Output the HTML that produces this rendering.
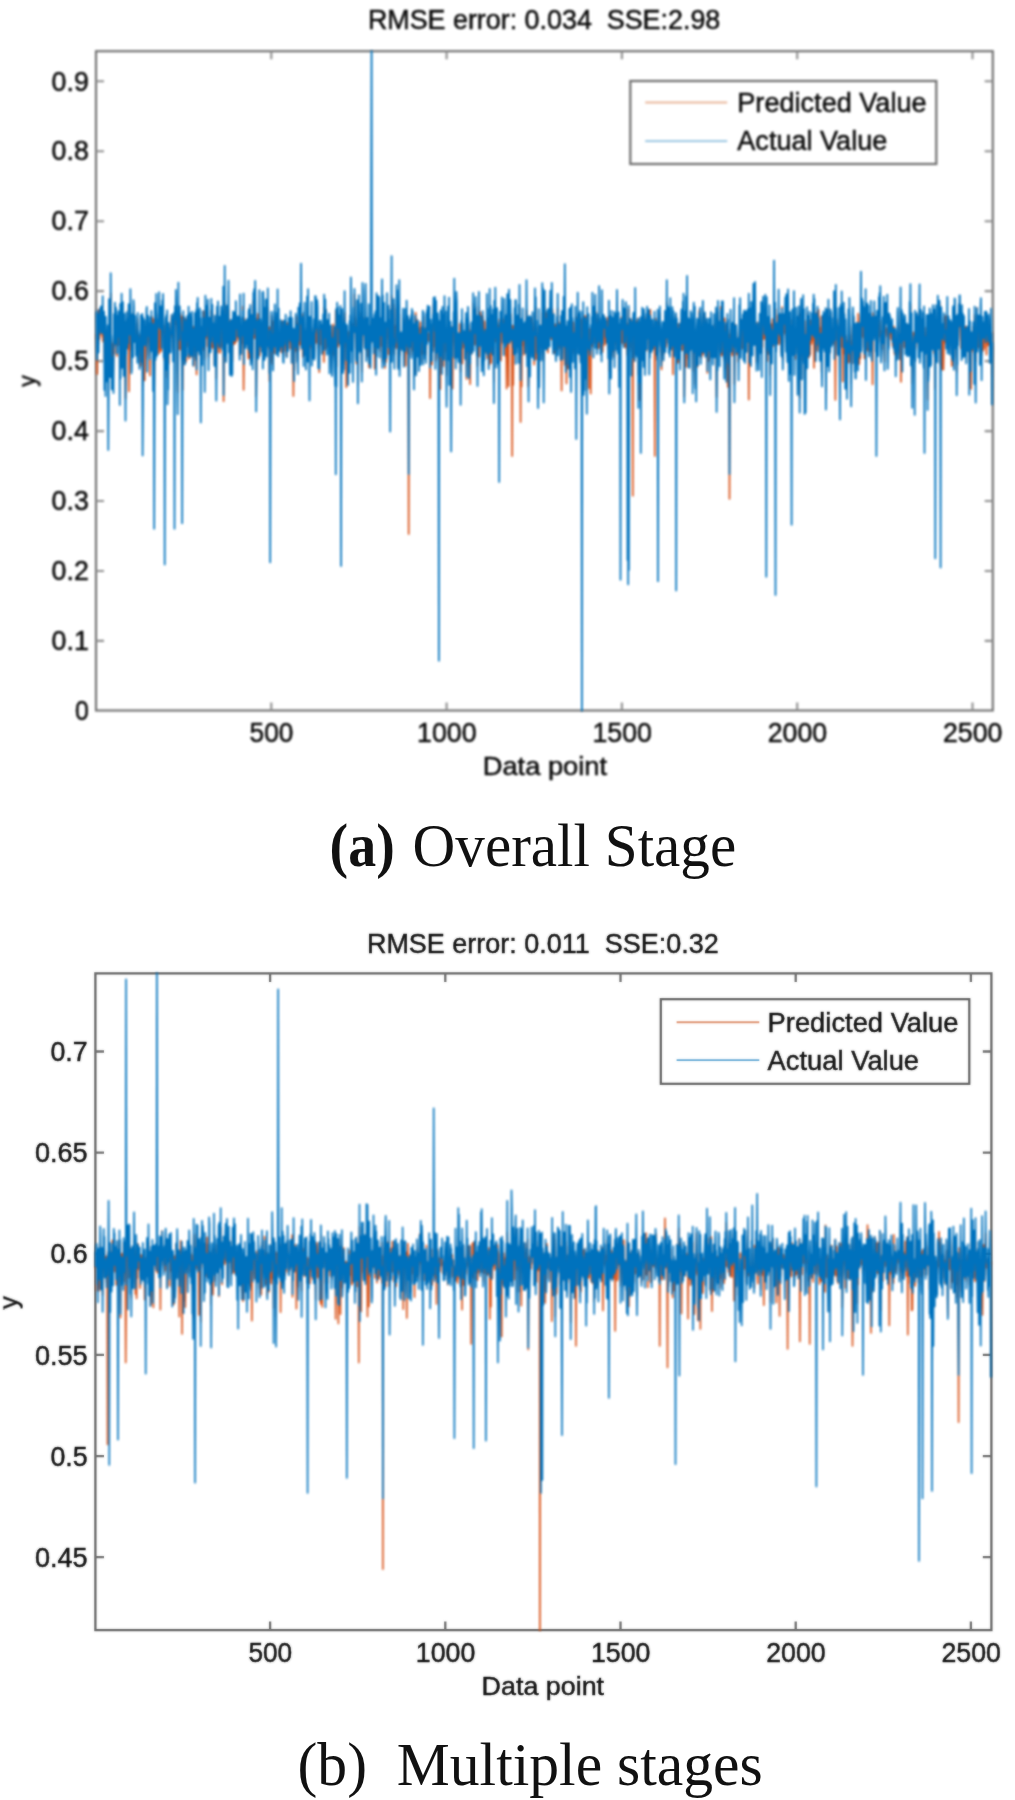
<!DOCTYPE html>
<html lang="en"><head><meta charset="utf-8"><title>Figure</title>
<style>html,body{margin:0;padding:0;background:#fff}svg{display:block}</style>
</head><body>
<svg width="1015" height="1800" viewBox="0 0 1015 1800">
<rect width="1015" height="1800" fill="#fff"/>
<clipPath id="clipA"><rect x="95.2" y="50.4" width="898.4" height="660.9"/></clipPath>
<filter id="bdA" x="-5%" y="-5%" width="110%" height="110%" color-interpolation-filters="sRGB"><feGaussianBlur stdDeviation="1"/></filter>
<filter id="baA" x="-5%" y="-5%" width="110%" height="110%" color-interpolation-filters="sRGB"><feGaussianBlur stdDeviation="1"/></filter>
<g filter="url(#baA)">
<rect x="96.0" y="51.2" width="896.8" height="659.3" fill="none" stroke="#6e6e6e" stroke-width="2.10"/>
<path d="M271.3 710.5v-8.0M271.3 51.2v8.0M446.6 710.5v-8.0M446.6 51.2v8.0M621.9 710.5v-8.0M621.9 51.2v8.0M797.2 710.5v-8.0M797.2 51.2v8.0M972.5 710.5v-8.0M972.5 51.2v8.0M96.0 640.9h8.0M992.7 640.9h-8.0M96.0 571.0h8.0M992.7 571.0h-8.0M96.0 501.0h8.0M992.7 501.0h-8.0M96.0 431.1h8.0M992.7 431.1h-8.0M96.0 361.1h8.0M992.7 361.1h-8.0M96.0 291.1h8.0M992.7 291.1h-8.0M96.0 221.2h8.0M992.7 221.2h-8.0M96.0 151.2h8.0M992.7 151.2h-8.0M96.0 81.3h8.0M992.7 81.3h-8.0" stroke="#909090" stroke-width="2.10" fill="none"/>
</g>
<g filter="url(#bdA)">
<g clip-path="url(#clipA)" fill="none" stroke-linejoin="round" stroke-width="1.70">
<path stroke="#D95319" d="M96.4 333.9L96.7 342.3L97.1 373.9L97.4 331.1L97.8 333.1L98.1 322.4L98.5 343.6L98.8 309.5L99.2 333.7L99.5 339.2L99.9 325.7L100.2 334.5L100.6 327.6L100.9 321.9L101.3 329.6L101.6 326.5L102.0 329.9L102.3 336.6L102.7 327.7L103.0 341.5L103.4 332.7L103.7 336.2L104.1 327.3L104.4 359.5L104.8 356.7L105.1 343.9L105.5 381.0L105.8 329.9L106.2 349.1L106.5 368.4L106.9 357.0L107.2 336.1L107.6 363.7L107.9 349.9L108.3 331.0L108.6 372.3L109.0 332.9L109.3 350.4L109.7 341.4L110.0 336.9L110.4 348.9L110.7 293.4L111.1 337.5L111.4 340.1L111.8 372.6L112.1 357.1L112.5 348.0L112.8 343.5L113.2 378.2L113.5 358.6L113.9 329.3L114.2 347.8L114.6 353.7L114.9 335.4L115.3 345.3L115.6 330.6L116.0 318.7L116.3 327.3L116.7 330.4L117.0 355.9L117.4 339.6L117.7 329.3L118.1 345.1L118.4 317.9L118.8 315.4L119.1 327.3L119.5 315.4L119.8 367.7L120.2 325.7L120.5 359.8L120.9 346.5L121.2 322.6L121.6 312.8L121.9 347.7L122.3 343.4L122.6 339.1L123.0 337.3L123.3 339.3L123.7 365.7L124.0 315.7L124.4 327.2L124.7 329.8L125.1 321.7L125.5 398.6L125.8 382.8L126.2 351.4L126.5 325.4L126.9 325.6L127.2 338.7L127.6 342.3L127.9 331.4L128.3 349.3L128.6 308.9L129.0 391.3L129.3 344.7L129.7 344.0L130.0 323.4L130.4 328.7L130.7 322.6L131.1 344.9L131.4 350.2L131.8 338.7L132.1 322.3L132.5 327.9L132.8 342.3L133.2 339.0L133.5 312.8L133.9 329.9L134.2 317.2L134.6 342.1L134.9 330.9L135.3 322.7L135.6 330.8L136.0 337.0L136.3 348.4L136.7 340.2L137.0 350.1L137.4 347.9L137.7 318.4L138.1 335.0L138.4 341.4L138.8 340.8L139.1 334.8L139.5 360.4L139.8 351.7L140.2 344.3L140.5 365.9L140.9 339.3L141.2 327.1L141.6 343.7L141.9 344.9L142.3 333.2L142.6 361.2L143.0 385.3L143.3 336.1L143.7 362.5L144.0 349.6L144.4 344.6L144.7 380.3L145.1 334.1L145.4 328.1L145.8 326.1L146.1 341.9L146.5 341.0L146.8 332.8L147.2 358.5L147.5 352.6L147.9 327.7L148.2 333.6L148.6 336.4L148.9 331.8L149.3 337.5L149.6 346.8L150.0 375.5L150.3 330.1L150.7 322.6L151.0 336.4L151.4 322.8L151.7 348.5L152.1 316.9L152.4 342.2L152.8 322.0L153.1 363.8L153.5 329.9L153.8 319.1L154.2 386.5L154.6 360.2L154.9 340.7L155.3 337.0L155.6 347.6L156.0 330.6L156.3 313.5L156.7 324.2L157.0 345.8L157.4 348.6L157.7 327.1L158.1 321.2L158.4 338.8L158.8 328.0L159.1 353.7L159.5 347.3L159.8 344.3L160.2 334.1L160.5 331.9L160.9 322.5L161.2 351.4L161.6 346.6L161.9 324.5L162.3 314.3L162.6 332.9L163.0 310.9L163.3 320.5L163.7 335.2L164.0 336.0L164.4 360.0L164.7 331.0L165.1 347.9L165.4 325.3L165.8 332.8L166.1 357.1L166.5 320.1L166.8 328.0L167.2 340.2L167.5 377.3L167.9 359.5L168.2 364.9L168.6 363.2L168.9 340.2L169.3 348.5L169.6 344.5L170.0 335.6L170.3 337.9L170.7 336.6L171.0 335.0L171.4 319.4L171.7 315.1L172.1 318.9L172.4 319.8L172.8 347.3L173.1 349.5L173.5 350.0L173.8 327.2L174.2 343.4L174.5 334.0L174.9 316.0L175.2 324.4L175.6 320.2L175.9 319.4L176.3 310.9L176.6 319.1L177.0 327.4L177.3 342.9L177.7 392.1L178.0 346.8L178.4 305.7L178.7 322.3L179.1 349.5L179.4 325.1L179.8 330.5L180.1 316.1L180.5 313.6L180.8 349.6L181.2 335.1L181.5 353.7L181.9 363.4L182.2 316.5L182.6 389.7L182.9 349.1L183.3 333.9L183.6 347.2L184.0 344.5L184.4 333.4L184.7 347.9L185.1 340.5L185.4 324.6L185.8 318.9L186.1 361.5L186.5 329.3L186.8 345.1L187.2 331.9L187.5 346.2L187.9 344.0L188.2 334.9L188.6 324.2L188.9 358.7L189.3 341.4L189.6 335.6L190.0 317.1L190.3 319.5L190.7 330.2L191.0 334.7L191.4 356.9L191.7 338.7L192.1 322.9L192.4 331.5L192.8 337.3L193.1 354.1L193.5 326.8L193.8 365.8L194.2 336.7L194.5 348.5L194.9 327.1L195.2 337.3L195.6 351.8L195.9 343.9L196.3 319.0L196.6 374.4L197.0 333.9L197.3 330.2L197.7 325.0L198.0 341.3L198.4 338.6L198.7 317.4L199.1 326.4L199.4 350.8L199.8 331.4L200.1 337.9L200.5 343.8L200.8 345.4L201.2 334.5L201.5 334.3L201.9 350.5L202.2 346.1L202.6 339.6L202.9 349.9L203.3 345.2L203.6 337.1L204.0 311.2L204.3 330.3L204.7 359.4L205.0 350.3L205.4 317.9L205.7 338.2L206.1 311.9L206.4 325.0L206.8 336.6L207.1 313.0L207.5 346.3L207.8 325.7L208.2 331.5L208.5 356.7L208.9 336.2L209.2 343.9L209.6 333.3L209.9 351.7L210.3 347.3L210.6 341.4L211.0 310.7L211.3 326.1L211.7 347.7L212.0 330.1L212.4 313.3L212.7 344.5L213.1 347.9L213.5 325.8L213.8 348.3L214.2 330.8L214.5 364.4L214.9 343.7L215.2 326.1L215.6 349.2L215.9 333.6L216.3 378.4L216.6 335.1L217.0 311.8L217.3 332.4L217.7 352.5L218.0 335.7L218.4 326.2L218.7 343.9L219.1 347.3L219.4 335.8L219.8 331.8L220.1 352.8L220.5 345.6L220.8 336.1L221.2 320.4L221.5 347.0L221.9 327.3L222.2 323.4L222.6 328.5L222.9 344.3L223.3 318.3L223.6 401.2L224.0 366.8L224.3 345.8L224.7 302.3L225.0 332.7L225.4 324.3L225.7 315.3L226.1 344.1L226.4 339.7L226.8 319.8L227.1 332.2L227.5 317.1L227.8 332.6L228.2 336.6L228.5 309.8L228.9 339.3L229.2 336.8L229.6 344.5L229.9 358.5L230.3 340.9L230.6 320.3L231.0 337.5L231.3 325.4L231.7 340.8L232.0 346.0L232.4 361.2L232.7 326.0L233.1 319.9L233.4 330.1L233.8 344.3L234.1 336.6L234.5 321.8L234.8 322.8L235.2 343.4L235.5 338.6L235.9 325.9L236.2 327.1L236.6 341.1L236.9 324.8L237.3 328.8L237.6 330.9L238.0 337.5L238.3 331.5L238.7 335.6L239.0 340.0L239.4 318.6L239.7 355.5L240.1 313.4L240.4 350.2L240.8 329.4L241.1 353.8L241.5 341.7L241.8 339.6L242.2 343.1L242.6 337.4L242.9 306.5L243.3 328.5L243.6 389.8L244.0 351.2L244.3 318.1L244.7 324.3L245.0 330.6L245.4 331.8L245.7 341.3L246.1 322.9L246.4 338.3L246.8 340.7L247.1 324.9L247.5 324.4L247.8 323.5L248.2 349.9L248.5 358.7L248.9 336.8L249.2 323.4L249.6 338.0L249.9 357.8L250.3 335.9L250.6 340.5L251.0 320.9L251.3 325.2L251.7 322.0L252.0 361.6L252.4 331.7L252.7 358.3L253.1 324.7L253.4 300.8L253.8 326.9L254.1 311.4L254.5 338.2L254.8 329.0L255.2 317.0L255.5 325.5L255.9 328.9L256.2 396.2L256.6 356.2L256.9 318.8L257.3 349.4L257.6 338.3L258.0 313.9L258.3 343.5L258.7 356.6L259.0 331.9L259.4 328.6L259.7 355.2L260.1 321.2L260.4 329.5L260.8 337.8L261.1 343.2L261.5 341.3L261.8 347.8L262.2 342.2L262.5 326.7L262.9 347.4L263.2 319.1L263.6 326.8L263.9 341.1L264.3 328.2L264.6 353.8L265.0 337.3L265.3 350.1L265.7 329.0L266.0 324.8L266.4 342.0L266.7 344.9L267.1 337.0L267.4 344.9L267.8 308.2L268.1 331.2L268.5 348.3L268.8 344.8L269.2 327.2L269.5 380.9L269.9 328.0L270.2 328.4L270.6 328.3L270.9 342.0L271.3 315.0L271.7 320.3L272.0 360.2L272.4 363.8L272.7 348.8L273.1 364.9L273.4 321.5L273.8 339.6L274.1 330.9L274.5 353.1L274.8 317.3L275.2 347.0L275.5 325.0L275.9 330.3L276.2 332.8L276.6 341.8L276.9 326.6L277.3 331.1L277.6 336.1L278.0 336.2L278.3 337.2L278.7 333.0L279.0 343.4L279.4 336.2L279.7 334.3L280.1 340.8L280.4 345.6L280.8 348.7L281.1 327.4L281.5 352.4L281.8 323.4L282.2 321.0L282.5 338.0L282.9 352.2L283.2 346.9L283.6 342.5L283.9 341.6L284.3 351.1L284.6 344.2L285.0 336.2L285.3 341.2L285.7 335.6L286.0 332.6L286.4 355.1L286.7 356.6L287.1 322.9L287.4 342.3L287.8 346.7L288.1 344.1L288.5 341.4L288.8 326.4L289.2 325.8L289.5 330.5L289.9 337.6L290.2 348.6L290.6 343.2L290.9 339.6L291.3 340.8L291.6 348.9L292.0 341.3L292.3 346.0L292.7 340.5L293.0 338.6L293.4 395.9L293.7 350.7L294.1 349.1L294.4 370.5L294.8 334.9L295.1 341.0L295.5 334.2L295.8 327.0L296.2 350.9L296.5 316.7L296.9 344.2L297.2 343.9L297.6 339.2L297.9 359.9L298.3 323.1L298.6 350.7L299.0 325.9L299.3 344.1L299.7 312.0L300.0 330.7L300.4 344.7L300.8 325.9L301.1 311.7L301.5 346.1L301.8 343.8L302.2 343.4L302.5 337.6L302.9 357.0L303.2 314.0L303.6 355.3L303.9 336.7L304.3 329.6L304.6 332.0L305.0 345.0L305.3 352.1L305.7 338.9L306.0 355.3L306.4 343.7L306.7 336.0L307.1 316.5L307.4 345.3L307.8 348.0L308.1 328.0L308.5 343.6L308.8 335.1L309.2 354.7L309.5 358.2L309.9 317.3L310.2 347.6L310.6 335.7L310.9 347.2L311.3 337.5L311.6 327.9L312.0 347.3L312.3 334.9L312.7 335.2L313.0 337.8L313.4 342.4L313.7 339.6L314.1 332.0L314.4 352.4L314.8 339.4L315.1 336.5L315.5 333.0L315.8 314.7L316.2 342.9L316.5 340.1L316.9 336.9L317.2 332.8L317.6 328.1L317.9 344.7L318.3 348.1L318.6 345.7L319.0 349.5L319.3 372.2L319.7 325.0L320.0 338.7L320.4 331.0L320.7 344.4L321.1 332.5L321.4 326.4L321.8 340.0L322.1 345.5L322.5 349.0L322.8 333.4L323.2 347.1L323.5 327.9L323.9 361.9L324.2 307.5L324.6 317.6L324.9 335.6L325.3 315.3L325.6 349.0L326.0 309.8L326.3 346.1L326.7 346.8L327.0 323.3L327.4 346.7L327.7 324.9L328.1 335.7L328.4 326.2L328.8 350.5L329.1 330.5L329.5 353.1L329.9 334.7L330.2 340.7L330.6 338.4L330.9 340.7L331.3 337.5L331.6 362.4L332.0 373.7L332.3 356.1L332.7 355.0L333.0 324.4L333.4 354.7L333.7 335.7L334.1 339.3L334.4 343.5L334.8 360.7L335.1 358.9L335.5 342.7L335.8 310.8L336.2 321.4L336.5 366.4L336.9 326.9L337.2 328.1L337.6 329.5L337.9 340.8L338.3 346.7L338.6 317.6L339.0 319.6L339.3 343.5L339.7 335.5L340.0 334.7L340.4 321.0L340.7 335.9L341.1 341.4L341.4 344.2L341.8 329.0L342.1 318.6L342.5 330.2L342.8 324.3L343.2 357.8L343.5 325.7L343.9 363.8L344.2 349.3L344.6 312.3L344.9 314.4L345.3 332.7L345.6 346.8L346.0 333.9L346.3 387.3L346.7 327.3L347.0 330.3L347.4 337.6L347.7 332.6L348.1 368.3L348.4 342.6L348.8 342.4L349.1 331.6L349.5 344.5L349.8 349.0L350.2 334.0L350.5 345.6L350.9 322.6L351.2 334.1L351.6 336.5L351.9 343.9L352.3 335.5L352.6 323.9L353.0 360.0L353.3 328.2L353.7 326.4L354.0 323.7L354.4 294.2L354.7 318.9L355.1 317.0L355.4 328.4L355.8 348.7L356.1 340.9L356.5 363.5L356.8 342.7L357.2 325.0L357.5 319.5L357.9 384.6L358.2 324.7L358.6 344.4L358.9 324.0L359.3 331.0L359.7 350.6L360.0 320.6L360.4 351.5L360.7 340.9L361.1 312.9L361.4 338.6L361.8 371.8L362.1 338.3L362.5 321.8L362.8 316.8L363.2 331.8L363.5 328.4L363.9 335.0L364.2 333.5L364.6 347.1L364.9 345.6L365.3 317.7L365.6 321.5L366.0 328.5L366.3 349.9L366.7 345.2L367.0 333.2L367.4 346.6L367.7 339.3L368.1 356.6L368.4 332.4L368.8 329.8L369.1 367.5L369.5 327.6L369.8 341.8L370.2 328.8L370.5 344.6L370.9 321.7L371.2 330.0L371.6 335.3L371.9 338.0L372.3 341.6L372.6 321.8L373.0 332.7L373.3 318.7L373.7 339.7L374.0 326.4L374.4 333.4L374.7 368.6L375.1 321.1L375.4 327.5L375.8 324.0L376.1 357.9L376.5 311.7L376.8 327.0L377.2 336.1L377.5 329.0L377.9 328.0L378.2 336.2L378.6 342.4L378.9 302.3L379.3 318.4L379.6 351.5L380.0 326.1L380.3 332.3L380.7 338.8L381.0 345.8L381.4 344.9L381.7 335.3L382.1 313.8L382.4 361.6L382.8 332.9L383.1 343.9L383.5 350.2L383.8 344.7L384.2 329.1L384.5 343.5L384.9 367.9L385.2 353.2L385.6 335.9L385.9 362.2L386.3 359.1L386.6 357.6L387.0 319.1L387.3 338.1L387.7 317.8L388.0 324.8L388.4 308.7L388.8 354.2L389.1 330.1L389.5 341.5L389.8 336.1L390.2 361.9L390.5 323.2L390.9 322.6L391.2 340.5L391.6 295.8L391.9 343.8L392.3 338.5L392.6 337.4L393.0 345.6L393.3 335.0L393.7 304.5L394.0 347.2L394.4 354.7L394.7 327.5L395.1 340.7L395.4 326.0L395.8 336.6L396.1 345.2L396.5 308.7L396.8 348.1L397.2 324.2L397.5 337.4L397.9 325.2L398.2 367.1L398.6 337.9L398.9 338.7L399.3 314.1L399.6 354.9L400.0 354.8L400.3 340.1L400.7 333.8L401.0 339.0L401.4 335.9L401.7 348.6L402.1 340.9L402.4 340.7L402.8 330.7L403.1 318.5L403.5 328.6L403.8 352.3L404.2 326.3L404.5 330.2L404.9 334.7L405.2 320.2L405.6 365.8L405.9 341.9L406.3 343.2L406.6 318.8L407.0 318.2L407.3 332.9L407.7 353.7L408.0 339.3L408.4 319.1L408.7 533.9L409.1 331.5L409.4 345.7L409.8 339.2L410.1 343.8L410.5 347.3L410.8 330.9L411.2 326.0L411.5 355.1L411.9 324.8L412.2 347.5L412.6 325.0L412.9 350.3L413.3 344.2L413.6 327.5L414.0 376.6L414.3 332.5L414.7 353.8L415.0 339.2L415.4 316.7L415.7 312.9L416.1 372.7L416.4 318.9L416.8 350.3L417.1 343.5L417.5 339.8L417.9 342.0L418.2 327.1L418.6 330.1L418.9 351.1L419.3 355.9L419.6 349.7L420.0 332.4L420.3 322.0L420.7 361.8L421.0 340.4L421.4 328.1L421.7 334.0L422.1 353.9L422.4 339.5L422.8 337.4L423.1 351.5L423.5 316.4L423.8 354.2L424.2 341.9L424.5 353.4L424.9 349.1L425.2 328.0L425.6 350.2L425.9 354.6L426.3 347.5L426.6 336.5L427.0 328.8L427.3 341.0L427.7 332.1L428.0 341.1L428.4 336.1L428.7 337.7L429.1 333.7L429.4 340.8L429.8 336.7L430.1 398.1L430.5 334.0L430.8 333.8L431.2 342.0L431.5 327.4L431.9 364.6L432.2 324.3L432.6 336.9L432.9 350.9L433.3 326.5L433.6 304.6L434.0 323.4L434.3 337.9L434.7 346.6L435.0 318.8L435.4 360.3L435.7 361.0L436.1 305.2L436.4 333.4L436.8 334.9L437.1 330.8L437.5 319.1L437.8 331.8L438.2 356.7L438.5 358.8L438.9 326.1L439.2 322.3L439.6 332.4L439.9 335.7L440.3 389.0L440.6 336.1L441.0 339.9L441.3 345.1L441.7 340.6L442.0 351.9L442.4 318.8L442.7 335.7L443.1 348.9L443.4 366.2L443.8 327.1L444.1 357.5L444.5 337.0L444.8 321.1L445.2 332.3L445.5 351.2L445.9 335.0L446.2 341.4L446.6 375.4L447.0 348.2L447.3 329.0L447.7 327.6L448.0 325.9L448.4 351.0L448.7 356.8L449.1 316.5L449.4 354.9L449.8 332.6L450.1 349.8L450.5 341.0L450.8 364.8L451.2 331.7L451.5 327.3L451.9 327.0L452.2 365.8L452.6 388.5L452.9 347.2L453.3 336.4L453.6 332.2L454.0 340.1L454.3 317.6L454.7 324.1L455.0 316.5L455.4 344.9L455.7 354.0L456.1 320.3L456.4 311.0L456.8 322.2L457.1 356.4L457.5 334.3L457.8 342.4L458.2 340.7L458.5 339.1L458.9 353.3L459.2 352.1L459.6 357.4L459.9 323.8L460.3 341.3L460.6 371.6L461.0 338.4L461.3 348.4L461.7 350.7L462.0 330.5L462.4 363.5L462.7 335.4L463.1 336.0L463.4 342.6L463.8 342.1L464.1 347.6L464.5 345.1L464.8 338.4L465.2 359.0L465.5 333.7L465.9 331.8L466.2 330.5L466.6 379.0L466.9 341.4L467.3 341.6L467.6 352.9L468.0 338.2L468.3 334.8L468.7 324.7L469.0 366.8L469.4 352.4L469.7 330.5L470.1 384.1L470.4 349.0L470.8 344.0L471.1 353.9L471.5 329.9L471.8 336.4L472.2 329.9L472.5 342.9L472.9 322.7L473.2 303.5L473.6 343.9L473.9 327.8L474.3 329.0L474.6 333.3L475.0 344.8L475.3 333.4L475.7 307.2L476.1 341.5L476.4 323.5L476.8 349.1L477.1 323.3L477.5 366.0L477.8 344.0L478.2 333.7L478.5 320.4L478.9 307.2L479.2 356.6L479.6 326.4L479.9 330.6L480.3 312.1L480.6 333.8L481.0 331.4L481.3 315.5L481.7 348.2L482.0 337.2L482.4 337.8L482.7 326.5L483.1 317.3L483.4 353.8L483.8 360.0L484.1 333.0L484.5 321.4L484.8 327.4L485.2 332.5L485.5 333.5L485.9 352.7L486.2 342.8L486.6 343.6L486.9 324.6L487.3 358.2L487.6 326.6L488.0 332.1L488.3 342.3L488.7 360.1L489.0 332.8L489.4 364.9L489.7 314.9L490.1 351.1L490.4 348.0L490.8 325.1L491.1 362.9L491.5 328.6L491.8 321.8L492.2 344.4L492.5 335.5L492.9 324.1L493.2 330.3L493.6 334.9L493.9 381.3L494.3 317.6L494.6 337.2L495.0 341.4L495.3 308.4L495.7 340.3L496.0 326.0L496.4 342.2L496.7 317.8L497.1 312.1L497.4 336.4L497.8 336.5L498.1 339.0L498.5 325.0L498.8 351.4L499.2 346.9L499.5 319.6L499.9 340.6L500.2 332.5L500.6 334.9L500.9 360.4L501.3 319.3L501.6 328.0L502.0 327.0L502.3 320.0L502.7 318.1L503.0 332.6L503.4 344.3L503.7 339.5L504.1 332.0L504.4 320.9L504.8 319.2L505.2 331.3L505.5 327.1L505.9 356.5L506.2 330.0L506.6 388.6L506.9 347.6L507.3 314.0L507.6 322.3L508.0 336.5L508.3 337.3L508.7 386.1L509.0 300.0L509.4 340.4L509.7 341.3L510.1 328.4L510.4 314.2L510.8 314.3L511.1 323.7L511.5 340.5L511.8 341.6L512.2 456.0L512.5 325.7L512.9 350.7L513.2 385.0L513.6 326.1L513.9 346.6L514.3 330.5L514.6 327.3L515.0 348.7L515.3 337.0L515.7 345.2L516.0 335.4L516.4 339.3L516.7 330.0L517.1 326.2L517.4 334.5L517.8 346.0L518.1 325.6L518.5 340.0L518.8 317.0L519.2 344.1L519.5 307.9L519.9 349.0L520.2 341.5L520.6 422.0L520.9 323.9L521.3 355.1L521.6 386.5L522.0 336.5L522.3 332.3L522.7 325.0L523.0 345.2L523.4 332.4L523.7 336.0L524.1 354.7L524.4 332.1L524.8 329.1L525.1 346.3L525.5 331.9L525.8 343.9L526.2 334.1L526.5 310.0L526.9 333.0L527.2 356.9L527.6 347.9L527.9 328.5L528.3 386.4L528.6 380.5L529.0 321.9L529.3 348.7L529.7 346.8L530.0 353.9L530.4 322.1L530.7 336.8L531.1 318.4L531.4 328.6L531.8 327.1L532.1 347.3L532.5 322.6L532.8 341.1L533.2 327.7L533.5 337.2L533.9 344.3L534.2 364.6L534.6 315.2L535.0 310.9L535.3 335.3L535.7 307.6L536.0 359.6L536.4 335.0L536.7 326.9L537.1 339.0L537.4 334.1L537.8 346.0L538.1 378.9L538.5 357.3L538.8 332.9L539.2 384.0L539.5 327.2L539.9 344.9L540.2 346.9L540.6 344.5L540.9 325.6L541.3 343.3L541.6 348.3L542.0 335.4L542.3 312.8L542.7 346.2L543.0 307.6L543.4 348.0L543.7 360.7L544.1 350.2L544.4 334.2L544.8 306.9L545.1 346.6L545.5 342.0L545.8 340.6L546.2 313.2L546.5 345.9L546.9 340.8L547.2 328.1L547.6 330.9L547.9 352.4L548.3 311.2L548.6 338.0L549.0 334.2L549.3 339.0L549.7 337.8L550.0 333.4L550.4 319.4L550.7 308.2L551.1 331.1L551.4 339.3L551.8 307.8L552.1 337.6L552.5 310.1L552.8 332.9L553.2 343.6L553.5 324.6L553.9 327.0L554.2 343.4L554.6 353.1L554.9 343.0L555.3 324.4L555.6 342.0L556.0 351.9L556.3 349.5L556.7 324.2L557.0 329.2L557.4 331.0L557.7 308.3L558.1 349.9L558.4 346.2L558.8 322.4L559.1 347.3L559.5 323.9L559.8 342.2L560.2 348.1L560.5 333.5L560.9 327.7L561.2 334.4L561.6 390.5L561.9 321.5L562.3 327.0L562.6 344.9L563.0 340.6L563.3 340.1L563.7 320.5L564.1 331.2L564.4 349.2L564.8 365.1L565.1 333.3L565.5 347.8L565.8 350.7L566.2 351.4L566.5 383.4L566.9 328.6L567.2 337.6L567.6 325.3L567.9 332.8L568.3 368.4L568.6 328.2L569.0 346.9L569.3 330.5L569.7 342.3L570.0 356.0L570.4 347.8L570.7 328.9L571.1 360.7L571.4 357.0L571.8 333.9L572.1 358.2L572.5 329.4L572.8 350.6L573.2 322.1L573.5 323.6L573.9 331.0L574.2 353.3L574.6 337.6L574.9 367.6L575.3 333.0L575.6 343.1L576.0 340.6L576.3 317.5L576.7 328.5L577.0 345.7L577.4 339.4L577.7 312.9L578.1 327.7L578.4 344.0L578.8 342.9L579.1 321.8L579.5 315.4L579.8 354.7L580.2 332.5L580.5 359.8L580.9 327.1L581.2 340.2L581.6 350.9L581.9 319.9L582.3 318.1L582.6 321.0L583.0 348.0L583.3 374.4L583.7 350.5L584.0 341.0L584.4 362.8L584.7 336.7L585.1 315.9L585.4 325.0L585.8 367.4L586.1 336.5L586.5 350.4L586.8 390.4L587.2 316.2L587.5 352.2L587.9 330.8L588.2 333.0L588.6 345.2L588.9 346.5L589.3 388.2L589.6 335.9L590.0 328.5L590.3 345.7L590.7 393.5L591.0 341.4L591.4 345.9L591.7 329.6L592.1 346.5L592.4 329.6L592.8 316.6L593.2 334.8L593.5 338.8L593.9 330.1L594.2 333.8L594.6 342.9L594.9 329.5L595.3 310.4L595.6 338.4L596.0 312.2L596.3 333.5L596.7 327.7L597.0 336.7L597.4 329.2L597.7 326.6L598.1 318.9L598.4 328.6L598.8 348.5L599.1 316.5L599.5 335.1L599.8 339.0L600.2 338.9L600.5 346.6L600.9 325.2L601.2 327.3L601.6 335.3L601.9 323.5L602.3 339.7L602.6 351.9L603.0 343.0L603.3 337.5L603.7 315.7L604.0 322.8L604.4 336.1L604.7 325.0L605.1 345.1L605.4 332.6L605.8 339.6L606.1 341.6L606.5 335.9L606.8 334.0L607.2 335.3L607.5 317.6L607.9 335.3L608.2 349.1L608.6 333.1L608.9 322.5L609.3 370.9L609.6 329.3L610.0 322.6L610.3 351.1L610.7 338.3L611.0 363.0L611.4 331.6L611.7 343.6L612.1 356.1L612.4 324.3L612.8 351.5L613.1 348.1L613.5 329.4L613.8 327.4L614.2 338.6L614.5 357.3L614.9 332.8L615.2 330.3L615.6 341.4L615.9 337.6L616.3 333.0L616.6 344.8L617.0 303.4L617.3 335.8L617.7 342.0L618.0 335.9L618.4 330.4L618.7 331.9L619.1 370.3L619.4 332.1L619.8 336.8L620.1 324.1L620.5 346.2L620.8 336.5L621.2 331.7L621.5 317.3L621.9 331.5L622.3 343.0L622.6 320.4L623.0 323.9L623.3 335.7L623.7 345.1L624.0 319.3L624.4 335.8L624.7 340.5L625.1 346.4L625.4 347.4L625.8 309.1L626.1 332.2L626.5 335.7L626.8 346.7L627.2 355.2L627.5 324.2L627.9 334.9L628.2 338.8L628.6 308.9L628.9 363.8L629.3 320.7L629.6 347.4L630.0 331.4L630.3 327.1L630.7 340.3L631.0 319.4L631.4 351.1L631.7 343.8L632.1 331.9L632.4 324.8L632.8 495.7L633.1 324.7L633.5 324.5L633.8 342.5L634.2 356.8L634.5 340.1L634.9 343.1L635.2 320.4L635.6 332.3L635.9 321.7L636.3 329.7L636.6 336.5L637.0 332.5L637.3 319.9L637.7 323.0L638.0 318.3L638.4 374.8L638.7 334.3L639.1 343.1L639.4 351.1L639.8 399.9L640.1 329.5L640.5 331.9L640.8 327.3L641.2 349.4L641.5 335.4L641.9 339.0L642.2 325.3L642.6 344.0L642.9 352.4L643.3 350.8L643.6 354.9L644.0 328.1L644.3 332.6L644.7 317.0L645.0 340.1L645.4 330.4L645.7 336.9L646.1 325.7L646.4 350.4L646.8 333.5L647.1 323.2L647.5 326.3L647.8 321.8L648.2 328.5L648.5 330.4L648.9 331.6L649.2 352.2L649.6 315.4L649.9 352.8L650.3 309.8L650.6 329.7L651.0 323.6L651.4 329.9L651.7 349.2L652.1 320.3L652.4 343.2L652.8 341.8L653.1 333.8L653.5 344.9L653.8 345.9L654.2 328.5L654.5 323.0L654.9 456.0L655.2 326.6L655.6 318.5L655.9 330.0L656.3 341.5L656.6 332.0L657.0 333.6L657.3 349.6L657.7 321.3L658.0 353.7L658.4 351.9L658.7 322.9L659.1 337.2L659.4 331.1L659.8 312.6L660.1 336.0L660.5 336.1L660.8 341.1L661.2 356.6L661.5 369.5L661.9 340.8L662.2 337.4L662.6 332.0L662.9 344.2L663.3 340.9L663.6 354.8L664.0 340.5L664.3 329.1L664.7 336.3L665.0 315.5L665.4 328.7L665.7 318.6L666.1 339.3L666.4 346.9L666.8 301.8L667.1 322.6L667.5 327.3L667.8 331.5L668.2 338.2L668.5 323.1L668.9 345.8L669.2 342.9L669.6 337.5L669.9 347.8L670.3 325.7L670.6 327.8L671.0 344.0L671.3 323.8L671.7 346.4L672.0 337.2L672.4 319.8L672.7 342.5L673.1 374.3L673.4 324.2L673.8 338.4L674.1 330.0L674.5 352.1L674.8 323.9L675.2 329.1L675.5 322.9L675.9 315.5L676.2 319.3L676.6 342.9L676.9 335.0L677.3 337.9L677.6 362.9L678.0 323.9L678.3 361.9L678.7 335.4L679.0 340.8L679.4 335.1L679.7 328.2L680.1 338.6L680.5 339.0L680.8 340.7L681.2 319.6L681.5 326.0L681.9 331.2L682.2 350.2L682.6 340.5L682.9 314.3L683.3 317.4L683.6 342.3L684.0 337.8L684.3 396.7L684.7 333.8L685.0 317.6L685.4 343.0L685.7 345.7L686.1 315.5L686.4 366.8L686.8 324.5L687.1 307.2L687.5 341.9L687.8 336.8L688.2 343.6L688.5 358.8L688.9 329.4L689.2 352.9L689.6 347.5L689.9 337.1L690.3 335.8L690.6 322.4L691.0 346.9L691.3 325.2L691.7 335.0L692.0 334.5L692.4 338.3L692.7 371.0L693.1 338.2L693.4 321.3L693.8 340.5L694.1 343.6L694.5 345.9L694.8 330.8L695.2 352.2L695.5 384.2L695.9 334.6L696.2 368.0L696.6 336.2L696.9 367.1L697.3 334.3L697.6 366.0L698.0 364.1L698.3 329.8L698.7 351.6L699.0 347.3L699.4 310.4L699.7 347.2L700.1 331.3L700.4 330.2L700.8 358.2L701.1 329.9L701.5 338.3L701.8 356.7L702.2 327.6L702.5 320.8L702.9 309.6L703.2 354.2L703.6 351.4L703.9 346.1L704.3 340.7L704.6 339.0L705.0 315.4L705.3 351.4L705.7 331.5L706.0 337.1L706.4 355.8L706.7 323.8L707.1 337.7L707.4 372.8L707.8 333.9L708.1 330.4L708.5 330.9L708.8 360.8L709.2 341.0L709.6 331.3L709.9 331.7L710.3 347.8L710.6 335.7L711.0 329.0L711.3 335.5L711.7 342.1L712.0 350.9L712.4 342.8L712.7 333.1L713.1 343.5L713.4 333.9L713.8 324.4L714.1 355.7L714.5 329.9L714.8 355.1L715.2 331.5L715.5 350.3L715.9 334.2L716.2 328.1L716.6 397.1L716.9 370.0L717.3 333.4L717.6 349.9L718.0 312.2L718.3 338.4L718.7 329.8L719.0 323.7L719.4 325.9L719.7 351.7L720.1 333.5L720.4 330.3L720.8 306.8L721.1 348.9L721.5 355.7L721.8 316.2L722.2 348.0L722.5 354.8L722.9 319.3L723.2 343.5L723.6 346.4L723.9 337.8L724.3 360.9L724.6 318.4L725.0 339.9L725.3 328.7L725.7 342.1L726.0 325.7L726.4 368.9L726.7 332.8L727.1 365.1L727.4 322.0L727.8 386.8L728.1 333.2L728.5 353.2L728.8 342.5L729.2 360.8L729.5 498.8L729.9 334.2L730.2 337.1L730.6 328.9L730.9 335.4L731.3 328.4L731.6 339.0L732.0 338.5L732.3 355.4L732.7 344.9L733.0 323.2L733.4 332.2L733.7 352.3L734.1 324.2L734.4 384.0L734.8 339.2L735.1 324.6L735.5 337.6L735.8 327.5L736.2 328.8L736.5 338.7L736.9 354.5L737.2 346.9L737.6 350.0L737.9 345.7L738.3 361.8L738.6 353.2L739.0 344.4L739.4 336.8L739.7 337.7L740.1 322.5L740.4 345.1L740.8 345.5L741.1 339.3L741.5 319.6L741.8 348.4L742.2 328.8L742.5 339.9L742.9 324.0L743.2 341.5L743.6 350.1L743.9 327.8L744.3 338.0L744.6 332.3L745.0 348.0L745.3 337.8L745.7 339.9L746.0 340.0L746.4 340.6L746.7 340.8L747.1 315.1L747.4 318.9L747.8 323.0L748.1 336.3L748.5 329.2L748.8 399.6L749.2 323.9L749.5 343.9L749.9 348.6L750.2 330.4L750.6 326.5L750.9 344.4L751.3 325.6L751.6 340.3L752.0 343.7L752.3 317.0L752.7 342.3L753.0 325.7L753.4 307.2L753.7 329.5L754.1 337.4L754.4 341.0L754.8 340.2L755.1 328.0L755.5 322.3L755.8 334.9L756.2 337.3L756.5 362.3L756.9 342.0L757.2 351.2L757.6 322.3L757.9 339.7L758.3 344.7L758.6 346.9L759.0 346.8L759.3 332.9L759.7 323.2L760.0 328.1L760.4 343.8L760.7 332.1L761.1 325.9L761.4 342.5L761.8 352.8L762.1 310.3L762.5 346.9L762.8 305.9L763.2 314.5L763.5 339.1L763.9 333.3L764.2 337.5L764.6 338.6L764.9 337.6L765.3 315.3L765.6 319.3L766.0 338.7L766.3 351.8L766.7 327.6L767.0 327.3L767.4 360.9L767.7 333.3L768.1 354.1L768.5 331.8L768.8 335.6L769.2 351.9L769.5 320.2L769.9 333.5L770.2 374.8L770.6 327.3L770.9 354.6L771.3 331.6L771.6 324.0L772.0 346.3L772.3 332.6L772.7 319.0L773.0 334.4L773.4 346.0L773.7 324.9L774.1 332.7L774.4 330.5L774.8 314.0L775.1 318.6L775.5 309.1L775.8 335.7L776.2 349.1L776.5 328.9L776.9 338.1L777.2 333.9L777.6 329.5L777.9 315.4L778.3 332.1L778.6 313.8L779.0 344.2L779.3 322.9L779.7 330.6L780.0 331.3L780.4 340.8L780.7 331.3L781.1 339.4L781.4 353.0L781.8 351.2L782.1 307.0L782.5 354.1L782.8 359.9L783.2 350.2L783.5 330.2L783.9 333.7L784.2 330.5L784.6 322.8L784.9 320.4L785.3 315.2L785.6 332.9L786.0 340.0L786.3 307.2L786.7 313.9L787.0 344.0L787.4 337.2L787.7 333.2L788.1 318.7L788.4 336.2L788.8 367.2L789.1 340.0L789.5 335.3L789.8 352.9L790.2 327.0L790.5 360.9L790.9 332.1L791.2 338.3L791.6 339.8L791.9 339.6L792.3 319.5L792.6 351.2L793.0 313.3L793.3 348.4L793.7 318.0L794.0 325.9L794.4 353.9L794.7 344.3L795.1 329.5L795.4 358.9L795.8 329.8L796.1 344.0L796.5 346.5L796.8 334.7L797.2 322.9L797.6 349.9L797.9 354.4L798.3 337.3L798.6 340.0L799.0 314.1L799.3 356.8L799.7 397.8L800.0 342.9L800.4 337.9L800.7 305.5L801.1 307.3L801.4 322.7L801.8 361.1L802.1 334.8L802.5 325.6L802.8 349.4L803.2 312.8L803.5 355.6L803.9 356.4L804.2 322.9L804.6 378.6L804.9 354.4L805.3 343.6L805.6 370.7L806.0 341.0L806.3 320.7L806.7 332.7L807.0 313.0L807.4 358.7L807.7 322.6L808.1 353.8L808.4 350.9L808.8 348.7L809.1 357.2L809.5 319.0L809.8 327.5L810.2 354.8L810.5 330.6L810.9 332.4L811.2 320.5L811.6 343.8L811.9 330.7L812.3 333.4L812.6 331.9L813.0 313.2L813.3 340.4L813.7 322.1L814.0 367.8L814.4 308.7L814.7 332.5L815.1 337.8L815.4 322.2L815.8 344.8L816.1 341.1L816.5 312.9L816.8 336.9L817.2 350.9L817.5 333.7L817.9 346.1L818.2 328.2L818.6 309.9L818.9 318.6L819.3 340.1L819.6 341.4L820.0 358.5L820.3 345.9L820.7 327.6L821.0 337.1L821.4 316.7L821.7 371.9L822.1 343.4L822.4 328.1L822.8 336.7L823.1 342.4L823.5 342.2L823.8 345.3L824.2 324.2L824.5 338.5L824.9 346.8L825.2 346.3L825.6 336.2L825.9 392.2L826.3 354.7L826.7 327.8L827.0 335.9L827.4 359.2L827.7 319.6L828.1 341.7L828.4 307.8L828.8 343.4L829.1 359.1L829.5 341.5L829.8 328.7L830.2 352.7L830.5 329.9L830.9 335.6L831.2 332.7L831.6 340.5L831.9 328.7L832.3 332.5L832.6 334.6L833.0 344.4L833.3 330.8L833.7 318.2L834.0 305.3L834.4 335.7L834.7 340.5L835.1 349.3L835.4 399.8L835.8 320.0L836.1 338.6L836.5 324.8L836.8 319.5L837.2 338.7L837.5 339.4L837.9 351.2L838.2 337.1L838.6 327.0L838.9 339.1L839.3 325.9L839.6 346.8L840.0 397.2L840.3 344.8L840.7 339.0L841.0 326.5L841.4 347.0L841.7 307.4L842.1 343.2L842.4 331.4L842.8 381.4L843.1 325.7L843.5 353.6L843.8 312.8L844.2 338.9L844.5 324.3L844.9 337.7L845.2 353.9L845.6 340.0L845.9 335.8L846.3 345.4L846.6 342.4L847.0 375.3L847.3 340.8L847.7 342.4L848.0 341.2L848.4 360.3L848.7 362.6L849.1 361.4L849.4 334.2L849.8 336.1L850.1 339.6L850.5 347.1L850.8 350.6L851.2 383.1L851.5 341.0L851.9 363.7L852.2 335.4L852.6 325.7L852.9 333.2L853.3 342.9L853.6 317.7L854.0 339.0L854.3 326.3L854.7 359.2L855.0 331.9L855.4 365.1L855.8 340.4L856.1 351.0L856.5 347.0L856.8 324.0L857.2 352.3L857.5 349.0L857.9 364.8L858.2 313.7L858.6 332.1L858.9 336.4L859.3 363.8L859.6 330.2L860.0 344.5L860.3 358.5L860.7 318.5L861.0 311.3L861.4 347.4L861.7 325.1L862.1 328.2L862.4 333.5L862.8 327.8L863.1 337.0L863.5 329.4L863.8 320.4L864.2 333.4L864.5 358.3L864.9 332.0L865.2 323.5L865.6 313.0L865.9 348.8L866.3 336.7L866.6 346.0L867.0 316.7L867.3 325.5L867.7 350.6L868.0 322.4L868.4 328.1L868.7 348.7L869.1 355.2L869.4 341.8L869.8 323.0L870.1 319.5L870.5 346.5L870.8 331.3L871.2 351.9L871.5 346.1L871.9 335.9L872.2 334.2L872.6 384.3L872.9 345.1L873.3 313.1L873.6 329.0L874.0 336.9L874.3 316.2L874.7 323.5L875.0 327.9L875.4 318.4L875.7 337.9L876.1 344.7L876.4 336.1L876.8 324.3L877.1 315.7L877.5 344.6L877.8 316.0L878.2 342.5L878.5 333.0L878.9 336.5L879.2 326.2L879.6 328.4L879.9 324.2L880.3 319.8L880.6 341.9L881.0 337.7L881.3 344.0L881.7 349.2L882.0 331.6L882.4 337.9L882.7 320.3L883.1 335.8L883.4 326.0L883.8 327.2L884.1 317.2L884.5 361.4L884.9 314.0L885.2 325.2L885.6 329.5L885.9 332.1L886.3 332.6L886.6 328.6L887.0 336.3L887.3 331.1L887.7 340.1L888.0 353.2L888.4 329.1L888.7 346.2L889.1 318.8L889.4 329.1L889.8 334.7L890.1 334.1L890.5 331.7L890.8 333.5L891.2 338.8L891.5 339.5L891.9 330.4L892.2 331.8L892.6 345.5L892.9 339.8L893.3 347.4L893.6 331.0L894.0 326.6L894.3 348.6L894.7 354.5L895.0 341.2L895.4 345.1L895.7 354.2L896.1 343.5L896.4 343.6L896.8 359.3L897.1 353.2L897.5 334.3L897.8 326.6L898.2 333.7L898.5 335.1L898.9 343.2L899.2 342.9L899.6 335.0L899.9 342.3L900.3 339.3L900.6 311.5L901.0 381.8L901.3 335.8L901.7 326.7L902.0 350.5L902.4 354.4L902.7 332.9L903.1 328.1L903.4 328.8L903.8 340.0L904.1 328.9L904.5 347.4L904.8 319.9L905.2 321.4L905.5 340.3L905.9 331.9L906.2 349.5L906.6 341.1L906.9 330.0L907.3 343.6L907.6 344.0L908.0 324.9L908.3 333.6L908.7 325.9L909.0 350.3L909.4 337.3L909.7 328.2L910.1 332.3L910.4 304.5L910.8 343.4L911.1 336.6L911.5 332.1L911.8 337.0L912.2 383.3L912.5 360.8L912.9 348.1L913.2 346.7L913.6 344.3L913.9 332.3L914.3 336.6L914.7 342.6L915.0 334.9L915.4 349.5L915.7 344.2L916.1 335.4L916.4 333.1L916.8 331.7L917.1 338.2L917.5 327.4L917.8 330.1L918.2 335.3L918.5 343.3L918.9 349.3L919.2 321.2L919.6 310.1L919.9 353.6L920.3 349.8L920.6 351.2L921.0 319.9L921.3 339.3L921.7 337.6L922.0 324.2L922.4 344.2L922.7 337.5L923.1 340.3L923.4 349.6L923.8 348.4L924.1 328.6L924.5 348.4L924.8 327.7L925.2 341.6L925.5 333.5L925.9 341.6L926.2 341.3L926.6 336.4L926.9 333.4L927.3 331.7L927.6 399.7L928.0 339.2L928.3 362.4L928.7 346.7L929.0 316.0L929.4 333.6L929.7 333.1L930.1 327.6L930.4 341.2L930.8 341.0L931.1 346.9L931.5 329.3L931.8 346.5L932.2 335.0L932.5 338.4L932.9 323.8L933.2 340.8L933.6 333.8L933.9 352.9L934.3 336.1L934.6 343.4L935.0 388.7L935.3 318.6L935.7 333.3L936.0 337.9L936.4 353.2L936.7 338.7L937.1 333.1L937.4 349.0L937.8 329.3L938.1 330.0L938.5 348.3L938.8 324.7L939.2 329.0L939.5 303.2L939.9 325.1L940.2 364.8L940.6 355.5L940.9 341.0L941.3 328.0L941.6 369.5L942.0 335.0L942.3 333.7L942.7 362.6L943.0 338.8L943.4 369.8L943.8 349.8L944.1 317.3L944.5 334.0L944.8 342.7L945.2 342.6L945.5 339.8L945.9 315.9L946.2 332.1L946.6 329.0L946.9 330.4L947.3 333.9L947.6 336.3L948.0 346.9L948.3 338.4L948.7 330.4L949.0 335.1L949.4 337.2L949.7 344.1L950.1 336.0L950.4 342.4L950.8 322.9L951.1 341.3L951.5 334.1L951.8 366.0L952.2 342.5L952.5 332.9L952.9 316.4L953.2 324.5L953.6 327.5L953.9 356.9L954.3 357.7L954.6 324.1L955.0 311.3L955.3 336.3L955.7 331.5L956.0 341.8L956.4 321.9L956.7 372.0L957.1 348.8L957.4 340.6L957.8 335.1L958.1 345.1L958.5 336.5L958.8 318.7L959.2 327.0L959.5 303.4L959.9 310.1L960.2 316.5L960.6 314.4L960.9 348.2L961.3 341.8L961.6 339.1L962.0 319.5L962.3 332.9L962.7 348.9L963.0 337.5L963.4 353.2L963.7 347.9L964.1 329.6L964.4 343.3L964.8 334.2L965.1 338.1L965.5 348.5L965.8 326.7L966.2 342.5L966.5 343.2L966.9 348.3L967.2 340.5L967.6 334.6L967.9 351.3L968.3 326.1L968.6 350.7L969.0 327.7L969.3 362.5L969.7 349.7L970.0 329.8L970.4 341.7L970.7 357.9L971.1 388.8L971.4 344.2L971.8 334.1L972.1 351.1L972.5 337.3L972.9 335.4L973.2 326.5L973.6 334.7L973.9 338.5L974.3 354.1L974.6 314.7L975.0 342.8L975.3 351.5L975.7 361.6L976.0 334.7L976.4 350.6L976.7 331.0L977.1 307.9L977.4 342.8L977.8 335.2L978.1 331.7L978.5 347.5L978.8 334.6L979.2 329.9L979.5 327.6L979.9 362.0L980.2 357.2L980.6 325.3L980.9 322.3L981.3 342.5L981.6 354.7L982.0 325.1L982.3 324.7L982.7 345.3L983.0 341.7L983.4 350.6L983.7 333.0L984.1 348.3L984.4 324.2L984.8 334.2L985.1 328.9L985.5 326.3L985.8 329.8L986.2 344.5L986.5 354.7L986.9 330.4L987.2 328.1L987.6 345.7L987.9 342.7L988.3 345.1L988.6 319.6L989.0 326.5L989.3 338.2L989.7 341.8L990.0 330.0L990.4 325.4L990.7 335.5L991.1 336.0L991.4 341.1L991.8 332.5L992.1 374.4L992.5 346.3"/>
<path stroke="#0072BD" d="M96.4 311.9L96.7 349.4L97.1 359.9L97.4 310.3L97.8 324.4L98.1 321.3L98.5 352.5L98.8 314.6L99.2 324.9L99.5 328.1L99.9 312.1L100.2 308.2L100.6 332.9L100.9 306.3L101.3 319.3L101.6 332.8L102.0 317.2L102.3 325.1L102.7 296.1L103.0 325.0L103.4 334.3L103.7 330.5L104.1 311.7L104.4 390.0L104.8 360.9L105.1 336.7L105.5 396.1L105.8 316.5L106.2 338.0L106.5 367.5L106.9 381.5L107.2 336.4L107.6 342.4L107.9 325.3L108.3 450.0L108.6 396.7L109.0 299.1L109.3 341.0L109.7 335.8L110.0 327.5L110.4 377.2L110.7 273.2L111.1 338.5L111.4 335.5L111.8 389.5L112.1 370.2L112.5 357.8L112.8 359.2L113.2 378.1L113.5 393.1L113.9 314.1L114.2 347.8L114.6 328.4L114.9 302.7L115.3 344.0L115.6 331.0L116.0 307.7L116.3 322.7L116.7 326.6L117.0 353.5L117.4 353.0L117.7 315.3L118.1 336.9L118.4 311.2L118.8 315.5L119.1 321.9L119.5 316.0L119.8 404.9L120.2 303.9L120.5 378.4L120.9 347.6L121.2 324.0L121.6 293.7L121.9 367.8L122.3 342.7L122.6 321.5L123.0 302.2L123.3 340.7L123.7 375.9L124.0 323.1L124.4 313.8L124.7 332.0L125.1 321.8L125.5 420.6L125.8 346.7L126.2 354.8L126.5 312.0L126.9 330.2L127.2 348.3L127.6 342.9L127.9 318.9L128.3 343.2L128.6 304.2L129.0 325.6L129.3 334.8L129.7 313.7L130.0 330.7L130.4 289.1L130.7 311.9L131.1 344.2L131.4 373.5L131.8 369.9L132.1 314.4L132.5 321.6L132.8 325.9L133.2 357.1L133.5 300.2L133.9 306.2L134.2 338.3L134.6 341.9L134.9 339.5L135.3 315.7L135.6 324.4L136.0 355.4L136.3 335.3L136.7 356.1L137.0 341.9L137.4 363.0L137.7 312.9L138.1 332.0L138.4 331.1L138.8 338.9L139.1 349.3L139.5 369.1L139.8 347.4L140.2 341.4L140.5 339.8L140.9 315.8L141.2 315.0L141.6 350.6L141.9 362.5L142.3 313.9L142.6 455.4L143.0 402.0L143.3 317.6L143.7 338.4L144.0 339.5L144.4 320.2L144.7 341.8L145.1 345.6L145.4 327.0L145.8 332.6L146.1 332.8L146.5 309.8L146.8 306.9L147.2 371.8L147.5 324.6L147.9 320.5L148.2 315.7L148.6 335.8L148.9 335.7L149.3 323.7L149.6 344.0L150.0 359.2L150.3 317.3L150.7 317.8L151.0 350.3L151.4 310.9L151.7 345.7L152.1 323.2L152.4 352.3L152.8 329.4L153.1 391.0L153.5 339.7L153.8 324.0L154.2 528.7L154.6 370.0L154.9 303.1L155.3 346.3L155.6 359.7L156.0 336.4L156.3 293.8L156.7 339.3L157.0 355.9L157.4 343.1L157.7 323.8L158.1 319.5L158.4 321.5L158.8 309.9L159.1 292.2L159.5 327.4L159.8 321.5L160.2 328.8L160.5 322.2L160.9 306.4L161.2 322.3L161.6 348.2L161.9 311.3L162.3 300.3L162.6 325.1L163.0 293.9L163.3 309.3L163.7 357.2L164.0 338.6L164.4 351.8L164.7 564.5L165.1 347.2L165.4 325.8L165.8 317.1L166.1 369.6L166.5 314.6L166.8 332.5L167.2 310.3L167.5 404.3L167.9 377.3L168.2 389.6L168.6 323.2L168.9 322.9L169.3 332.4L169.6 352.9L170.0 349.8L170.3 348.0L170.7 352.5L171.0 330.4L171.4 323.4L171.7 314.7L172.1 323.4L172.4 333.7L172.8 318.5L173.1 361.5L173.5 350.8L173.8 313.1L174.2 331.8L174.5 528.7L174.9 306.2L175.2 319.4L175.6 316.4L175.9 289.8L176.3 305.8L176.6 312.2L177.0 327.2L177.3 371.6L177.7 414.2L178.0 367.8L178.4 282.6L178.7 334.8L179.1 340.0L179.4 319.2L179.8 306.4L180.1 322.4L180.5 318.4L180.8 323.2L181.2 338.6L181.5 342.3L181.9 377.2L182.2 523.2L182.6 332.0L182.9 356.6L183.3 311.1L183.6 359.8L184.0 355.6L184.4 317.1L184.7 364.6L185.1 363.9L185.4 330.8L185.8 321.3L186.1 349.0L186.5 319.6L186.8 356.3L187.2 315.9L187.5 332.1L187.9 340.8L188.2 341.1L188.6 306.5L188.9 353.5L189.3 335.9L189.6 357.0L190.0 313.2L190.3 318.0L190.7 350.4L191.0 337.6L191.4 355.7L191.7 332.0L192.1 311.7L192.4 343.7L192.8 332.2L193.1 365.4L193.5 329.2L193.8 356.4L194.2 330.9L194.5 340.5L194.9 312.8L195.2 337.9L195.6 341.3L195.9 359.9L196.3 309.8L196.6 369.5L197.0 303.0L197.3 308.2L197.7 297.9L198.0 350.9L198.4 346.6L198.7 329.1L199.1 311.1L199.4 354.5L199.8 308.4L200.1 354.3L200.5 318.2L200.8 422.4L201.2 328.1L201.5 332.9L201.9 326.5L202.2 365.1L202.6 311.0L202.9 342.4L203.3 335.5L203.6 346.6L204.0 318.3L204.3 323.5L204.7 391.9L205.0 348.8L205.4 295.7L205.7 334.9L206.1 320.1L206.4 336.0L206.8 310.6L207.1 305.5L207.5 310.8L207.8 299.5L208.2 315.9L208.5 370.3L208.9 342.3L209.2 352.6L209.6 317.6L209.9 324.2L210.3 352.3L210.6 351.4L211.0 326.8L211.3 298.8L211.7 341.5L212.0 313.2L212.4 304.8L212.7 336.0L213.1 322.8L213.5 329.5L213.8 344.5L214.2 331.3L214.5 366.0L214.9 315.5L215.2 327.1L215.6 359.5L215.9 340.1L216.3 400.6L216.6 350.9L217.0 306.7L217.3 318.5L217.7 342.1L218.0 301.4L218.4 335.6L218.7 337.9L219.1 346.2L219.4 316.7L219.8 319.3L220.1 348.1L220.5 337.9L220.8 317.9L221.2 306.4L221.5 323.8L221.9 310.9L222.2 311.6L222.6 349.7L222.9 333.4L223.3 286.6L223.6 394.9L224.0 313.8L224.3 355.9L224.7 265.8L225.0 345.0L225.4 315.0L225.7 318.5L226.1 361.9L226.4 333.4L226.8 305.7L227.1 343.3L227.5 309.4L227.8 336.4L228.2 302.7L228.5 280.5L228.9 352.3L229.2 322.2L229.6 344.4L229.9 375.0L230.3 329.0L230.6 324.9L231.0 319.9L231.3 320.1L231.7 376.1L232.0 339.9L232.4 374.3L232.7 322.6L233.1 311.4L233.4 323.1L233.8 340.3L234.1 322.8L234.5 312.3L234.8 317.3L235.2 341.0L235.5 336.9L235.9 301.2L236.2 329.2L236.6 325.1L236.9 328.0L237.3 316.2L237.6 316.8L238.0 335.9L238.3 336.7L238.7 335.0L239.0 325.6L239.4 316.1L239.7 359.7L240.1 294.4L240.4 352.7L240.8 327.2L241.1 353.8L241.5 340.5L241.8 331.0L242.2 317.5L242.6 323.6L242.9 310.6L243.3 335.6L243.6 293.6L244.0 364.1L244.3 323.2L244.7 321.9L245.0 338.8L245.4 329.6L245.7 348.1L246.1 320.1L246.4 337.8L246.8 344.3L247.1 320.0L247.5 318.8L247.8 325.6L248.2 348.8L248.5 311.9L248.9 309.2L249.2 336.0L249.6 352.6L249.9 342.8L250.3 304.9L250.6 364.8L251.0 320.5L251.3 336.0L251.7 314.8L252.0 360.3L252.4 318.9L252.7 369.3L253.1 325.7L253.4 292.7L253.8 334.1L254.1 289.3L254.5 328.0L254.8 314.0L255.2 280.8L255.5 308.2L255.9 318.6L256.2 411.4L256.6 345.9L256.9 321.6L257.3 345.3L257.6 349.8L258.0 320.0L258.3 358.8L258.7 353.4L259.0 341.2L259.4 290.0L259.7 345.2L260.1 327.8L260.4 319.2L260.8 343.3L261.1 347.4L261.5 322.0L261.8 351.7L262.2 345.3L262.5 292.4L262.9 368.6L263.2 291.7L263.6 302.1L263.9 343.0L264.3 307.6L264.6 359.9L265.0 349.6L265.3 341.9L265.7 345.1L266.0 299.3L266.4 355.0L266.7 356.7L267.1 338.6L267.4 343.9L267.8 288.4L268.1 340.9L268.5 345.5L268.8 346.8L269.2 347.4L269.5 373.3L269.9 330.6L270.2 562.3L270.6 338.0L270.9 324.9L271.3 311.6L271.7 316.5L272.0 350.6L272.4 334.2L272.7 342.7L273.1 370.5L273.4 335.0L273.8 343.2L274.1 311.5L274.5 346.6L274.8 304.4L275.2 323.2L275.5 334.0L275.9 322.5L276.2 354.6L276.6 338.5L276.9 312.5L277.3 337.4L277.6 289.3L278.0 354.5L278.3 356.3L278.7 308.5L279.0 341.5L279.4 343.7L279.7 351.1L280.1 336.8L280.4 346.9L280.8 320.1L281.1 345.3L281.5 346.1L281.8 321.8L282.2 329.5L282.5 343.4L282.9 353.6L283.2 362.0L283.6 362.8L283.9 320.5L284.3 345.1L284.6 342.3L285.0 331.0L285.3 328.1L285.7 314.6L286.0 325.9L286.4 339.2L286.7 357.3L287.1 325.7L287.4 336.3L287.8 334.9L288.1 351.2L288.5 328.5L288.8 317.7L289.2 337.8L289.5 321.4L289.9 333.9L290.2 340.9L290.6 311.2L290.9 339.9L291.3 339.3L291.6 363.0L292.0 317.9L292.3 341.8L292.7 336.5L293.0 341.6L293.4 328.7L293.7 345.3L294.1 381.0L294.4 338.6L294.8 329.0L295.1 343.1L295.5 321.4L295.8 313.7L296.2 347.3L296.5 325.2L296.9 344.2L297.2 361.9L297.6 356.1L297.9 374.1L298.3 307.5L298.6 341.4L299.0 340.1L299.3 321.3L299.7 303.4L300.0 323.8L300.4 302.7L300.8 308.1L301.1 263.6L301.5 348.6L301.8 339.3L302.2 344.8L302.5 319.6L302.9 347.0L303.2 316.6L303.6 366.1L303.9 312.0L304.3 321.1L304.6 302.5L305.0 345.5L305.3 355.5L305.7 335.2L306.0 369.6L306.4 335.8L306.7 327.9L307.1 296.6L307.4 329.1L307.8 361.7L308.1 289.1L308.5 350.4L308.8 330.8L309.2 351.7L309.5 400.5L309.9 316.8L310.2 341.8L310.6 317.3L310.9 344.3L311.3 320.2L311.6 301.8L312.0 365.6L312.3 334.8L312.7 341.9L313.0 332.0L313.4 358.4L313.7 330.0L314.1 319.2L314.4 360.0L314.8 355.8L315.1 296.1L315.5 332.3L315.8 296.4L316.2 320.7L316.5 318.1L316.9 328.5L317.2 300.2L317.6 306.5L317.9 333.3L318.3 368.2L318.6 356.4L319.0 334.1L319.3 368.7L319.7 320.9L320.0 323.9L320.4 322.6L320.7 320.7L321.1 328.7L321.4 324.5L321.8 328.4L322.1 354.1L322.5 333.2L322.8 332.9L323.2 314.3L323.5 340.4L323.9 350.2L324.2 294.5L324.6 316.8L324.9 310.0L325.3 299.4L325.6 337.8L326.0 310.2L326.3 347.6L326.7 354.8L327.0 326.7L327.4 327.2L327.7 320.1L328.1 337.1L328.4 336.8L328.8 354.6L329.1 313.7L329.5 373.4L329.9 330.8L330.2 341.1L330.6 340.5L330.9 325.4L331.3 338.7L331.6 369.0L332.0 376.2L332.3 371.6L332.7 349.0L333.0 338.2L333.4 338.7L333.7 341.3L334.1 326.4L334.4 339.9L334.8 368.1L335.1 385.7L335.5 344.3L335.8 474.3L336.2 308.9L336.5 386.4L336.9 333.0L337.2 302.7L337.6 328.3L337.9 307.3L338.3 324.1L338.6 323.3L339.0 315.3L339.3 341.9L339.7 344.1L340.0 336.1L340.4 305.8L340.7 321.9L341.1 566.0L341.4 330.1L341.8 318.4L342.1 308.9L342.5 322.8L342.8 328.1L343.2 372.9L343.5 323.6L343.9 369.4L344.2 334.8L344.6 291.0L344.9 325.9L345.3 322.5L345.6 341.8L346.0 324.5L346.3 360.1L346.7 337.0L347.0 325.2L347.4 337.4L347.7 357.1L348.1 385.1L348.4 345.5L348.8 350.8L349.1 345.6L349.5 321.2L349.8 372.8L350.2 315.3L350.5 362.6L350.9 277.4L351.2 304.5L351.6 318.4L351.9 350.6L352.3 328.0L352.6 327.6L353.0 382.0L353.3 343.7L353.7 307.7L354.0 328.4L354.4 288.8L354.7 305.1L355.1 332.3L355.4 331.5L355.8 327.5L356.1 358.1L356.5 361.2L356.8 348.8L357.2 300.2L357.5 309.0L357.9 403.3L358.2 328.0L358.6 352.9L358.9 295.2L359.3 333.1L359.7 340.2L360.0 317.9L360.4 351.3L360.7 340.0L361.1 303.5L361.4 343.5L361.8 381.6L362.1 335.5L362.5 282.9L362.8 289.2L363.2 332.9L363.5 334.4L363.9 319.4L364.2 331.7L364.6 332.2L364.9 348.3L365.3 294.4L365.6 283.9L366.0 318.1L366.3 361.2L366.7 356.8L367.0 317.9L367.4 348.5L367.7 341.0L368.1 326.7L368.4 337.9L368.8 304.2L369.1 363.7L369.5 327.0L369.8 353.7L370.2 325.9L370.5 367.8L370.9 339.5L371.2 180.0L371.6 20.0L371.9 324.5L372.3 341.4L372.6 326.8L373.0 337.9L373.3 318.5L373.7 353.5L374.0 335.1L374.4 314.6L374.7 346.3L375.1 314.1L375.4 311.4L375.8 325.2L376.1 374.7L376.5 293.1L376.8 356.2L377.2 330.2L377.5 321.2L377.9 295.9L378.2 328.7L378.6 348.2L378.9 317.3L379.3 297.2L379.6 357.5L380.0 317.8L380.3 330.4L380.7 326.6L381.0 335.4L381.4 322.5L381.7 317.5L382.1 279.4L382.4 367.7L382.8 295.4L383.1 327.7L383.5 350.5L383.8 358.8L384.2 302.9L384.5 363.0L384.9 365.8L385.2 357.4L385.6 322.5L385.9 348.9L386.3 358.0L386.6 342.7L387.0 293.0L387.3 326.9L387.7 324.9L388.0 311.1L388.4 305.5L388.8 347.6L389.1 319.9L389.5 327.8L389.8 336.9L390.2 431.6L390.5 309.8L390.9 313.2L391.2 338.8L391.6 256.1L391.9 361.8L392.3 333.7L392.6 323.3L393.0 343.9L393.3 329.3L393.7 299.1L394.0 349.5L394.4 368.8L394.7 341.6L395.1 348.0L395.4 338.9L395.8 343.0L396.1 330.5L396.5 285.2L396.8 328.8L397.2 290.2L397.5 332.0L397.9 341.2L398.2 368.8L398.6 326.4L398.9 320.3L399.3 280.1L399.6 376.0L400.0 344.0L400.3 337.5L400.7 335.1L401.0 332.4L401.4 347.5L401.7 332.8L402.1 349.9L402.4 350.4L402.8 326.5L403.1 308.6L403.5 344.6L403.8 366.7L404.2 341.6L404.5 331.5L404.9 332.8L405.2 308.9L405.6 351.1L405.9 336.8L406.3 343.6L406.6 300.6L407.0 326.0L407.3 337.1L407.7 347.0L408.0 316.0L408.4 356.6L408.7 474.0L409.1 324.8L409.4 320.6L409.8 328.8L410.1 346.6L410.5 317.8L410.8 335.9L411.2 314.8L411.5 358.0L411.9 308.9L412.2 334.4L412.6 311.3L412.9 326.2L413.3 341.5L413.6 334.3L414.0 389.4L414.3 324.1L414.7 357.5L415.0 358.5L415.4 315.6L415.7 325.9L416.1 375.3L416.4 322.1L416.8 355.9L417.1 331.3L417.5 356.7L417.9 320.4L418.2 334.0L418.6 328.7L418.9 371.2L419.3 353.9L419.6 361.7L420.0 342.5L420.3 334.4L420.7 365.1L421.0 343.7L421.4 337.2L421.7 327.1L422.1 338.3L422.4 330.4L422.8 310.6L423.1 364.4L423.5 312.4L423.8 359.0L424.2 334.6L424.5 348.3L424.9 329.0L425.2 337.9L425.6 348.6L425.9 363.1L426.3 313.6L426.6 323.7L427.0 310.2L427.3 343.8L427.7 305.6L428.0 327.6L428.4 319.9L428.7 330.6L429.1 320.4L429.4 306.6L429.8 337.3L430.1 367.4L430.5 330.5L430.8 319.7L431.2 345.1L431.5 340.5L431.9 360.9L432.2 324.0L432.6 351.9L432.9 316.1L433.3 312.9L433.6 297.7L434.0 309.4L434.3 312.1L434.7 331.2L435.0 297.1L435.4 368.9L435.7 354.3L436.1 300.9L436.4 345.8L436.8 352.6L437.1 345.2L437.5 317.8L437.8 313.1L438.2 320.2L438.5 380.1L438.9 660.7L439.2 321.0L439.6 337.3L439.9 321.5L440.3 356.5L440.6 310.4L441.0 328.9L441.3 345.4L441.7 341.5L442.0 374.0L442.4 306.8L442.7 342.2L443.1 332.0L443.4 332.7L443.8 314.3L444.1 359.8L444.5 296.0L444.8 318.6L445.2 339.6L445.5 342.2L445.9 311.4L446.2 360.7L446.6 406.8L447.0 353.4L447.3 328.4L447.7 333.7L448.0 306.7L448.4 351.7L448.7 360.2L449.1 297.6L449.4 384.9L449.8 332.4L450.1 367.5L450.5 321.5L450.8 362.4L451.2 451.4L451.5 341.3L451.9 327.6L452.2 356.8L452.6 334.5L452.9 328.6L453.3 329.7L453.6 312.1L454.0 314.5L454.3 278.6L454.7 358.0L455.0 324.3L455.4 333.2L455.7 368.4L456.1 305.0L456.4 291.9L456.8 301.4L457.1 357.7L457.5 349.1L457.8 353.8L458.2 333.2L458.5 361.7L458.9 336.9L459.2 362.5L459.6 337.8L459.9 333.4L460.3 336.8L460.6 404.8L461.0 338.5L461.3 320.7L461.7 347.9L462.0 309.1L462.4 340.6L462.7 323.3L463.1 337.9L463.4 332.0L463.8 339.2L464.1 343.8L464.5 331.1L464.8 338.0L465.2 358.9L465.5 331.5L465.9 312.8L466.2 337.3L466.6 376.5L466.9 318.9L467.3 350.6L467.6 350.9L468.0 306.8L468.3 314.5L468.7 323.5L469.0 378.3L469.4 374.3L469.7 332.4L470.1 363.5L470.4 334.7L470.8 332.9L471.1 334.2L471.5 322.3L471.8 329.2L472.2 353.6L472.5 339.3L472.9 314.1L473.2 293.2L473.6 350.9L473.9 322.3L474.3 309.8L474.6 320.9L475.0 333.2L475.3 307.9L475.7 296.9L476.1 326.3L476.4 344.8L476.8 355.7L477.1 315.8L477.5 385.9L477.8 334.2L478.2 329.2L478.5 333.9L478.9 291.9L479.2 345.9L479.6 315.5L479.9 339.5L480.3 316.4L480.6 320.1L481.0 346.0L481.3 332.1L481.7 371.2L482.0 338.4L482.4 347.4L482.7 311.2L483.1 329.3L483.4 359.4L483.8 375.5L484.1 337.2L484.5 360.3L484.8 334.5L485.2 330.0L485.5 340.7L485.9 339.3L486.2 350.7L486.6 351.9L486.9 293.9L487.3 354.5L487.6 318.4L488.0 320.5L488.3 329.7L488.7 369.1L489.0 308.8L489.4 344.0L489.7 288.9L490.1 339.0L490.4 352.6L490.8 306.0L491.1 337.3L491.5 324.5L491.8 314.9L492.2 347.5L492.5 354.7L492.9 329.6L493.2 309.4L493.6 356.9L493.9 403.1L494.3 300.8L494.6 308.3L495.0 329.0L495.3 287.6L495.7 338.1L496.0 323.7L496.4 367.6L496.7 317.9L497.1 308.1L497.4 332.3L497.8 363.4L498.1 335.4L498.5 332.0L498.8 327.8L499.2 482.0L499.5 322.3L499.9 342.9L500.2 311.5L500.6 327.2L500.9 332.3L501.3 325.6L501.6 315.4L502.0 297.3L502.3 331.7L502.7 323.8L503.0 342.2L503.4 327.2L503.7 355.2L504.1 334.1L504.4 298.8L504.8 328.1L505.2 336.2L505.5 337.9L505.9 346.8L506.2 315.3L506.6 337.5L506.9 343.9L507.3 294.0L507.6 307.6L508.0 323.5L508.3 342.5L508.7 302.0L509.0 289.7L509.4 328.8L509.7 343.1L510.1 318.3L510.4 299.9L510.8 316.4L511.1 320.6L511.5 340.3L511.8 339.0L512.2 330.5L512.5 329.6L512.9 335.5L513.2 347.7L513.6 331.0L513.9 354.5L514.3 324.7L514.6 308.0L515.0 353.7L515.3 300.2L515.7 363.8L516.0 300.2L516.4 352.7L516.7 319.4L517.1 329.6L517.4 315.7L517.8 347.0L518.1 315.2L518.5 362.9L518.8 304.6L519.2 348.6L519.5 284.9L519.9 339.2L520.2 331.8L520.6 380.1L520.9 319.0L521.3 355.3L521.6 334.8L522.0 341.3L522.3 331.6L522.7 308.3L523.0 339.9L523.4 327.5L523.7 339.6L524.1 336.2L524.4 323.1L524.8 324.3L525.1 353.2L525.5 321.2L525.8 331.7L526.2 324.9L526.5 280.1L526.9 328.8L527.2 366.2L527.6 317.6L527.9 350.6L528.3 345.0L528.6 401.4L529.0 316.0L529.3 367.2L529.7 343.5L530.0 376.6L530.4 316.3L530.7 325.4L531.1 332.5L531.4 332.2L531.8 352.1L532.1 357.5L532.5 312.0L532.8 352.3L533.2 331.8L533.5 344.9L533.9 359.6L534.2 360.2L534.6 323.0L535.0 288.3L535.3 333.3L535.7 297.2L536.0 335.3L536.4 333.1L536.7 320.7L537.1 352.9L537.4 335.1L537.8 340.5L538.1 408.1L538.5 375.0L538.8 309.2L539.2 387.2L539.5 325.3L539.9 325.8L540.2 335.6L540.6 337.1L540.9 325.6L541.3 360.5L541.6 350.1L542.0 342.6L542.3 283.1L542.7 339.6L543.0 288.0L543.4 345.7L543.7 402.5L544.1 334.3L544.4 328.9L544.8 290.5L545.1 349.0L545.5 345.9L545.8 349.2L546.2 322.8L546.5 318.8L546.9 349.8L547.2 310.7L547.6 320.0L547.9 347.7L548.3 308.8L548.6 344.9L549.0 317.7L549.3 340.0L549.7 346.7L550.0 303.5L550.4 290.5L550.7 311.5L551.1 315.3L551.4 336.9L551.8 282.8L552.1 325.9L552.5 318.4L552.8 342.9L553.2 353.8L553.5 319.3L553.9 314.1L554.2 349.4L554.6 339.3L554.9 330.4L555.3 327.4L555.6 353.9L556.0 361.2L556.3 341.7L556.7 323.9L557.0 316.3L557.4 338.5L557.7 293.9L558.1 355.6L558.4 339.8L558.8 329.6L559.1 327.1L559.5 324.5L559.8 345.3L560.2 345.9L560.5 360.1L560.9 315.9L561.2 345.0L561.6 329.8L561.9 310.9L562.3 329.4L562.6 359.4L563.0 335.1L563.3 333.3L563.7 296.8L564.1 323.1L564.4 346.1L564.8 264.2L565.1 309.9L565.5 347.7L565.8 371.9L566.2 357.2L566.5 332.2L566.9 326.2L567.2 342.0L567.6 321.1L567.9 334.0L568.3 364.3L568.6 349.1L569.0 368.4L569.3 308.9L569.7 342.0L570.0 377.0L570.4 350.7L570.7 307.1L571.1 391.9L571.4 343.5L571.8 304.1L572.1 353.6L572.5 318.2L572.8 361.9L573.2 333.6L573.5 338.0L573.9 333.5L574.2 348.5L574.6 332.5L574.9 368.3L575.3 306.6L575.6 334.6L576.0 350.7L576.3 439.0L576.7 319.1L577.0 332.8L577.4 341.1L577.7 292.7L578.1 328.5L578.4 353.7L578.8 326.0L579.1 314.2L579.5 330.9L579.8 354.8L580.2 311.0L580.5 362.5L580.9 339.0L581.2 340.9L581.6 395.5L581.9 740.0L582.3 323.8L582.6 311.8L583.0 344.9L583.3 302.2L583.7 394.9L584.0 343.3L584.4 390.2L584.7 326.3L585.1 317.9L585.4 321.8L585.8 378.6L586.1 333.0L586.5 367.3L586.8 413.7L587.2 307.2L587.5 346.4L587.9 314.9L588.2 317.1L588.6 314.1L588.9 349.3L589.3 347.4L589.6 341.2L590.0 355.1L590.3 348.2L590.7 350.1L591.0 325.0L591.4 344.2L591.7 316.8L592.1 341.5L592.4 292.7L592.8 330.4L593.2 332.1L593.5 357.4L593.9 312.5L594.2 306.5L594.6 336.4L594.9 315.1L595.3 294.7L595.6 348.0L596.0 313.5L596.3 335.0L596.7 332.7L597.0 354.0L597.4 338.4L597.7 331.3L598.1 314.2L598.4 341.9L598.8 337.9L599.1 286.0L599.5 326.8L599.8 317.7L600.2 322.9L600.5 354.1L600.9 328.9L601.2 327.1L601.6 361.5L601.9 290.1L602.3 341.5L602.6 343.8L603.0 325.9L603.3 317.1L603.7 314.8L604.0 328.1L604.4 320.1L604.7 318.0L605.1 327.9L605.4 317.8L605.8 337.1L606.1 334.2L606.5 320.9L606.8 342.3L607.2 343.2L607.5 327.6L607.9 332.5L608.2 358.4L608.6 343.8L608.9 300.7L609.3 393.6L609.6 315.6L610.0 319.4L610.3 348.6L610.7 327.8L611.0 378.4L611.4 310.9L611.7 359.5L612.1 353.4L612.4 317.6L612.8 348.8L613.1 349.9L613.5 319.9L613.8 334.7L614.2 311.7L614.5 367.3L614.9 314.4L615.2 315.1L615.6 338.6L615.9 341.5L616.3 312.7L616.6 349.9L617.0 289.9L617.3 315.6L617.7 353.4L618.0 330.5L618.4 325.0L618.7 312.4L619.1 386.9L619.4 323.9L619.8 333.9L620.1 335.8L620.5 579.7L620.8 319.2L621.2 330.1L621.5 321.7L621.9 322.6L622.3 329.0L622.6 299.9L623.0 311.6L623.3 318.7L623.7 347.3L624.0 308.3L624.4 325.4L624.7 326.3L625.1 342.4L625.4 335.0L625.8 302.0L626.1 317.5L626.5 328.7L626.8 324.9L627.2 336.9L627.5 560.0L627.9 337.3L628.2 584.3L628.6 305.8L628.9 570.0L629.3 318.5L629.6 341.8L630.0 334.9L630.3 318.8L630.7 326.6L631.0 326.4L631.4 375.7L631.7 362.2L632.1 321.7L632.4 328.2L632.8 357.7L633.1 317.0L633.5 312.5L633.8 318.0L634.2 329.8L634.5 316.3L634.9 361.1L635.2 287.9L635.6 354.4L635.9 323.8L636.3 332.3L636.6 346.1L637.0 357.0L637.3 322.2L637.7 354.5L638.0 318.9L638.4 408.0L638.7 322.1L639.1 332.5L639.4 382.3L639.8 341.2L640.1 320.0L640.5 317.0L640.8 453.0L641.2 353.6L641.5 336.5L641.9 331.4L642.2 307.7L642.6 332.5L642.9 360.4L643.3 337.2L643.6 366.9L644.0 309.2L644.3 330.3L644.7 319.6L645.0 374.9L645.4 335.4L645.7 349.0L646.1 332.2L646.4 313.5L646.8 349.3L647.1 306.6L647.5 333.4L647.8 317.3L648.2 338.6L648.5 329.8L648.9 309.7L649.2 374.4L649.6 317.7L649.9 357.4L650.3 315.6L650.6 319.9L651.0 340.7L651.4 334.5L651.7 352.0L652.1 324.1L652.4 319.7L652.8 347.4L653.1 349.1L653.5 338.6L653.8 334.7L654.2 329.7L654.5 311.6L654.9 345.8L655.2 338.3L655.6 331.3L655.9 321.1L656.3 354.8L656.6 321.9L657.0 336.7L657.3 359.7L657.7 309.7L658.0 581.2L658.4 345.7L658.7 339.9L659.1 326.1L659.4 332.2L659.8 306.4L660.1 319.7L660.5 346.3L660.8 332.7L661.2 366.1L661.5 355.8L661.9 330.8L662.2 324.5L662.6 321.7L662.9 348.0L663.3 334.9L663.6 360.3L664.0 324.1L664.3 322.2L664.7 336.3L665.0 310.8L665.4 352.1L665.7 328.8L666.1 338.2L666.4 337.9L666.8 280.2L667.1 335.9L667.5 305.2L667.8 332.3L668.2 343.2L668.5 307.5L668.9 353.3L669.2 339.1L669.6 332.5L669.9 356.7L670.3 298.0L670.6 338.2L671.0 349.7L671.3 349.3L671.7 330.5L672.0 331.4L672.4 307.2L672.7 338.7L673.1 346.1L673.4 311.0L673.8 334.2L674.1 356.6L674.5 330.5L674.8 327.5L675.2 320.8L675.5 317.5L675.9 313.0L676.2 590.4L676.6 349.8L676.9 318.4L677.3 334.8L677.6 346.7L678.0 328.6L678.3 358.9L678.7 336.8L679.0 358.8L679.4 324.6L679.7 323.6L680.1 369.6L680.5 324.6L680.8 350.6L681.2 313.1L681.5 309.4L681.9 344.4L682.2 333.9L682.6 342.9L682.9 301.6L683.3 308.9L683.6 293.5L684.0 334.1L684.3 402.4L684.7 324.9L685.0 311.5L685.4 337.0L685.7 342.8L686.1 296.5L686.4 353.1L686.8 315.3L687.1 275.9L687.5 352.9L687.8 333.1L688.2 318.2L688.5 367.5L688.9 318.9L689.2 356.3L689.6 367.9L689.9 328.5L690.3 350.6L690.6 311.2L691.0 313.8L691.3 313.0L691.7 349.2L692.0 347.2L692.4 325.7L692.7 393.3L693.1 320.1L693.4 315.6L693.8 302.5L694.1 332.6L694.5 352.2L694.8 306.6L695.2 367.5L695.5 388.4L695.9 333.3L696.2 401.4L696.6 332.3L696.9 325.2L697.3 318.5L697.6 319.8L698.0 365.1L698.3 322.0L698.7 343.2L699.0 340.8L699.4 312.8L699.7 355.8L700.1 307.5L700.4 322.4L700.8 363.9L701.1 344.0L701.5 347.5L701.8 352.4L702.2 323.6L702.5 311.4L702.9 300.9L703.2 335.0L703.6 352.3L703.9 341.3L704.3 333.0L704.6 334.8L705.0 312.4L705.3 356.8L705.7 339.9L706.0 354.1L706.4 323.4L706.7 325.4L707.1 318.6L707.4 370.8L707.8 343.7L708.1 339.7L708.5 324.0L708.8 350.4L709.2 318.5L709.6 318.9L709.9 329.1L710.3 379.4L710.6 355.4L711.0 312.1L711.3 333.5L711.7 353.1L712.0 357.2L712.4 343.1L712.7 326.2L713.1 364.7L713.4 335.1L713.8 313.9L714.1 355.1L714.5 339.1L714.8 357.4L715.2 329.1L715.5 355.8L715.9 307.4L716.2 320.8L716.6 412.0L716.9 375.0L717.3 340.5L717.6 370.0L718.0 300.8L718.3 333.5L718.7 336.8L719.0 322.0L719.4 335.4L719.7 366.2L720.1 321.1L720.4 342.7L720.8 310.0L721.1 352.7L721.5 346.4L721.8 301.4L722.2 331.4L722.5 340.9L722.9 301.3L723.2 332.7L723.6 358.1L723.9 343.1L724.3 378.7L724.6 322.4L725.0 355.2L725.3 331.8L725.7 345.5L726.0 333.1L726.4 381.8L726.7 323.3L727.1 338.9L727.4 313.8L727.8 348.0L728.1 319.7L728.5 362.7L728.8 360.4L729.2 369.5L729.5 474.0L729.9 338.9L730.2 347.9L730.6 309.6L730.9 328.2L731.3 323.4L731.6 351.9L732.0 337.0L732.3 343.8L732.7 334.5L733.0 322.5L733.4 334.5L733.7 347.5L734.1 298.0L734.4 402.3L734.8 348.5L735.1 346.8L735.5 325.5L735.8 334.0L736.2 325.0L736.5 335.4L736.9 352.2L737.2 340.8L737.6 339.9L737.9 342.7L738.3 338.2L738.6 380.3L739.0 343.9L739.4 305.2L739.7 341.9L740.1 298.1L740.4 336.7L740.8 358.1L741.1 342.3L741.5 320.1L741.8 329.0L742.2 319.9L742.5 327.7L742.9 314.3L743.2 337.7L743.6 360.6L743.9 311.5L744.3 310.4L744.6 329.4L745.0 362.9L745.3 333.0L745.7 311.7L746.0 338.2L746.4 339.7L746.7 352.1L747.1 313.3L747.4 309.6L747.8 342.0L748.1 310.7L748.5 328.0L748.8 293.7L749.2 329.6L749.5 362.7L749.9 347.8L750.2 308.6L750.6 343.4L750.9 366.1L751.3 301.8L751.6 340.4L752.0 352.0L752.3 313.9L752.7 355.6L753.0 310.0L753.4 283.7L753.7 326.0L754.1 337.9L754.4 345.2L754.8 344.5L755.1 281.9L755.5 326.4L755.8 324.6L756.2 337.3L756.5 370.7L756.9 362.2L757.2 338.7L757.6 322.8L757.9 346.1L758.3 339.4L758.6 340.5L759.0 370.2L759.3 335.0L759.7 313.5L760.0 353.2L760.4 337.6L760.7 347.7L761.1 301.9L761.4 328.7L761.8 377.1L762.1 320.1L762.5 317.3L762.8 306.6L763.2 296.5L763.5 314.9L763.9 326.0L764.2 331.4L764.6 334.4L764.9 321.6L765.3 294.7L765.6 301.9L766.0 332.1L766.3 576.7L766.7 297.0L767.0 319.3L767.4 346.1L767.7 316.7L768.1 325.8L768.5 350.4L768.8 344.5L769.2 354.3L769.5 305.0L769.9 325.8L770.2 395.0L770.6 324.6L770.9 330.0L771.3 328.2L771.6 333.8L772.0 363.4L772.3 333.2L772.7 331.1L773.0 342.6L773.4 344.3L773.7 335.1L774.1 260.5L774.4 331.8L774.8 309.7L775.1 302.7L775.5 595.0L775.8 331.5L776.2 351.8L776.5 323.3L776.9 339.1L777.2 344.3L777.6 323.9L777.9 322.2L778.3 330.9L778.6 289.6L779.0 325.9L779.3 334.2L779.7 316.3L780.0 314.2L780.4 336.6L780.7 314.0L781.1 343.6L781.4 356.3L781.8 340.1L782.1 308.5L782.5 345.5L782.8 369.6L783.2 347.8L783.5 316.0L783.9 313.9L784.2 324.0L784.6 323.4L784.9 313.7L785.3 297.3L785.6 313.4L786.0 351.7L786.3 294.1L786.7 306.3L787.0 353.3L787.4 362.2L787.7 343.0L788.1 289.4L788.4 310.5L788.8 381.0L789.1 329.4L789.5 317.7L789.8 339.0L790.2 311.9L790.5 374.0L790.9 325.6L791.2 326.4L791.6 524.7L791.9 341.9L792.3 309.4L792.6 355.2L793.0 318.8L793.3 339.7L793.7 319.4L794.0 291.1L794.4 375.0L794.7 345.5L795.1 328.8L795.4 354.2L795.8 339.7L796.1 307.5L796.5 343.1L796.8 316.4L797.2 317.4L797.6 394.8L797.9 369.9L798.3 326.6L798.6 306.3L799.0 329.2L799.3 335.2L799.7 412.6L800.0 327.0L800.4 334.5L800.7 306.5L801.1 298.5L801.4 322.3L801.8 379.4L802.1 328.4L802.5 310.3L802.8 333.6L803.2 295.0L803.5 346.4L803.9 363.4L804.2 309.2L804.6 414.0L804.9 350.9L805.3 334.8L805.6 412.5L806.0 335.8L806.3 344.9L806.7 337.9L807.0 307.0L807.4 368.1L807.7 320.8L808.1 315.9L808.4 337.2L808.8 355.9L809.1 353.8L809.5 311.5L809.8 339.8L810.2 340.1L810.5 336.4L810.9 326.2L811.2 326.0L811.6 334.3L811.9 313.2L812.3 318.5L812.6 334.7L813.0 303.5L813.3 312.5L813.7 294.6L814.0 337.1L814.4 298.9L814.7 331.8L815.1 335.7L815.4 329.4L815.8 361.1L816.1 314.2L816.5 316.8L816.8 344.8L817.2 335.0L817.5 306.6L817.9 332.2L818.2 334.8L818.6 318.2L818.9 332.8L819.3 352.1L819.6 340.1L820.0 360.9L820.3 342.6L820.7 333.7L821.0 337.4L821.4 337.0L821.7 368.3L822.1 386.4L822.4 315.6L822.8 337.3L823.1 347.0L823.5 311.5L823.8 348.3L824.2 313.6L824.5 351.5L824.9 350.3L825.2 346.7L825.6 308.1L825.9 409.6L826.3 359.5L826.7 316.2L827.0 309.9L827.4 366.1L827.7 339.5L828.1 347.4L828.4 299.5L828.8 347.4L829.1 371.6L829.5 353.4L829.8 316.9L830.2 351.9L830.5 309.3L830.9 322.5L831.2 311.9L831.6 346.4L831.9 335.7L832.3 343.9L832.6 336.4L833.0 340.0L833.3 318.1L833.7 338.7L834.0 291.0L834.4 359.1L834.7 330.9L835.1 320.8L835.4 340.1L835.8 284.8L836.1 328.4L836.5 307.9L836.8 321.1L837.2 326.2L837.5 354.1L837.9 355.0L838.2 353.2L838.6 333.5L838.9 332.6L839.3 307.5L839.6 363.3L840.0 419.5L840.3 314.1L840.7 304.5L841.0 327.8L841.4 332.7L841.7 291.4L842.1 336.3L842.4 336.6L842.8 311.4L843.1 306.6L843.5 347.4L843.8 302.6L844.2 343.0L844.5 314.2L844.9 322.4L845.2 388.8L845.6 319.6L845.9 341.8L846.3 343.2L846.6 344.9L847.0 398.7L847.3 351.2L847.7 347.8L848.0 346.6L848.4 309.4L848.7 335.3L849.1 353.3L849.4 297.8L849.8 327.4L850.1 343.6L850.5 359.7L850.8 370.2L851.2 406.3L851.5 346.1L851.9 350.7L852.2 349.7L852.6 315.0L852.9 307.3L853.3 323.7L853.6 315.9L854.0 363.2L854.3 330.9L854.7 371.6L855.0 323.6L855.4 378.5L855.8 378.5L856.1 350.0L856.5 338.8L856.8 322.9L857.2 355.4L857.5 352.4L857.9 370.6L858.2 323.2L858.6 325.9L858.9 341.5L859.3 357.0L859.6 323.3L860.0 329.3L860.3 352.2L860.7 310.9L861.0 271.5L861.4 350.9L861.7 299.9L862.1 298.6L862.4 326.3L862.8 301.2L863.1 306.3L863.5 324.1L863.8 307.2L864.2 345.6L864.5 353.7L864.9 344.8L865.2 337.3L865.6 289.1L865.9 380.0L866.3 313.3L866.6 348.6L867.0 315.8L867.3 303.4L867.7 340.8L868.0 322.1L868.4 305.6L868.7 335.1L869.1 356.4L869.4 333.3L869.8 313.9L870.1 333.8L870.5 350.3L870.8 300.8L871.2 338.1L871.5 356.9L871.9 361.0L872.2 344.8L872.6 316.8L872.9 330.0L873.3 323.5L873.6 339.8L874.0 332.9L874.3 301.3L874.7 326.2L875.0 329.7L875.4 316.5L875.7 351.8L876.1 343.2L876.4 456.0L876.8 322.0L877.1 310.7L877.5 316.6L877.8 315.3L878.2 356.1L878.5 334.3L878.9 297.1L879.2 316.5L879.6 293.1L879.9 314.6L880.3 286.2L880.6 341.7L881.0 362.7L881.3 357.1L881.7 350.2L882.0 335.0L882.4 339.6L882.7 317.1L883.1 343.2L883.4 317.6L883.8 296.6L884.1 326.2L884.5 370.5L884.9 330.9L885.2 312.3L885.6 302.8L885.9 320.0L886.3 319.5L886.6 323.7L887.0 307.3L887.3 294.6L887.7 368.9L888.0 360.0L888.4 318.5L888.7 348.8L889.1 313.3L889.4 314.3L889.8 316.2L890.1 316.6L890.5 328.8L890.8 332.6L891.2 328.0L891.5 328.8L891.9 323.8L892.2 319.1L892.6 342.1L892.9 331.9L893.3 329.7L893.6 348.2L894.0 328.7L894.3 332.2L894.7 352.1L895.0 328.5L895.4 331.3L895.7 376.3L896.1 339.3L896.4 344.1L896.8 359.8L897.1 348.1L897.5 311.5L897.8 307.8L898.2 335.0L898.5 334.1L898.9 352.6L899.2 359.4L899.6 342.2L899.9 342.4L900.3 318.8L900.6 287.3L901.0 342.5L901.3 342.7L901.7 310.1L902.0 359.4L902.4 371.7L902.7 313.2L903.1 324.0L903.4 320.7L903.8 319.9L904.1 340.5L904.5 328.3L904.8 315.1L905.2 318.7L905.5 354.5L905.9 343.0L906.2 332.3L906.6 350.0L906.9 323.6L907.3 356.2L907.6 336.1L908.0 326.1L908.3 340.5L908.7 324.7L909.0 355.9L909.4 327.2L909.7 301.8L910.1 313.4L910.4 284.0L910.8 365.5L911.1 328.4L911.5 339.8L911.8 313.0L912.2 407.8L912.5 350.1L912.9 358.6L913.2 349.6L913.6 343.4L913.9 340.1L914.3 335.8L914.7 414.8L915.0 310.5L915.4 361.1L915.7 329.3L916.1 323.1L916.4 329.0L916.8 313.1L917.1 342.2L917.5 330.4L917.8 337.8L918.2 316.4L918.5 357.4L918.9 332.8L919.2 313.8L919.6 284.3L919.9 362.9L920.3 356.5L920.6 344.7L921.0 309.8L921.3 344.6L921.7 351.1L922.0 319.7L922.4 328.2L922.7 335.8L923.1 312.3L923.4 363.4L923.8 368.3L924.1 306.3L924.5 453.0L924.8 342.9L925.2 352.5L925.5 336.9L925.9 353.6L926.2 334.7L926.6 314.8L926.9 324.9L927.3 337.6L927.6 410.0L928.0 314.9L928.3 381.1L928.7 373.7L929.0 336.7L929.4 341.8L929.7 308.3L930.1 312.7L930.4 366.4L930.8 345.0L931.1 364.7L931.5 314.1L931.8 350.0L932.2 336.9L932.5 334.1L932.9 305.0L933.2 318.3L933.6 349.8L933.9 327.1L934.3 309.7L934.6 356.4L935.0 342.5L935.3 558.3L935.7 305.2L936.0 322.6L936.4 353.2L936.7 325.7L937.1 339.3L937.4 362.3L937.8 295.7L938.1 327.9L938.5 348.6L938.8 312.4L939.2 348.3L939.5 300.5L939.9 324.2L940.2 325.8L940.6 567.5L940.9 326.6L941.3 307.0L941.6 319.0L942.0 338.8L942.3 327.9L942.7 333.6L943.0 324.3L943.4 323.7L943.8 340.4L944.1 313.2L944.5 317.2L944.8 329.2L945.2 330.3L945.5 332.4L945.9 335.4L946.2 348.8L946.6 344.2L946.9 337.7L947.3 296.9L947.6 353.5L948.0 343.0L948.3 326.8L948.7 316.3L949.0 332.9L949.4 343.9L949.7 354.6L950.1 337.2L950.4 320.0L950.8 326.2L951.1 322.1L951.5 330.5L951.8 357.6L952.2 331.5L952.5 360.5L952.9 308.3L953.2 306.1L953.6 323.5L953.9 369.8L954.3 350.9L954.6 298.3L955.0 299.4L955.3 347.4L955.7 325.9L956.0 348.4L956.4 315.8L956.7 395.2L957.1 346.6L957.4 364.3L957.8 314.3L958.1 345.6L958.5 327.2L958.8 304.4L959.2 326.5L959.5 295.3L959.9 295.4L960.2 315.7L960.6 312.3L960.9 323.8L961.3 331.0L961.6 360.2L962.0 305.0L962.3 335.4L962.7 335.8L963.0 313.9L963.4 357.3L963.7 332.0L964.1 316.1L964.4 356.2L964.8 328.6L965.1 342.2L965.5 341.1L965.8 341.8L966.2 363.4L966.5 330.0L966.9 326.6L967.2 346.7L967.6 345.0L967.9 351.1L968.3 334.4L968.6 332.4L969.0 308.9L969.3 394.7L969.7 330.6L970.0 321.4L970.4 354.7L970.7 371.1L971.1 332.0L971.4 332.4L971.8 335.0L972.1 349.1L972.5 346.6L972.9 346.9L973.2 322.0L973.6 339.0L973.9 325.0L974.3 383.9L974.6 306.5L975.0 340.8L975.3 357.0L975.7 402.6L976.0 336.4L976.4 338.2L976.7 317.7L977.1 308.0L977.4 351.7L977.8 337.7L978.1 315.0L978.5 327.1L978.8 320.0L979.2 332.0L979.5 315.7L979.9 365.0L980.2 350.0L980.6 306.5L980.9 298.0L981.3 326.5L981.6 380.2L982.0 324.5L982.3 316.5L982.7 325.7L983.0 333.5L983.4 333.5L983.7 338.4L984.1 322.3L984.4 336.4L984.8 311.7L985.1 320.7L985.5 342.5L985.8 340.0L986.2 328.3L986.5 311.6L986.9 334.5L987.2 315.8L987.6 322.6L987.9 337.5L988.3 341.7L988.6 314.3L989.0 318.7L989.3 332.2L989.7 328.3L990.0 363.1L990.4 346.8L990.7 342.2L991.1 308.5L991.4 337.4L991.8 333.7L992.1 404.4L992.5 342.4"/>
</g>
</g>
<g filter="url(#baA)">
<rect x="630.3" y="81.0" width="306.0" height="83.0" fill="#fff" stroke="#6e6e6e" stroke-width="2.20"/>
<path d="M645.2 102.5H727.2" stroke="#eab79c" stroke-width="1.9"/>
<path d="M645.2 141.1H727.2" stroke="#8fc0df" stroke-width="1.9"/>
<g font-family='"Liberation Sans", Arial, Helvetica, sans-serif' font-size="28.2" fill="#0a0a0a" stroke="#0a0a0a" stroke-width="0.50">
<text x="737.3" y="111.9" text-anchor="start" textLength="189.3" lengthAdjust="spacingAndGlyphs">Predicted Value</text>
<text x="737.3" y="150.2" text-anchor="start" textLength="150.0" lengthAdjust="spacingAndGlyphs">Actual Value</text>
<text x="367.9" y="28.8" text-anchor="start" textLength="352.4" lengthAdjust="spacingAndGlyphs" xml:space="preserve">RMSE error: 0.034  SSE:2.98</text>
<text x="482.7" y="775.0" text-anchor="start" textLength="124.4" lengthAdjust="spacingAndGlyphs" font-size="25.7">Data point</text>
<text x="249.6" y="741.5" text-anchor="start" textLength="43.8" lengthAdjust="spacingAndGlyphs" font-size="27.5">500</text>
<text x="417.1" y="741.5" text-anchor="start" textLength="59.5" lengthAdjust="spacingAndGlyphs" font-size="27.5">1000</text>
<text x="592.4" y="741.5" text-anchor="start" textLength="59.5" lengthAdjust="spacingAndGlyphs" font-size="27.5">1500</text>
<text x="767.7" y="741.5" text-anchor="start" textLength="59.5" lengthAdjust="spacingAndGlyphs" font-size="27.5">2000</text>
<text x="943.0" y="741.5" text-anchor="start" textLength="59.5" lengthAdjust="spacingAndGlyphs" font-size="27.5">2500</text>
<text x="75.0" y="720.1" text-anchor="start" textLength="13.8" lengthAdjust="spacingAndGlyphs" font-size="27.5">0</text>
<text x="51.6" y="650.1" text-anchor="start" textLength="37.2" lengthAdjust="spacingAndGlyphs" font-size="27.5">0.1</text>
<text x="51.6" y="580.2" text-anchor="start" textLength="37.2" lengthAdjust="spacingAndGlyphs" font-size="27.5">0.2</text>
<text x="51.6" y="510.2" text-anchor="start" textLength="37.2" lengthAdjust="spacingAndGlyphs" font-size="27.5">0.3</text>
<text x="51.6" y="440.3" text-anchor="start" textLength="37.2" lengthAdjust="spacingAndGlyphs" font-size="27.5">0.4</text>
<text x="51.6" y="370.3" text-anchor="start" textLength="37.2" lengthAdjust="spacingAndGlyphs" font-size="27.5">0.5</text>
<text x="51.6" y="300.3" text-anchor="start" textLength="37.2" lengthAdjust="spacingAndGlyphs" font-size="27.5">0.6</text>
<text x="51.6" y="230.4" text-anchor="start" textLength="37.2" lengthAdjust="spacingAndGlyphs" font-size="27.5">0.7</text>
<text x="51.6" y="160.4" text-anchor="start" textLength="37.2" lengthAdjust="spacingAndGlyphs" font-size="27.5">0.8</text>
<text x="51.6" y="90.5" text-anchor="start" textLength="37.2" lengthAdjust="spacingAndGlyphs" font-size="27.5">0.9</text>
<text transform="translate(35.3 381.0) rotate(-90)" text-anchor="middle" font-size="23.0">y</text>
</g>
</g>
<clipPath id="clipB"><rect x="94.6" y="972.6" width="897.6" height="658.3"/></clipPath>
<filter id="bdB" x="-5%" y="-5%" width="110%" height="110%" color-interpolation-filters="sRGB"><feGaussianBlur stdDeviation="1"/></filter>
<filter id="baB" x="-5%" y="-5%" width="110%" height="110%" color-interpolation-filters="sRGB"><feGaussianBlur stdDeviation="1" result="b"/><feComposite in="SourceGraphic" in2="b" operator="arithmetic" k1="0" k2="0.50" k3="0.50" k4="0"/></filter>
<g filter="url(#baB)">
<rect x="95.4" y="973.4" width="896.0" height="656.7" fill="none" stroke="#666666" stroke-width="2.30"/>
<path d="M270.1 1630.1v-8.6M270.1 973.4v8.6M445.3 1630.1v-8.6M445.3 973.4v8.6M620.5 1630.1v-8.6M620.5 973.4v8.6M795.7 1630.1v-8.6M795.7 973.4v8.6M970.9 1630.1v-8.6M970.9 973.4v8.6M95.4 1557.2h8.6M991.4 1557.2h-8.6M95.4 1456.1h8.6M991.4 1456.1h-8.6M95.4 1354.9h8.6M991.4 1354.9h-8.6M95.4 1253.8h8.6M991.4 1253.8h-8.6M95.4 1152.6h8.6M991.4 1152.6h-8.6M95.4 1051.5h8.6M991.4 1051.5h-8.6" stroke="#6e6e6e" stroke-width="2.30" fill="none"/>
</g>
<g filter="url(#bdB)">
<g clip-path="url(#clipB)" fill="none" stroke-linejoin="round" stroke-width="1.60">
<path stroke="#D95319" d="M95.3 1268.2L95.6 1252.1L96.0 1264.4L96.3 1259.1L96.7 1290.7L97.0 1266.1L97.4 1266.4L97.7 1286.4L98.1 1256.4L98.4 1269.8L98.8 1270.5L99.1 1290.7L99.5 1254.3L99.8 1253.9L100.2 1244.0L100.5 1288.1L100.9 1278.0L101.2 1271.3L101.6 1270.7L101.9 1259.1L102.3 1273.7L102.6 1294.9L103.0 1254.7L103.3 1265.7L103.7 1247.9L104.0 1271.6L104.4 1249.2L104.7 1275.8L105.1 1273.4L105.4 1268.6L105.8 1260.5L106.1 1256.1L106.5 1282.5L106.8 1266.5L107.2 1273.7L107.5 1444.5L107.9 1252.3L108.2 1264.6L108.6 1275.5L108.9 1248.8L109.3 1261.5L109.6 1263.7L110.0 1266.6L110.3 1292.0L110.7 1256.2L111.0 1252.1L111.4 1264.4L111.7 1271.8L112.1 1271.6L112.4 1240.2L112.8 1259.4L113.1 1264.3L113.5 1261.0L113.8 1249.9L114.2 1251.1L114.5 1256.0L114.9 1271.7L115.2 1260.2L115.6 1267.6L115.9 1262.6L116.3 1285.0L116.6 1268.0L117.0 1269.4L117.3 1269.6L117.7 1277.0L118.0 1266.2L118.4 1282.3L118.7 1261.3L119.1 1270.9L119.4 1240.1L119.8 1252.0L120.1 1277.8L120.5 1317.6L120.8 1271.4L121.2 1272.0L121.5 1263.5L121.9 1253.5L122.2 1272.3L122.6 1266.9L122.9 1266.2L123.3 1265.8L123.6 1242.1L124.0 1262.7L124.3 1273.6L124.7 1263.1L125.0 1281.6L125.4 1276.3L125.7 1362.6L126.1 1307.4L126.4 1254.6L126.8 1248.1L127.1 1256.6L127.5 1253.4L127.8 1248.0L128.2 1278.3L128.5 1246.6L128.9 1256.5L129.2 1277.8L129.6 1245.9L129.9 1264.7L130.3 1269.3L130.6 1267.5L131.0 1248.5L131.3 1298.0L131.7 1266.3L132.0 1275.1L132.4 1252.4L132.7 1259.3L133.1 1282.5L133.4 1257.8L133.8 1251.2L134.1 1240.1L134.5 1258.2L134.8 1249.4L135.2 1282.8L135.5 1294.1L135.9 1277.8L136.2 1252.4L136.6 1298.4L136.9 1265.9L137.3 1278.5L137.6 1264.8L138.0 1243.9L138.3 1253.5L138.7 1246.6L139.1 1269.6L139.4 1261.2L139.8 1253.9L140.1 1288.2L140.5 1274.9L140.8 1255.3L141.2 1274.4L141.5 1266.3L141.9 1271.6L142.2 1254.9L142.6 1271.3L142.9 1260.1L143.3 1267.2L143.6 1254.7L144.0 1276.9L144.3 1265.3L144.7 1299.7L145.0 1270.5L145.4 1258.1L145.7 1277.2L146.1 1259.0L146.4 1273.6L146.8 1257.4L147.1 1245.1L147.5 1260.2L147.8 1268.6L148.2 1258.6L148.5 1241.9L148.9 1276.6L149.2 1256.1L149.6 1268.5L149.9 1266.3L150.3 1290.8L150.6 1266.7L151.0 1305.2L151.3 1290.4L151.7 1266.9L152.0 1282.8L152.4 1249.7L152.7 1264.9L153.1 1277.1L153.4 1307.4L153.8 1258.5L154.1 1264.2L154.5 1249.8L154.8 1258.3L155.2 1264.5L155.5 1257.6L155.9 1267.3L156.2 1268.6L156.6 1271.3L156.9 1254.4L157.3 1268.2L157.6 1273.0L158.0 1246.5L158.3 1265.5L158.7 1255.3L159.0 1269.9L159.4 1270.9L159.7 1262.5L160.1 1260.4L160.4 1309.8L160.8 1251.6L161.1 1271.1L161.5 1264.5L161.8 1244.8L162.2 1231.1L162.5 1258.6L162.9 1256.2L163.2 1251.3L163.6 1265.5L163.9 1262.5L164.3 1271.8L164.6 1271.4L165.0 1269.2L165.3 1249.2L165.7 1246.1L166.0 1260.7L166.4 1257.7L166.7 1240.5L167.1 1287.3L167.4 1247.0L167.8 1244.1L168.1 1257.0L168.5 1252.8L168.8 1257.1L169.2 1250.2L169.5 1285.9L169.9 1263.6L170.2 1248.1L170.6 1255.6L170.9 1250.1L171.3 1271.2L171.6 1265.4L172.0 1268.8L172.3 1288.4L172.7 1263.4L173.0 1260.3L173.4 1263.7L173.7 1304.5L174.1 1270.1L174.4 1280.8L174.8 1256.1L175.1 1284.9L175.5 1269.6L175.8 1277.2L176.2 1244.0L176.5 1259.9L176.9 1257.9L177.2 1248.9L177.6 1270.2L177.9 1260.6L178.3 1276.6L178.6 1278.6L179.0 1283.0L179.3 1316.7L179.7 1262.9L180.0 1266.3L180.4 1270.5L180.7 1240.9L181.1 1277.8L181.4 1286.9L181.8 1269.3L182.1 1334.0L182.5 1261.0L182.9 1257.3L183.2 1262.6L183.6 1301.1L183.9 1257.5L184.3 1262.1L184.6 1255.8L185.0 1269.8L185.3 1307.2L185.7 1276.9L186.0 1250.7L186.4 1269.5L186.7 1268.0L187.1 1264.6L187.4 1254.7L187.8 1273.7L188.1 1268.4L188.5 1264.1L188.8 1263.3L189.2 1259.2L189.5 1251.7L189.9 1250.9L190.2 1272.4L190.6 1253.7L190.9 1253.7L191.3 1279.0L191.6 1255.0L192.0 1263.8L192.3 1286.6L192.7 1291.7L193.0 1317.8L193.4 1255.8L193.7 1234.5L194.1 1260.6L194.4 1262.7L194.8 1253.8L195.1 1256.2L195.5 1258.4L195.8 1269.5L196.2 1248.1L196.5 1234.0L196.9 1267.6L197.2 1250.1L197.6 1247.4L197.9 1269.4L198.3 1268.5L198.6 1263.3L199.0 1315.1L199.3 1243.6L199.7 1254.0L200.0 1261.7L200.4 1269.6L200.7 1322.1L201.1 1252.2L201.4 1267.4L201.8 1228.4L202.1 1249.8L202.5 1261.7L202.8 1249.3L203.2 1243.9L203.5 1259.9L203.9 1272.5L204.2 1271.8L204.6 1243.6L204.9 1270.3L205.3 1244.6L205.6 1267.9L206.0 1262.1L206.3 1276.6L206.7 1262.4L207.0 1237.3L207.4 1267.5L207.7 1263.6L208.1 1272.6L208.4 1256.5L208.8 1271.5L209.1 1251.4L209.5 1251.5L209.8 1276.0L210.2 1282.6L210.5 1258.3L210.9 1259.8L211.2 1304.5L211.6 1256.7L211.9 1249.0L212.3 1268.4L212.6 1270.3L213.0 1294.7L213.3 1275.0L213.7 1267.8L214.0 1247.9L214.4 1255.5L214.7 1253.0L215.1 1248.9L215.4 1281.5L215.8 1268.8L216.1 1261.1L216.5 1269.9L216.8 1268.3L217.2 1244.6L217.5 1270.8L217.9 1267.2L218.2 1265.5L218.6 1258.6L218.9 1296.3L219.3 1249.7L219.6 1266.6L220.0 1254.8L220.3 1262.6L220.7 1227.6L221.0 1260.1L221.4 1261.6L221.7 1263.4L222.1 1284.4L222.4 1253.7L222.8 1256.9L223.1 1274.1L223.5 1254.9L223.8 1264.6L224.2 1261.0L224.5 1253.3L224.9 1263.7L225.2 1243.1L225.6 1248.6L225.9 1260.1L226.3 1251.9L226.7 1258.2L227.0 1238.3L227.4 1280.0L227.7 1285.9L228.1 1266.9L228.4 1283.3L228.8 1240.0L229.1 1250.9L229.5 1249.9L229.8 1244.8L230.2 1261.9L230.5 1262.8L230.9 1249.4L231.2 1267.9L231.6 1248.1L231.9 1274.2L232.3 1266.9L232.6 1237.1L233.0 1272.5L233.3 1255.5L233.7 1237.0L234.0 1234.8L234.4 1259.9L234.7 1272.9L235.1 1242.2L235.4 1271.4L235.8 1274.9L236.1 1265.7L236.5 1265.2L236.8 1267.6L237.2 1270.5L237.5 1274.0L237.9 1258.7L238.2 1286.3L238.6 1248.8L238.9 1259.0L239.3 1260.1L239.6 1282.5L240.0 1282.3L240.3 1262.8L240.7 1275.2L241.0 1247.6L241.4 1268.4L241.7 1292.5L242.1 1286.0L242.4 1279.6L242.8 1259.1L243.1 1301.2L243.5 1283.1L243.8 1256.3L244.2 1281.8L244.5 1278.1L244.9 1269.2L245.2 1274.0L245.6 1262.5L245.9 1276.5L246.3 1269.5L246.6 1277.6L247.0 1278.5L247.3 1268.3L247.7 1269.8L248.0 1251.0L248.4 1280.0L248.7 1250.8L249.1 1278.2L249.4 1259.6L249.8 1283.5L250.1 1286.5L250.5 1254.6L250.8 1257.4L251.2 1279.5L251.5 1247.7L251.9 1320.8L252.2 1251.4L252.6 1274.9L252.9 1261.9L253.3 1260.4L253.6 1254.6L254.0 1258.2L254.3 1254.9L254.7 1278.7L255.0 1256.7L255.4 1263.8L255.7 1268.0L256.1 1267.7L256.4 1282.4L256.8 1272.0L257.1 1251.1L257.5 1269.4L257.8 1273.0L258.2 1259.0L258.5 1251.3L258.9 1274.9L259.2 1277.7L259.6 1288.8L259.9 1284.4L260.3 1270.1L260.6 1256.7L261.0 1263.7L261.3 1294.7L261.7 1242.3L262.0 1247.6L262.4 1264.9L262.7 1270.6L263.1 1268.5L263.4 1263.5L263.8 1273.0L264.1 1272.1L264.5 1236.6L264.8 1268.2L265.2 1253.5L265.5 1284.3L265.9 1267.9L266.2 1274.9L266.6 1251.8L266.9 1251.7L267.3 1296.1L267.6 1253.0L268.0 1265.9L268.3 1266.0L268.7 1270.1L269.0 1291.7L269.4 1262.2L269.7 1274.0L270.1 1248.6L270.5 1270.4L270.8 1277.1L271.2 1283.6L271.5 1266.5L271.9 1278.8L272.2 1237.9L272.6 1265.1L272.9 1253.4L273.3 1261.1L273.6 1308.6L274.0 1250.1L274.3 1276.5L274.7 1280.2L275.0 1249.7L275.4 1272.7L275.7 1258.8L276.1 1316.8L276.4 1280.5L276.8 1252.5L277.1 1262.3L277.5 1270.8L277.8 1250.6L278.2 1242.5L278.5 1256.2L278.9 1275.1L279.2 1266.5L279.6 1251.6L279.9 1244.4L280.3 1249.4L280.6 1312.3L281.0 1251.8L281.3 1262.0L281.7 1271.4L282.0 1280.0L282.4 1274.5L282.7 1257.0L283.1 1276.0L283.4 1282.6L283.8 1268.1L284.1 1270.5L284.5 1254.7L284.8 1263.8L285.2 1275.3L285.5 1254.8L285.9 1271.4L286.2 1248.7L286.6 1255.6L286.9 1253.4L287.3 1256.0L287.6 1240.7L288.0 1256.3L288.3 1272.7L288.7 1268.2L289.0 1266.2L289.4 1270.3L289.7 1264.9L290.1 1262.9L290.4 1268.8L290.8 1252.2L291.1 1248.5L291.5 1248.7L291.8 1266.3L292.2 1235.1L292.5 1297.0L292.9 1260.3L293.2 1274.3L293.6 1251.7L293.9 1272.2L294.3 1266.1L294.6 1266.0L295.0 1271.4L295.3 1244.7L295.7 1256.8L296.0 1251.7L296.4 1308.8L296.7 1270.7L297.1 1275.2L297.4 1247.9L297.8 1261.5L298.1 1277.3L298.5 1287.1L298.8 1262.3L299.2 1263.1L299.5 1265.4L299.9 1272.6L300.2 1274.7L300.6 1273.9L300.9 1274.2L301.3 1251.1L301.6 1290.9L302.0 1258.2L302.3 1241.9L302.7 1268.6L303.0 1269.4L303.4 1262.9L303.7 1261.3L304.1 1248.5L304.4 1276.3L304.8 1262.2L305.1 1275.8L305.5 1256.9L305.8 1267.3L306.2 1254.1L306.5 1260.5L306.9 1282.2L307.2 1270.5L307.6 1261.4L307.9 1257.9L308.3 1268.0L308.6 1275.6L309.0 1267.2L309.3 1274.0L309.7 1265.6L310.0 1283.4L310.4 1250.7L310.7 1271.2L311.1 1247.5L311.4 1268.0L311.8 1260.7L312.1 1264.4L312.5 1262.0L312.8 1279.2L313.2 1244.6L313.5 1268.9L313.9 1262.7L314.3 1244.2L314.6 1259.1L315.0 1268.9L315.3 1260.1L315.7 1299.9L316.0 1246.9L316.4 1273.8L316.7 1268.2L317.1 1242.9L317.4 1262.6L317.8 1277.6L318.1 1266.5L318.5 1265.2L318.8 1265.5L319.2 1250.7L319.5 1280.9L319.9 1260.9L320.2 1258.8L320.6 1304.0L320.9 1235.6L321.3 1263.1L321.6 1265.5L322.0 1273.0L322.3 1307.0L322.7 1263.3L323.0 1256.6L323.4 1262.2L323.7 1249.3L324.1 1243.1L324.4 1261.9L324.8 1262.7L325.1 1264.2L325.5 1283.3L325.8 1277.8L326.2 1269.5L326.5 1266.3L326.9 1270.0L327.2 1275.1L327.6 1283.3L327.9 1251.8L328.3 1261.2L328.6 1249.9L329.0 1251.8L329.3 1270.0L329.7 1260.2L330.0 1268.1L330.4 1275.9L330.7 1253.2L331.1 1255.2L331.4 1276.1L331.8 1278.6L332.1 1248.0L332.5 1250.0L332.8 1266.8L333.2 1265.7L333.5 1254.2L333.9 1240.9L334.2 1253.1L334.6 1258.2L334.9 1241.9L335.3 1271.9L335.6 1318.9L336.0 1281.3L336.3 1252.1L336.7 1264.7L337.0 1259.4L337.4 1265.0L337.7 1243.5L338.1 1290.4L338.4 1323.6L338.8 1280.2L339.1 1282.5L339.5 1238.9L339.8 1277.2L340.2 1256.3L340.5 1314.3L340.9 1248.0L341.2 1274.0L341.6 1262.6L341.9 1245.0L342.3 1288.1L342.6 1285.9L343.0 1270.9L343.3 1259.4L343.7 1257.2L344.0 1248.0L344.4 1266.6L344.7 1261.5L345.1 1263.9L345.4 1262.0L345.8 1274.0L346.1 1261.6L346.5 1271.9L346.8 1263.2L347.2 1262.7L347.5 1283.2L347.9 1263.6L348.2 1271.0L348.6 1282.9L348.9 1277.6L349.3 1279.9L349.6 1270.8L350.0 1250.5L350.3 1271.4L350.7 1275.1L351.0 1255.5L351.4 1247.7L351.7 1284.3L352.1 1284.6L352.4 1264.8L352.8 1273.0L353.1 1262.0L353.5 1281.0L353.8 1281.6L354.2 1268.9L354.5 1259.0L354.9 1285.3L355.2 1254.9L355.6 1277.4L355.9 1238.6L356.3 1239.4L356.6 1266.4L357.0 1268.8L357.3 1286.4L357.7 1250.0L358.1 1273.2L358.4 1258.3L358.8 1362.6L359.1 1272.4L359.5 1226.8L359.8 1308.7L360.2 1261.4L360.5 1261.2L360.9 1251.4L361.2 1311.5L361.6 1258.1L361.9 1236.1L362.3 1250.1L362.6 1253.6L363.0 1248.0L363.3 1272.8L363.7 1272.1L364.0 1253.7L364.4 1271.8L364.7 1253.4L365.1 1264.8L365.4 1280.9L365.8 1243.8L366.1 1269.6L366.5 1233.3L366.8 1254.3L367.2 1277.2L367.5 1316.6L367.9 1250.1L368.2 1255.5L368.6 1256.9L368.9 1306.5L369.3 1255.3L369.6 1276.8L370.0 1261.1L370.3 1266.3L370.7 1269.0L371.0 1268.3L371.4 1262.3L371.7 1277.3L372.1 1283.9L372.4 1267.8L372.8 1251.2L373.1 1267.8L373.5 1251.7L373.8 1244.7L374.2 1259.2L374.5 1250.3L374.9 1278.1L375.2 1253.4L375.6 1247.5L375.9 1249.2L376.3 1250.5L376.6 1270.0L377.0 1282.8L377.3 1268.2L377.7 1256.0L378.0 1248.2L378.4 1252.1L378.7 1278.9L379.1 1278.9L379.4 1255.0L379.8 1264.5L380.1 1268.1L380.5 1264.7L380.8 1265.8L381.2 1259.7L381.5 1242.4L381.9 1283.0L382.2 1261.0L382.6 1275.7L382.9 1569.2L383.3 1256.1L383.6 1273.8L384.0 1263.0L384.3 1247.8L384.7 1280.0L385.0 1256.5L385.4 1241.4L385.7 1286.5L386.1 1258.4L386.4 1251.4L386.8 1275.8L387.1 1250.6L387.5 1266.6L387.8 1271.8L388.2 1241.8L388.5 1264.2L388.9 1286.2L389.2 1259.3L389.6 1257.7L389.9 1268.4L390.3 1268.4L390.6 1270.7L391.0 1248.3L391.3 1269.2L391.7 1270.5L392.0 1271.7L392.4 1241.5L392.7 1268.2L393.1 1246.7L393.4 1265.5L393.8 1281.5L394.1 1255.0L394.5 1260.6L394.8 1288.7L395.2 1274.7L395.5 1243.6L395.9 1249.2L396.2 1286.2L396.6 1249.7L396.9 1259.4L397.3 1278.0L397.6 1268.7L398.0 1257.6L398.3 1264.0L398.7 1261.7L399.0 1268.5L399.4 1274.7L399.7 1256.0L400.1 1279.4L400.4 1270.4L400.8 1278.8L401.1 1256.1L401.5 1277.3L401.9 1254.1L402.2 1286.4L402.6 1241.5L402.9 1262.3L403.3 1309.3L403.6 1271.8L404.0 1255.4L404.3 1286.0L404.7 1252.5L405.0 1258.0L405.4 1254.3L405.7 1263.1L406.1 1252.4L406.4 1275.0L406.8 1318.1L407.1 1272.3L407.5 1272.1L407.8 1243.5L408.2 1262.3L408.5 1258.7L408.9 1264.8L409.2 1278.9L409.6 1279.9L409.9 1261.9L410.3 1255.8L410.6 1258.1L411.0 1291.6L411.3 1253.3L411.7 1256.0L412.0 1255.3L412.4 1273.4L412.7 1272.6L413.1 1252.2L413.4 1282.1L413.8 1266.4L414.1 1261.0L414.5 1297.2L414.8 1271.1L415.2 1273.0L415.5 1274.0L415.9 1264.7L416.2 1276.7L416.6 1256.6L416.9 1248.8L417.3 1264.2L417.6 1276.8L418.0 1265.1L418.3 1275.8L418.7 1272.2L419.0 1255.7L419.4 1261.9L419.7 1234.2L420.1 1260.8L420.4 1263.4L420.8 1238.4L421.1 1260.2L421.5 1280.7L421.8 1249.9L422.2 1244.5L422.5 1252.1L422.9 1244.6L423.2 1252.6L423.6 1261.8L423.9 1265.6L424.3 1264.2L424.6 1250.7L425.0 1280.4L425.3 1253.9L425.7 1279.9L426.0 1271.3L426.4 1245.4L426.7 1272.5L427.1 1280.6L427.4 1284.0L427.8 1273.7L428.1 1271.0L428.5 1270.8L428.8 1280.0L429.2 1265.0L429.5 1270.9L429.9 1269.0L430.2 1279.0L430.6 1276.1L430.9 1252.6L431.3 1280.9L431.6 1249.2L432.0 1272.0L432.3 1285.0L432.7 1268.7L433.0 1266.8L433.4 1275.6L433.7 1260.7L434.1 1233.6L434.4 1258.0L434.8 1257.8L435.1 1247.9L435.5 1278.2L435.8 1258.9L436.2 1257.1L436.5 1304.1L436.9 1253.7L437.2 1262.7L437.6 1249.4L437.9 1264.8L438.3 1259.2L438.6 1261.9L439.0 1307.0L439.3 1258.0L439.7 1264.5L440.0 1271.6L440.4 1260.9L440.7 1258.6L441.1 1248.4L441.4 1261.5L441.8 1265.8L442.1 1254.3L442.5 1267.6L442.8 1273.7L443.2 1261.7L443.5 1264.3L443.9 1274.0L444.2 1268.5L444.6 1268.0L444.9 1259.7L445.3 1265.4L445.7 1271.5L446.0 1263.7L446.4 1269.0L446.7 1252.3L447.1 1251.0L447.4 1272.9L447.8 1284.7L448.1 1279.0L448.5 1247.8L448.8 1278.4L449.2 1259.4L449.5 1275.9L449.9 1270.1L450.2 1264.5L450.6 1258.0L450.9 1264.9L451.3 1256.2L451.6 1255.6L452.0 1262.9L452.3 1254.9L452.7 1274.2L453.0 1277.1L453.4 1260.3L453.7 1284.1L454.1 1281.3L454.4 1275.0L454.8 1269.8L455.1 1267.9L455.5 1264.8L455.8 1280.7L456.2 1253.6L456.5 1269.2L456.9 1277.2L457.2 1258.7L457.6 1283.1L457.9 1268.4L458.3 1270.3L458.6 1238.9L459.0 1240.3L459.3 1257.7L459.7 1278.8L460.0 1261.6L460.4 1277.6L460.7 1270.8L461.1 1282.5L461.4 1259.7L461.8 1259.6L462.1 1309.7L462.5 1251.2L462.8 1271.4L463.2 1285.3L463.5 1246.1L463.9 1272.1L464.2 1272.5L464.6 1270.4L464.9 1286.8L465.3 1273.8L465.6 1274.3L466.0 1273.0L466.3 1262.9L466.7 1254.0L467.0 1248.2L467.4 1265.9L467.7 1255.5L468.1 1246.1L468.4 1268.8L468.8 1283.3L469.1 1262.6L469.5 1268.1L469.8 1245.6L470.2 1265.9L470.5 1264.3L470.9 1269.5L471.2 1344.0L471.6 1269.7L471.9 1270.6L472.3 1243.4L472.6 1277.1L473.0 1269.2L473.3 1265.9L473.7 1242.3L474.0 1258.2L474.4 1279.3L474.7 1246.2L475.1 1257.3L475.4 1272.9L475.8 1254.4L476.1 1264.0L476.5 1264.0L476.8 1267.8L477.2 1265.4L477.5 1280.3L477.9 1266.3L478.2 1272.7L478.6 1259.0L478.9 1272.5L479.3 1267.0L479.6 1267.4L480.0 1258.0L480.3 1265.7L480.7 1266.2L481.0 1272.5L481.4 1262.0L481.7 1255.0L482.1 1259.7L482.4 1263.0L482.8 1245.2L483.1 1280.6L483.5 1251.9L483.8 1265.9L484.2 1253.1L484.5 1272.9L484.9 1266.7L485.2 1254.9L485.6 1283.8L485.9 1267.3L486.3 1268.7L486.6 1265.3L487.0 1254.3L487.3 1274.9L487.7 1254.3L488.0 1274.3L488.4 1270.2L488.7 1270.1L489.1 1247.9L489.5 1262.4L489.8 1318.9L490.2 1263.2L490.5 1252.2L490.9 1306.7L491.2 1254.5L491.6 1274.4L491.9 1236.9L492.3 1278.4L492.6 1263.5L493.0 1266.4L493.3 1252.0L493.7 1261.0L494.0 1245.6L494.4 1262.1L494.7 1269.8L495.1 1259.4L495.4 1260.2L495.8 1262.3L496.1 1263.2L496.5 1243.8L496.8 1288.9L497.2 1256.2L497.5 1245.0L497.9 1253.7L498.2 1251.5L498.6 1273.5L498.9 1267.6L499.3 1275.4L499.6 1276.0L500.0 1309.8L500.3 1253.7L500.7 1282.7L501.0 1264.9L501.4 1253.8L501.7 1336.6L502.1 1249.2L502.4 1283.4L502.8 1255.4L503.1 1253.0L503.5 1275.0L503.8 1253.4L504.2 1268.3L504.5 1277.7L504.9 1260.8L505.2 1272.6L505.6 1257.2L505.9 1295.6L506.3 1253.4L506.6 1247.7L507.0 1264.1L507.3 1232.2L507.7 1278.7L508.0 1262.8L508.4 1246.6L508.7 1276.8L509.1 1267.4L509.4 1265.3L509.8 1274.0L510.1 1270.7L510.5 1262.8L510.8 1269.1L511.2 1268.2L511.5 1261.9L511.9 1234.2L512.2 1264.2L512.6 1267.9L512.9 1284.5L513.3 1237.9L513.6 1257.2L514.0 1279.7L514.3 1251.2L514.7 1254.5L515.0 1260.2L515.4 1246.0L515.7 1229.2L516.1 1269.6L516.4 1255.5L516.8 1262.3L517.1 1266.5L517.5 1255.6L517.8 1269.9L518.2 1266.9L518.5 1292.1L518.9 1257.4L519.2 1282.6L519.6 1259.5L519.9 1255.2L520.3 1241.0L520.6 1253.9L521.0 1263.7L521.3 1305.8L521.7 1245.5L522.0 1257.7L522.4 1258.6L522.7 1242.3L523.1 1270.5L523.4 1254.9L523.8 1285.4L524.1 1268.3L524.5 1253.0L524.8 1243.7L525.2 1271.5L525.5 1252.0L525.9 1271.5L526.2 1262.6L526.6 1277.7L526.9 1257.9L527.3 1244.9L527.6 1239.6L528.0 1282.4L528.3 1349.6L528.7 1263.8L529.0 1257.3L529.4 1270.0L529.7 1266.3L530.1 1267.5L530.4 1254.9L530.8 1267.9L531.1 1268.7L531.5 1252.4L531.8 1256.3L532.2 1244.8L532.5 1248.3L532.9 1248.5L533.3 1264.0L533.6 1251.8L534.0 1268.5L534.3 1262.2L534.7 1261.3L535.0 1259.7L535.4 1266.3L535.7 1270.4L536.1 1264.1L536.4 1241.3L536.8 1282.0L537.1 1264.4L537.5 1254.0L537.8 1261.5L538.2 1270.4L538.5 1264.5L538.9 1255.3L539.2 1247.7L539.6 1253.3L539.9 1700.0L540.3 1266.3L540.6 1248.3L541.0 1252.2L541.3 1267.6L541.7 1251.9L542.0 1258.0L542.4 1250.5L542.7 1253.0L543.1 1269.6L543.4 1290.5L543.8 1266.7L544.1 1270.3L544.5 1259.2L544.8 1268.9L545.2 1303.0L545.5 1267.5L545.9 1269.8L546.2 1268.2L546.6 1278.8L546.9 1243.8L547.3 1257.0L547.6 1262.1L548.0 1268.3L548.3 1258.3L548.7 1253.8L549.0 1259.0L549.4 1279.3L549.7 1260.8L550.1 1270.1L550.4 1264.9L550.8 1259.4L551.1 1266.6L551.5 1271.6L551.8 1321.2L552.2 1249.6L552.5 1285.1L552.9 1264.7L553.2 1271.0L553.6 1268.5L553.9 1263.6L554.3 1235.3L554.6 1255.3L555.0 1239.2L555.3 1316.8L555.7 1261.9L556.0 1275.9L556.4 1294.2L556.7 1291.0L557.1 1257.4L557.4 1275.1L557.8 1239.7L558.1 1261.5L558.5 1255.9L558.8 1259.6L559.2 1268.4L559.5 1244.4L559.9 1261.6L560.2 1284.6L560.6 1256.7L560.9 1256.9L561.3 1266.3L561.6 1286.5L562.0 1265.3L562.3 1269.2L562.7 1235.9L563.0 1258.3L563.4 1277.1L563.7 1249.2L564.1 1243.8L564.4 1245.0L564.8 1266.5L565.1 1281.5L565.5 1281.6L565.8 1242.0L566.2 1263.2L566.5 1255.5L566.9 1290.7L567.2 1274.6L567.6 1281.9L567.9 1255.9L568.3 1264.9L568.6 1246.3L569.0 1268.9L569.3 1247.7L569.7 1264.9L570.0 1251.3L570.4 1262.6L570.7 1322.4L571.1 1274.6L571.4 1279.3L571.8 1272.8L572.1 1262.3L572.5 1287.7L572.8 1270.7L573.2 1260.7L573.5 1266.3L573.9 1259.1L574.2 1291.1L574.6 1265.5L574.9 1262.1L575.3 1257.8L575.6 1261.4L576.0 1345.9L576.3 1263.6L576.7 1264.4L577.1 1257.8L577.4 1253.6L577.8 1259.6L578.1 1258.6L578.5 1284.8L578.8 1254.8L579.2 1244.0L579.5 1271.5L579.9 1267.7L580.2 1297.3L580.6 1267.8L580.9 1291.6L581.3 1271.9L581.6 1252.5L582.0 1266.1L582.3 1244.4L582.7 1259.3L583.0 1262.6L583.4 1269.0L583.7 1268.9L584.1 1249.7L584.4 1280.4L584.8 1273.9L585.1 1263.6L585.5 1259.6L585.8 1260.9L586.2 1284.0L586.5 1260.4L586.9 1286.6L587.2 1269.7L587.6 1248.4L587.9 1244.0L588.3 1243.9L588.6 1277.9L589.0 1277.7L589.3 1265.6L589.7 1267.1L590.0 1267.0L590.4 1257.0L590.7 1258.0L591.1 1281.4L591.4 1256.6L591.8 1251.4L592.1 1278.5L592.5 1283.1L592.8 1256.5L593.2 1251.6L593.5 1253.0L593.9 1254.2L594.2 1301.6L594.6 1246.6L594.9 1283.5L595.3 1244.7L595.6 1240.9L596.0 1269.7L596.3 1265.7L596.7 1255.7L597.0 1285.2L597.4 1261.2L597.7 1250.2L598.1 1273.9L598.4 1277.2L598.8 1265.5L599.1 1262.6L599.5 1256.4L599.8 1275.6L600.2 1274.4L600.5 1272.7L600.9 1266.2L601.2 1262.6L601.6 1262.9L601.9 1261.1L602.3 1247.8L602.6 1256.8L603.0 1310.6L603.3 1270.9L603.7 1251.8L604.0 1263.9L604.4 1249.7L604.7 1258.1L605.1 1257.6L605.4 1265.9L605.8 1255.8L606.1 1261.4L606.5 1276.1L606.8 1294.9L607.2 1240.2L607.5 1285.1L607.9 1261.3L608.2 1294.6L608.6 1280.0L608.9 1277.0L609.3 1255.3L609.6 1280.8L610.0 1243.9L610.3 1236.2L610.7 1261.1L611.0 1272.4L611.4 1263.2L611.7 1250.7L612.1 1255.5L612.4 1279.2L612.8 1259.2L613.1 1261.7L613.5 1254.6L613.8 1278.2L614.2 1264.1L614.5 1262.5L614.9 1262.6L615.2 1331.0L615.6 1248.3L615.9 1258.9L616.3 1248.3L616.6 1255.3L617.0 1244.1L617.3 1280.6L617.7 1279.1L618.0 1258.4L618.4 1264.7L618.7 1264.2L619.1 1265.0L619.4 1250.7L619.8 1248.7L620.1 1250.7L620.5 1286.3L620.9 1269.1L621.2 1272.6L621.6 1250.1L621.9 1259.0L622.3 1263.0L622.6 1281.6L623.0 1287.6L623.3 1253.7L623.7 1240.1L624.0 1265.0L624.4 1271.6L624.7 1272.1L625.1 1282.6L625.4 1268.9L625.8 1265.6L626.1 1260.9L626.5 1289.0L626.8 1305.5L627.2 1240.9L627.5 1253.9L627.9 1285.8L628.2 1244.9L628.6 1277.2L628.9 1306.5L629.3 1260.8L629.6 1278.8L630.0 1252.9L630.3 1275.5L630.7 1274.1L631.0 1287.0L631.4 1270.9L631.7 1250.4L632.1 1262.8L632.4 1277.9L632.8 1284.5L633.1 1262.1L633.5 1262.7L633.8 1282.7L634.2 1275.2L634.5 1255.6L634.9 1258.2L635.2 1273.4L635.6 1258.9L635.9 1239.9L636.3 1239.1L636.6 1275.7L637.0 1294.5L637.3 1269.0L637.7 1268.1L638.0 1268.2L638.4 1256.2L638.7 1255.4L639.1 1252.7L639.4 1274.4L639.8 1276.0L640.1 1275.9L640.5 1271.3L640.8 1268.8L641.2 1260.8L641.5 1283.0L641.9 1251.2L642.2 1266.6L642.6 1264.0L642.9 1246.4L643.3 1253.1L643.6 1246.8L644.0 1252.6L644.3 1279.5L644.7 1242.6L645.0 1275.3L645.4 1262.7L645.7 1250.8L646.1 1233.0L646.4 1274.7L646.8 1260.3L647.1 1260.1L647.5 1263.9L647.8 1287.4L648.2 1253.1L648.5 1246.0L648.9 1262.0L649.2 1270.6L649.6 1263.8L649.9 1254.3L650.3 1265.6L650.6 1282.5L651.0 1250.4L651.3 1265.1L651.7 1281.1L652.0 1263.0L652.4 1254.0L652.7 1266.1L653.1 1262.1L653.4 1266.3L653.8 1243.4L654.1 1251.8L654.5 1264.4L654.8 1268.5L655.2 1265.6L655.5 1261.7L655.9 1234.0L656.2 1249.0L656.6 1258.4L656.9 1261.2L657.3 1273.2L657.6 1267.8L658.0 1260.2L658.3 1264.9L658.7 1256.4L659.0 1279.5L659.4 1253.6L659.7 1345.9L660.1 1256.9L660.4 1271.8L660.8 1250.2L661.1 1266.4L661.5 1257.3L661.8 1279.6L662.2 1271.9L662.5 1254.8L662.9 1265.6L663.2 1264.0L663.6 1269.0L663.9 1255.8L664.3 1279.1L664.7 1255.3L665.0 1218.3L665.4 1258.3L665.7 1255.7L666.1 1267.7L666.4 1249.6L666.8 1246.2L667.1 1269.0L667.5 1367.5L667.8 1263.2L668.2 1273.9L668.5 1286.1L668.9 1247.5L669.2 1261.6L669.6 1265.3L669.9 1255.6L670.3 1267.1L670.6 1248.9L671.0 1280.8L671.3 1258.9L671.7 1271.9L672.0 1274.5L672.4 1265.1L672.7 1297.6L673.1 1274.4L673.4 1266.7L673.8 1283.6L674.1 1290.7L674.5 1263.3L674.8 1261.4L675.2 1268.6L675.5 1272.0L675.9 1270.1L676.2 1266.0L676.6 1268.7L676.9 1245.1L677.3 1265.4L677.6 1261.3L678.0 1263.3L678.3 1255.2L678.7 1228.0L679.0 1261.7L679.4 1275.2L679.7 1242.5L680.1 1259.0L680.4 1271.2L680.8 1245.1L681.1 1256.0L681.5 1313.6L681.8 1265.1L682.2 1272.7L682.5 1270.3L682.9 1272.5L683.2 1265.7L683.6 1258.6L683.9 1251.6L684.3 1266.3L684.6 1269.8L685.0 1267.6L685.3 1275.9L685.7 1253.0L686.0 1264.3L686.4 1267.1L686.7 1257.5L687.1 1259.8L687.4 1254.0L687.8 1269.8L688.1 1318.7L688.5 1240.9L688.8 1259.0L689.2 1267.8L689.5 1244.1L689.9 1278.7L690.2 1258.4L690.6 1285.3L690.9 1251.2L691.3 1257.3L691.6 1260.5L692.0 1261.9L692.3 1281.6L692.7 1242.2L693.0 1261.2L693.4 1254.4L693.7 1262.1L694.1 1267.1L694.4 1314.3L694.8 1301.3L695.1 1279.4L695.5 1270.6L695.8 1274.9L696.2 1247.9L696.5 1232.7L696.9 1260.2L697.2 1263.5L697.6 1275.1L697.9 1320.5L698.3 1283.9L698.6 1282.0L699.0 1302.1L699.3 1253.6L699.7 1290.0L700.0 1272.6L700.4 1329.0L700.7 1272.0L701.1 1279.9L701.4 1268.7L701.8 1265.9L702.1 1274.3L702.5 1266.6L702.8 1293.2L703.2 1281.8L703.5 1258.4L703.9 1272.7L704.2 1271.8L704.6 1274.2L704.9 1254.9L705.3 1251.3L705.6 1284.6L706.0 1259.2L706.3 1269.8L706.7 1257.0L707.0 1244.8L707.4 1248.3L707.7 1238.0L708.1 1261.4L708.5 1266.7L708.8 1255.9L709.2 1258.6L709.5 1261.8L709.9 1254.7L710.2 1290.3L710.6 1262.8L710.9 1273.9L711.3 1237.0L711.6 1253.8L712.0 1311.2L712.3 1266.7L712.7 1263.7L713.0 1273.3L713.4 1290.9L713.7 1261.7L714.1 1258.3L714.4 1285.4L714.8 1272.3L715.1 1266.4L715.5 1250.9L715.8 1252.9L716.2 1264.0L716.5 1281.0L716.9 1266.1L717.2 1277.2L717.6 1256.6L717.9 1282.9L718.3 1277.3L718.6 1268.7L719.0 1250.2L719.3 1276.1L719.7 1288.2L720.0 1270.1L720.4 1247.5L720.7 1278.7L721.1 1260.8L721.4 1267.6L721.8 1269.4L722.1 1272.2L722.5 1262.5L722.8 1256.2L723.2 1270.9L723.5 1266.9L723.9 1270.9L724.2 1283.3L724.6 1269.7L724.9 1279.5L725.3 1257.8L725.6 1261.5L726.0 1266.3L726.3 1222.6L726.7 1258.5L727.0 1251.3L727.4 1267.1L727.7 1255.6L728.1 1257.9L728.4 1272.0L728.8 1255.2L729.1 1246.4L729.5 1256.5L729.8 1269.1L730.2 1267.5L730.5 1268.4L730.9 1276.6L731.2 1252.7L731.6 1258.7L731.9 1277.1L732.3 1254.5L732.6 1250.8L733.0 1262.2L733.3 1267.7L733.7 1232.7L734.0 1300.8L734.4 1262.9L734.7 1255.4L735.1 1238.1L735.4 1274.9L735.8 1286.9L736.1 1257.6L736.5 1268.5L736.8 1269.7L737.2 1248.8L737.5 1267.0L737.9 1249.6L738.2 1255.7L738.6 1295.7L738.9 1271.6L739.3 1274.8L739.6 1296.6L740.0 1275.7L740.3 1253.2L740.7 1279.0L741.0 1274.5L741.4 1280.3L741.7 1280.5L742.1 1271.3L742.4 1252.1L742.8 1269.3L743.1 1281.7L743.5 1271.6L743.8 1253.9L744.2 1241.6L744.5 1259.8L744.9 1268.7L745.2 1233.0L745.6 1248.9L745.9 1265.5L746.3 1283.1L746.6 1260.6L747.0 1272.0L747.3 1272.1L747.7 1254.3L748.0 1230.4L748.4 1258.0L748.7 1275.6L749.1 1272.8L749.4 1260.1L749.8 1277.6L750.1 1267.0L750.5 1278.9L750.8 1271.0L751.2 1276.8L751.5 1258.1L751.9 1240.4L752.3 1244.0L752.6 1261.9L753.0 1266.9L753.3 1270.4L753.7 1272.6L754.0 1280.7L754.4 1288.0L754.7 1245.5L755.1 1273.0L755.4 1273.4L755.8 1268.1L756.1 1239.3L756.5 1263.7L756.8 1265.5L757.2 1233.9L757.5 1277.9L757.9 1283.6L758.2 1250.7L758.6 1275.1L758.9 1255.5L759.3 1258.7L759.6 1268.4L760.0 1256.4L760.3 1259.9L760.7 1289.6L761.0 1246.2L761.4 1249.4L761.7 1268.1L762.1 1264.5L762.4 1264.5L762.8 1275.4L763.1 1258.8L763.5 1262.2L763.8 1305.2L764.2 1264.0L764.5 1261.6L764.9 1254.9L765.2 1275.6L765.6 1259.3L765.9 1266.9L766.3 1263.7L766.6 1272.3L767.0 1269.6L767.3 1263.2L767.7 1265.8L768.0 1269.6L768.4 1261.6L768.7 1264.1L769.1 1261.9L769.4 1264.1L769.8 1257.0L770.1 1258.7L770.5 1302.4L770.8 1246.3L771.2 1245.1L771.5 1264.8L771.9 1262.7L772.2 1240.9L772.6 1261.1L772.9 1239.0L773.3 1267.9L773.6 1264.8L774.0 1263.1L774.3 1273.5L774.7 1267.0L775.0 1256.5L775.4 1267.3L775.7 1267.5L776.1 1260.9L776.4 1302.8L776.8 1254.7L777.1 1248.1L777.5 1252.9L777.8 1283.7L778.2 1247.9L778.5 1272.7L778.9 1260.0L779.2 1262.8L779.6 1315.9L779.9 1257.1L780.3 1259.9L780.6 1276.5L781.0 1260.9L781.3 1255.9L781.7 1268.1L782.0 1267.0L782.4 1261.3L782.7 1259.2L783.1 1262.2L783.4 1254.6L783.8 1267.3L784.1 1265.0L784.5 1262.6L784.8 1278.9L785.2 1255.8L785.5 1273.1L785.9 1268.2L786.2 1249.9L786.6 1255.5L786.9 1257.1L787.3 1283.8L787.6 1348.9L788.0 1260.3L788.3 1264.8L788.7 1245.3L789.0 1279.2L789.4 1260.7L789.7 1277.9L790.1 1252.5L790.4 1271.1L790.8 1257.8L791.1 1255.6L791.5 1276.3L791.8 1258.3L792.2 1243.0L792.5 1259.5L792.9 1249.0L793.2 1258.9L793.6 1264.4L793.9 1269.7L794.3 1283.3L794.6 1268.1L795.0 1258.9L795.3 1275.6L795.7 1266.0L796.1 1256.3L796.4 1274.5L796.8 1263.2L797.1 1274.3L797.5 1269.2L797.8 1252.1L798.2 1272.9L798.5 1260.0L798.9 1272.3L799.2 1238.9L799.6 1260.0L799.9 1341.4L800.3 1270.5L800.6 1246.8L801.0 1275.1L801.3 1256.0L801.7 1256.5L802.0 1274.4L802.4 1257.4L802.7 1257.3L803.1 1240.3L803.4 1244.1L803.8 1263.3L804.1 1261.5L804.5 1248.8L804.8 1291.2L805.2 1251.0L805.5 1254.6L805.9 1263.0L806.2 1254.7L806.6 1261.8L806.9 1248.0L807.3 1272.3L807.6 1251.2L808.0 1270.8L808.3 1272.7L808.7 1280.7L809.0 1269.0L809.4 1264.4L809.7 1344.0L810.1 1253.6L810.4 1257.7L810.8 1262.6L811.1 1272.1L811.5 1269.3L811.8 1269.8L812.2 1261.7L812.5 1255.8L812.9 1261.7L813.2 1282.0L813.6 1262.2L813.9 1252.9L814.3 1263.8L814.6 1265.2L815.0 1248.1L815.3 1274.1L815.7 1242.0L816.0 1264.2L816.4 1265.7L816.7 1274.7L817.1 1249.0L817.4 1244.8L817.8 1259.8L818.1 1245.0L818.5 1269.8L818.8 1273.1L819.2 1270.8L819.5 1284.3L819.9 1258.4L820.2 1267.1L820.6 1274.6L820.9 1264.6L821.3 1281.4L821.6 1267.9L822.0 1261.6L822.3 1262.4L822.7 1254.6L823.0 1263.1L823.4 1266.3L823.7 1256.1L824.1 1269.8L824.4 1261.8L824.8 1263.9L825.1 1292.0L825.5 1225.3L825.8 1259.1L826.2 1252.2L826.5 1277.1L826.9 1260.3L827.2 1255.9L827.6 1272.5L827.9 1286.6L828.3 1279.1L828.6 1258.5L829.0 1277.0L829.3 1258.4L829.7 1245.3L830.0 1311.3L830.4 1264.8L830.7 1268.6L831.1 1254.4L831.4 1268.8L831.8 1245.5L832.1 1271.3L832.5 1273.1L832.8 1280.2L833.2 1259.1L833.5 1261.7L833.9 1259.6L834.2 1259.2L834.6 1273.5L834.9 1265.2L835.3 1239.6L835.6 1275.8L836.0 1273.0L836.3 1267.8L836.7 1246.4L837.0 1268.3L837.4 1281.1L837.7 1259.8L838.1 1283.2L838.4 1255.4L838.8 1255.7L839.1 1263.4L839.5 1261.8L839.9 1257.9L840.2 1276.7L840.6 1276.3L840.9 1243.4L841.3 1259.3L841.6 1271.8L842.0 1243.3L842.3 1307.4L842.7 1277.1L843.0 1270.8L843.4 1256.6L843.7 1264.8L844.1 1248.3L844.4 1258.1L844.8 1257.3L845.1 1259.9L845.5 1288.0L845.8 1262.1L846.2 1267.7L846.5 1260.9L846.9 1258.8L847.2 1254.9L847.6 1242.2L847.9 1278.2L848.3 1263.8L848.6 1255.4L849.0 1267.9L849.3 1278.3L849.7 1263.3L850.0 1253.1L850.4 1266.1L850.7 1268.8L851.1 1264.8L851.4 1243.9L851.8 1265.2L852.1 1291.0L852.5 1345.9L852.8 1315.4L853.2 1259.4L853.5 1309.5L853.9 1268.4L854.2 1236.0L854.6 1269.9L854.9 1269.1L855.3 1287.2L855.6 1244.3L856.0 1263.2L856.3 1277.3L856.7 1258.1L857.0 1256.2L857.4 1303.5L857.7 1256.3L858.1 1284.5L858.4 1249.6L858.8 1269.2L859.1 1259.0L859.5 1253.9L859.8 1264.8L860.2 1248.5L860.5 1250.1L860.9 1260.5L861.2 1244.0L861.6 1264.7L861.9 1264.6L862.3 1248.7L862.6 1273.6L863.0 1255.5L863.3 1264.8L863.7 1254.6L864.0 1258.8L864.4 1265.1L864.7 1252.5L865.1 1270.2L865.4 1255.6L865.8 1252.8L866.1 1259.5L866.5 1285.3L866.8 1251.7L867.2 1263.8L867.5 1225.0L867.9 1258.0L868.2 1284.1L868.6 1268.1L868.9 1256.8L869.3 1263.1L869.6 1278.4L870.0 1260.4L870.3 1263.2L870.7 1279.4L871.0 1332.9L871.4 1264.4L871.7 1293.3L872.1 1248.9L872.4 1260.6L872.8 1258.1L873.1 1290.0L873.5 1265.3L873.8 1281.4L874.2 1267.5L874.5 1236.9L874.9 1244.3L875.2 1274.9L875.6 1243.9L875.9 1265.4L876.3 1242.7L876.6 1255.8L877.0 1254.3L877.3 1273.4L877.7 1266.8L878.0 1242.7L878.4 1242.4L878.7 1272.9L879.1 1248.8L879.4 1283.2L879.8 1231.7L880.1 1283.2L880.5 1271.3L880.8 1310.4L881.2 1273.2L881.5 1257.3L881.9 1257.6L882.2 1281.7L882.6 1242.5L882.9 1281.0L883.3 1256.4L883.7 1272.6L884.0 1264.2L884.4 1263.1L884.7 1259.4L885.1 1260.9L885.4 1241.4L885.8 1266.3L886.1 1261.6L886.5 1264.5L886.8 1265.1L887.2 1246.0L887.5 1250.4L887.9 1274.7L888.2 1265.9L888.6 1285.1L888.9 1257.3L889.3 1325.4L889.6 1268.5L890.0 1274.2L890.3 1258.4L890.7 1265.8L891.0 1261.2L891.4 1254.5L891.7 1272.7L892.1 1275.1L892.4 1279.0L892.8 1269.8L893.1 1268.6L893.5 1282.9L893.8 1234.8L894.2 1274.6L894.5 1245.5L894.9 1273.0L895.2 1261.9L895.6 1270.0L895.9 1253.3L896.3 1259.2L896.6 1271.1L897.0 1263.0L897.3 1255.7L897.7 1259.5L898.0 1261.6L898.4 1260.6L898.7 1250.9L899.1 1259.0L899.4 1263.6L899.8 1257.2L900.1 1247.6L900.5 1264.5L900.8 1270.6L901.2 1272.9L901.5 1278.9L901.9 1278.8L902.2 1235.7L902.6 1270.5L902.9 1252.5L903.3 1271.8L903.6 1270.8L904.0 1267.0L904.3 1271.4L904.7 1252.4L905.0 1266.9L905.4 1241.4L905.7 1262.5L906.1 1255.8L906.4 1276.1L906.8 1252.7L907.1 1237.1L907.5 1258.0L907.8 1334.7L908.2 1265.9L908.5 1283.4L908.9 1258.3L909.2 1272.9L909.6 1260.2L909.9 1252.0L910.3 1273.9L910.6 1252.9L911.0 1289.2L911.3 1265.5L911.7 1310.4L912.0 1245.4L912.4 1310.0L912.7 1280.0L913.1 1279.5L913.4 1279.3L913.8 1279.0L914.1 1270.7L914.5 1266.1L914.8 1259.9L915.2 1286.0L915.5 1263.7L915.9 1259.1L916.2 1240.1L916.6 1273.6L916.9 1266.1L917.3 1253.3L917.6 1261.2L918.0 1253.9L918.3 1282.3L918.7 1242.5L919.0 1280.4L919.4 1277.8L919.7 1265.3L920.1 1276.1L920.4 1257.7L920.8 1263.6L921.1 1252.5L921.5 1284.7L921.8 1279.3L922.2 1254.3L922.5 1250.1L922.9 1277.4L923.2 1268.9L923.6 1275.1L923.9 1255.2L924.3 1269.1L924.6 1258.8L925.0 1231.8L925.3 1254.5L925.7 1265.8L926.0 1242.1L926.4 1274.9L926.7 1260.8L927.1 1266.1L927.5 1260.6L927.8 1260.5L928.2 1260.8L928.5 1247.7L928.9 1244.4L929.2 1249.5L929.6 1289.4L929.9 1250.2L930.3 1293.6L930.6 1250.5L931.0 1268.1L931.3 1247.6L931.7 1248.9L932.0 1245.6L932.4 1255.4L932.7 1283.7L933.1 1261.1L933.4 1308.3L933.8 1251.1L934.1 1259.7L934.5 1266.1L934.8 1276.5L935.2 1263.1L935.5 1266.4L935.9 1260.7L936.2 1271.6L936.6 1273.9L936.9 1268.4L937.3 1274.8L937.6 1264.8L938.0 1257.5L938.3 1266.5L938.7 1251.1L939.0 1231.7L939.4 1255.8L939.7 1270.1L940.1 1273.4L940.4 1281.8L940.8 1275.8L941.1 1242.4L941.5 1284.2L941.8 1261.8L942.2 1279.7L942.5 1279.3L942.9 1276.4L943.2 1254.0L943.6 1256.4L943.9 1266.2L944.3 1270.0L944.6 1260.2L945.0 1283.3L945.3 1272.1L945.7 1271.7L946.0 1264.7L946.4 1251.1L946.7 1250.2L947.1 1282.2L947.4 1264.7L947.8 1316.0L948.1 1277.3L948.5 1241.1L948.8 1266.4L949.2 1256.1L949.5 1244.4L949.9 1269.8L950.2 1236.3L950.6 1247.5L950.9 1280.8L951.3 1288.6L951.6 1260.7L952.0 1265.1L952.3 1263.1L952.7 1270.5L953.0 1282.3L953.4 1261.1L953.7 1274.0L954.1 1254.2L954.4 1277.7L954.8 1244.1L955.1 1265.3L955.5 1267.5L955.8 1297.5L956.2 1260.5L956.5 1250.7L956.9 1257.2L957.2 1269.4L957.6 1285.0L957.9 1258.4L958.3 1298.0L958.6 1422.2L959.0 1272.2L959.3 1247.7L959.7 1257.6L960.0 1267.5L960.4 1248.9L960.7 1253.1L961.1 1279.7L961.4 1291.0L961.8 1262.4L962.1 1260.1L962.5 1288.2L962.8 1258.2L963.2 1287.6L963.5 1259.9L963.9 1250.1L964.2 1267.6L964.6 1252.5L964.9 1274.5L965.3 1278.7L965.6 1261.1L966.0 1258.8L966.3 1281.6L966.7 1266.7L967.0 1267.6L967.4 1263.0L967.7 1255.1L968.1 1255.6L968.4 1267.9L968.8 1268.7L969.1 1276.6L969.5 1285.5L969.8 1271.2L970.2 1270.2L970.5 1262.7L970.9 1258.3L971.3 1242.8L971.6 1247.0L972.0 1265.0L972.3 1280.4L972.7 1270.6L973.0 1270.8L973.4 1270.0L973.7 1260.7L974.1 1270.8L974.4 1242.6L974.8 1281.5L975.1 1264.4L975.5 1241.2L975.8 1273.7L976.2 1275.9L976.5 1259.1L976.9 1279.9L977.2 1275.0L977.6 1283.1L977.9 1253.4L978.3 1267.9L978.6 1265.0L979.0 1288.7L979.3 1280.3L979.7 1261.8L980.0 1266.2L980.4 1274.0L980.7 1309.0L981.1 1278.9L981.4 1275.8L981.8 1266.9L982.1 1251.9L982.5 1315.0L982.8 1272.5L983.2 1270.3L983.5 1265.4L983.9 1244.8L984.2 1260.6L984.6 1280.9L984.9 1262.2L985.3 1249.8L985.6 1232.9L986.0 1255.2L986.3 1267.7L986.7 1260.2L987.0 1266.7L987.4 1264.0L987.7 1276.0L988.1 1272.9L988.4 1279.6L988.8 1261.9L989.1 1268.2L989.5 1265.8L989.8 1255.6L990.2 1267.4L990.5 1263.6L990.9 1261.9"/>
<path stroke="#0072BD" d="M95.3 1251.5L95.6 1266.5L96.0 1264.0L96.3 1246.8L96.7 1243.7L97.0 1284.3L97.4 1273.2L97.7 1302.4L98.1 1259.5L98.4 1248.2L98.8 1273.9L99.1 1279.7L99.5 1259.0L99.8 1267.9L100.2 1226.4L100.5 1235.6L100.9 1289.7L101.2 1248.0L101.6 1248.4L101.9 1247.7L102.3 1265.8L102.6 1312.0L103.0 1259.3L103.3 1268.2L103.7 1228.9L104.0 1249.0L104.4 1236.8L104.7 1277.8L105.1 1259.5L105.4 1268.4L105.8 1275.0L106.1 1267.8L106.5 1287.4L106.8 1257.8L107.2 1275.8L107.5 1258.1L107.9 1253.9L108.2 1265.3L108.6 1200.7L108.9 1246.9L109.3 1465.0L109.6 1270.8L110.0 1242.8L110.3 1312.2L110.7 1261.7L111.0 1252.9L111.4 1262.1L111.7 1291.6L112.1 1261.7L112.4 1244.0L112.8 1256.1L113.1 1285.4L113.5 1260.0L113.8 1228.9L114.2 1237.6L114.5 1233.2L114.9 1265.1L115.2 1246.6L115.6 1263.7L115.9 1261.8L116.3 1279.4L116.6 1259.6L117.0 1240.9L117.3 1257.5L117.7 1293.5L118.0 1439.7L118.4 1280.2L118.7 1249.6L119.1 1275.0L119.4 1230.3L119.8 1263.1L120.1 1240.1L120.5 1313.9L120.8 1262.5L121.2 1256.9L121.5 1285.3L121.9 1270.1L122.2 1269.7L122.6 1258.1L122.9 1258.7L123.3 1290.1L123.6 1238.1L124.0 1248.5L124.3 1271.8L124.7 1242.4L125.0 1272.2L125.4 1271.6L125.7 1284.7L126.1 979.3L126.4 1256.1L126.8 1241.3L127.1 1249.9L127.5 1249.8L127.8 1225.6L128.2 1309.6L128.5 1247.6L128.9 1224.2L129.2 1263.0L129.6 1225.1L129.9 1265.7L130.3 1270.2L130.6 1293.9L131.0 1249.4L131.3 1316.6L131.7 1248.9L132.0 1255.5L132.4 1246.2L132.7 1262.2L133.1 1288.6L133.4 1254.0L133.8 1249.4L134.1 1212.3L134.5 1266.7L134.8 1256.8L135.2 1288.3L135.5 1288.5L135.9 1278.0L136.2 1234.7L136.6 1257.0L136.9 1260.8L137.3 1268.4L137.6 1255.5L138.0 1244.6L138.3 1249.1L138.7 1260.7L139.1 1256.5L139.4 1252.7L139.8 1247.6L140.1 1277.6L140.5 1264.9L140.8 1284.1L141.2 1258.4L141.5 1260.2L141.9 1262.3L142.2 1268.1L142.6 1280.1L142.9 1242.7L143.3 1271.9L143.6 1261.6L144.0 1268.2L144.3 1281.9L144.7 1249.4L145.0 1286.8L145.4 1260.6L145.7 1373.8L146.1 1259.8L146.4 1277.1L146.8 1242.3L147.1 1237.9L147.5 1248.1L147.8 1269.0L148.2 1283.7L148.5 1224.4L148.9 1295.6L149.2 1282.5L149.6 1254.7L149.9 1251.2L150.3 1306.2L150.6 1251.7L151.0 1285.5L151.3 1246.8L151.7 1252.3L152.0 1290.7L152.4 1239.7L152.7 1253.7L153.1 1303.1L153.4 1245.6L153.8 1254.9L154.1 1250.4L154.5 1264.2L154.8 1245.6L155.2 1265.8L155.5 1251.5L155.9 1243.7L156.2 1269.1L156.6 1270.6L156.9 940.0L157.3 1245.4L157.6 1252.9L158.0 1256.3L158.3 1246.5L158.7 1252.0L159.0 1277.5L159.4 1248.7L159.7 1236.1L160.1 1240.2L160.4 1287.7L160.8 1237.4L161.1 1276.5L161.5 1258.2L161.8 1261.0L162.2 1231.4L162.5 1241.8L162.9 1257.9L163.2 1249.9L163.6 1267.7L163.9 1274.9L164.3 1247.3L164.6 1245.7L165.0 1257.4L165.3 1232.9L165.7 1228.5L166.0 1265.0L166.4 1253.2L166.7 1249.3L167.1 1288.5L167.4 1238.8L167.8 1241.2L168.1 1250.4L168.5 1256.9L168.8 1262.2L169.2 1234.2L169.5 1279.2L169.9 1249.6L170.2 1257.5L170.6 1235.1L170.9 1232.9L171.3 1254.5L171.6 1256.5L172.0 1277.0L172.3 1306.8L172.7 1251.6L173.0 1250.6L173.4 1256.9L173.7 1276.6L174.1 1272.6L174.4 1302.8L174.8 1260.3L175.1 1298.0L175.5 1288.6L175.8 1274.3L176.2 1243.2L176.5 1278.5L176.9 1249.7L177.2 1229.0L177.6 1248.4L177.9 1250.6L178.3 1278.3L178.6 1265.1L179.0 1286.0L179.3 1250.4L179.7 1251.6L180.0 1265.2L180.4 1259.5L180.7 1255.2L181.1 1280.1L181.4 1293.3L181.8 1241.6L182.1 1252.4L182.5 1247.3L182.9 1258.4L183.2 1251.9L183.6 1313.2L183.9 1272.8L184.3 1260.2L184.6 1247.6L185.0 1256.3L185.3 1261.0L185.7 1273.2L186.0 1250.9L186.4 1267.4L186.7 1262.7L187.1 1251.3L187.4 1240.9L187.8 1292.3L188.1 1265.7L188.5 1246.4L188.8 1263.8L189.2 1230.3L189.5 1242.5L189.9 1257.3L190.2 1276.8L190.6 1245.5L190.9 1255.5L191.3 1283.5L191.6 1273.6L192.0 1261.6L192.3 1313.7L192.7 1292.7L193.0 1338.9L193.4 1256.3L193.7 1218.7L194.1 1254.0L194.4 1254.9L194.8 1259.4L195.1 1482.8L195.5 1247.9L195.8 1262.9L196.2 1250.2L196.5 1224.6L196.9 1265.0L197.2 1247.7L197.6 1225.2L197.9 1271.8L198.3 1258.8L198.6 1269.7L199.0 1243.7L199.3 1239.1L199.7 1250.5L200.0 1258.8L200.4 1259.7L200.7 1346.1L201.1 1237.3L201.4 1250.7L201.8 1230.4L202.1 1220.9L202.5 1263.2L202.8 1225.5L203.2 1232.0L203.5 1258.3L203.9 1301.2L204.2 1280.7L204.6 1243.3L204.9 1292.7L205.3 1232.7L205.6 1274.1L206.0 1253.3L206.3 1270.5L206.7 1266.2L207.0 1254.0L207.4 1281.7L207.7 1263.4L208.1 1268.9L208.4 1244.1L208.8 1278.1L209.1 1217.3L209.5 1224.0L209.8 1283.3L210.2 1284.4L210.5 1269.5L210.9 1252.3L211.2 1347.6L211.6 1246.3L211.9 1243.0L212.3 1260.4L212.6 1281.6L213.0 1277.1L213.3 1266.7L213.7 1274.7L214.0 1213.6L214.4 1268.2L214.7 1235.6L215.1 1245.0L215.4 1275.8L215.8 1286.3L216.1 1266.1L216.5 1253.9L216.8 1266.4L217.2 1238.9L217.5 1272.4L217.9 1272.5L218.2 1254.2L218.6 1224.9L218.9 1295.2L219.3 1222.5L219.6 1268.9L220.0 1237.0L220.3 1249.6L220.7 1208.1L221.0 1266.9L221.4 1253.9L221.7 1276.4L222.1 1282.5L222.4 1242.4L222.8 1246.7L223.1 1278.1L223.5 1236.6L223.8 1259.4L224.2 1256.7L224.5 1236.6L224.9 1239.7L225.2 1232.6L225.6 1223.9L225.9 1248.8L226.3 1261.6L226.7 1224.1L227.0 1218.9L227.4 1287.0L227.7 1273.8L228.1 1272.5L228.4 1287.5L228.8 1226.6L229.1 1261.7L229.5 1260.2L229.8 1249.7L230.2 1241.8L230.5 1255.6L230.9 1246.6L231.2 1285.6L231.6 1252.8L231.9 1273.2L232.3 1255.7L232.6 1227.6L233.0 1247.0L233.3 1256.8L233.7 1227.5L234.0 1218.3L234.4 1243.1L234.7 1270.5L235.1 1224.2L235.4 1266.7L235.8 1275.2L236.1 1245.6L236.5 1271.4L236.8 1270.0L237.2 1299.9L237.5 1280.6L237.9 1245.8L238.2 1328.8L238.6 1248.5L238.9 1243.8L239.3 1246.5L239.6 1262.3L240.0 1285.5L240.3 1262.1L240.7 1248.8L241.0 1234.9L241.4 1259.3L241.7 1299.4L242.1 1276.3L242.4 1283.5L242.8 1248.8L243.1 1254.4L243.5 1282.0L243.8 1266.9L244.2 1299.4L244.5 1268.4L244.9 1241.8L245.2 1283.0L245.6 1280.6L245.9 1291.9L246.3 1271.8L246.6 1256.7L247.0 1311.9L247.3 1269.9L247.7 1283.6L248.0 1218.5L248.4 1270.5L248.7 1255.8L249.1 1298.8L249.4 1244.0L249.8 1289.9L250.1 1270.5L250.5 1233.7L250.8 1264.2L251.2 1269.4L251.5 1234.0L251.9 1270.1L252.2 1249.8L252.6 1273.3L252.9 1281.8L253.3 1232.0L253.6 1254.2L254.0 1241.4L254.3 1242.8L254.7 1259.2L255.0 1251.7L255.4 1270.0L255.7 1279.6L256.1 1254.0L256.4 1301.7L256.8 1262.7L257.1 1280.7L257.5 1261.3L257.8 1282.1L258.2 1235.8L258.5 1248.3L258.9 1273.4L259.2 1280.1L259.6 1297.4L259.9 1287.8L260.3 1249.6L260.6 1263.8L261.0 1261.0L261.3 1246.1L261.7 1256.0L262.0 1230.3L262.4 1268.9L262.7 1287.8L263.1 1273.1L263.4 1258.6L263.8 1250.1L264.1 1271.6L264.5 1240.2L264.8 1286.6L265.2 1256.1L265.5 1278.1L265.9 1267.6L266.2 1270.5L266.6 1240.8L266.9 1231.1L267.3 1299.2L267.6 1266.2L268.0 1254.0L268.3 1275.2L268.7 1261.8L269.0 1290.0L269.4 1245.4L269.7 1273.5L270.1 1245.1L270.5 1262.8L270.8 1258.3L271.2 1271.1L271.5 1261.4L271.9 1257.8L272.2 1212.1L272.6 1241.5L272.9 1251.7L273.3 1256.2L273.6 1343.3L274.0 1238.2L274.3 1280.6L274.7 1272.7L275.0 1242.2L275.4 1270.0L275.7 1276.8L276.1 1346.7L276.4 1277.7L276.8 1264.8L277.1 1283.7L277.5 1255.1L277.8 1238.4L278.2 989.4L278.5 1234.7L278.9 1247.9L279.2 1277.6L279.6 1237.2L279.9 1258.5L280.3 1246.6L280.6 1280.9L281.0 1247.0L281.3 1279.7L281.7 1208.0L282.0 1288.5L282.4 1279.6L282.7 1231.6L283.1 1252.5L283.4 1274.7L283.8 1236.0L284.1 1292.9L284.5 1258.8L284.8 1279.4L285.2 1247.6L285.5 1243.5L285.9 1262.7L286.2 1264.0L286.6 1268.7L286.9 1240.8L287.3 1253.7L287.6 1225.8L288.0 1252.4L288.3 1254.9L288.7 1274.8L289.0 1275.3L289.4 1264.2L289.7 1270.7L290.1 1240.4L290.4 1247.3L290.8 1266.9L291.1 1263.9L291.5 1239.3L291.8 1242.0L292.2 1242.4L292.5 1294.3L292.9 1253.6L293.2 1280.3L293.6 1218.1L293.9 1267.1L294.3 1256.3L294.6 1261.0L295.0 1271.2L295.3 1246.8L295.7 1266.2L296.0 1254.5L296.4 1247.5L296.7 1256.1L297.1 1263.3L297.4 1244.6L297.8 1256.6L298.1 1279.8L298.5 1299.9L298.8 1281.3L299.2 1257.1L299.5 1235.2L299.9 1271.8L300.2 1264.2L300.6 1280.7L300.9 1273.9L301.3 1226.5L301.6 1317.1L302.0 1259.1L302.3 1219.4L302.7 1267.7L303.0 1274.8L303.4 1258.4L303.7 1252.6L304.1 1263.1L304.4 1259.7L304.8 1238.5L305.1 1275.4L305.5 1238.1L305.8 1270.0L306.2 1242.0L306.5 1237.3L306.9 1283.6L307.2 1266.9L307.6 1492.9L307.9 1282.2L308.3 1275.7L308.6 1288.2L309.0 1259.2L309.3 1266.5L309.7 1241.4L310.0 1269.3L310.4 1234.3L310.7 1261.6L311.1 1219.7L311.4 1265.1L311.8 1265.7L312.1 1277.0L312.5 1236.8L312.8 1266.6L313.2 1240.6L313.5 1265.9L313.9 1283.4L314.3 1232.8L314.6 1236.3L315.0 1265.9L315.3 1241.4L315.7 1319.4L316.0 1245.0L316.4 1264.7L316.7 1253.5L317.1 1263.2L317.4 1255.1L317.8 1262.4L318.1 1267.5L318.5 1260.2L318.8 1254.1L319.2 1242.1L319.5 1300.2L319.9 1268.5L320.2 1260.6L320.6 1263.2L320.9 1225.2L321.3 1279.1L321.6 1254.0L322.0 1299.3L322.3 1248.4L322.7 1267.0L323.0 1257.0L323.4 1267.6L323.7 1243.3L324.1 1236.7L324.4 1250.2L324.8 1243.3L325.1 1253.6L325.5 1307.5L325.8 1274.6L326.2 1252.9L326.5 1264.3L326.9 1280.8L327.2 1289.1L327.6 1299.0L327.9 1231.2L328.3 1271.3L328.6 1239.1L329.0 1268.9L329.3 1245.1L329.7 1254.4L330.0 1269.8L330.4 1267.3L330.7 1266.8L331.1 1248.7L331.4 1288.8L331.8 1278.6L332.1 1266.7L332.5 1233.1L332.8 1275.8L333.2 1252.6L333.5 1255.2L333.9 1237.4L334.2 1242.2L334.6 1288.1L334.9 1230.9L335.3 1264.0L335.6 1273.7L336.0 1295.8L336.3 1233.7L336.7 1256.2L337.0 1256.1L337.4 1264.4L337.7 1238.9L338.1 1303.8L338.4 1264.4L338.8 1274.2L339.1 1305.2L339.5 1234.6L339.8 1275.8L340.2 1262.7L340.5 1280.2L340.9 1246.9L341.2 1261.0L341.6 1254.3L341.9 1230.0L342.3 1296.7L342.6 1291.1L343.0 1271.0L343.3 1260.1L343.7 1273.8L344.0 1249.2L344.4 1260.6L344.7 1282.9L345.1 1265.0L345.4 1276.5L345.8 1282.0L346.1 1263.2L346.5 1265.1L346.8 1478.0L347.2 1285.9L347.5 1289.9L347.9 1248.4L348.2 1291.9L348.6 1262.6L348.9 1264.0L349.3 1288.1L349.6 1282.8L350.0 1254.5L350.3 1258.0L350.7 1264.3L351.0 1245.2L351.4 1232.2L351.7 1263.0L352.1 1247.5L352.4 1240.6L352.8 1262.0L353.1 1263.4L353.5 1281.5L353.8 1281.7L354.2 1252.0L354.5 1257.9L354.9 1303.1L355.2 1239.4L355.6 1291.5L355.9 1246.3L356.3 1237.4L356.6 1261.4L357.0 1280.1L357.3 1280.4L357.7 1243.5L358.1 1262.3L358.4 1245.1L358.8 1273.5L359.1 1305.7L359.5 1204.6L359.8 1321.3L360.2 1243.3L360.5 1236.4L360.9 1258.3L361.2 1252.5L361.6 1250.2L361.9 1222.5L362.3 1257.8L362.6 1245.5L363.0 1222.6L363.3 1276.1L363.7 1280.5L364.0 1253.2L364.4 1259.7L364.7 1235.0L365.1 1237.7L365.4 1284.3L365.8 1240.5L366.1 1267.5L366.5 1204.1L366.8 1230.8L367.2 1256.2L367.5 1204.8L367.9 1250.4L368.2 1236.9L368.6 1269.8L368.9 1274.7L369.3 1221.4L369.6 1261.0L370.0 1271.8L370.3 1268.1L370.7 1238.2L371.0 1262.8L371.4 1271.7L371.7 1302.6L372.1 1297.3L372.4 1250.8L372.8 1264.6L373.1 1267.0L373.5 1215.3L373.8 1243.3L374.2 1264.8L374.5 1245.1L374.9 1273.4L375.2 1243.4L375.6 1225.6L375.9 1259.3L376.3 1231.3L376.6 1263.6L377.0 1280.2L377.3 1261.2L377.7 1259.5L378.0 1240.3L378.4 1253.9L378.7 1269.1L379.1 1264.3L379.4 1257.0L379.8 1247.5L380.1 1275.9L380.5 1269.0L380.8 1258.9L381.2 1275.3L381.5 1236.9L381.9 1277.0L382.2 1278.5L382.6 1272.8L382.9 1498.5L383.3 1266.7L383.6 1276.3L384.0 1245.2L384.3 1236.8L384.7 1289.5L385.0 1253.5L385.4 1224.1L385.7 1215.7L386.1 1237.0L386.4 1244.9L386.8 1280.8L387.1 1243.2L387.5 1267.7L387.8 1264.0L388.2 1244.2L388.5 1271.3L388.9 1265.4L389.2 1220.7L389.6 1334.7L389.9 1289.3L390.3 1272.3L390.6 1280.9L391.0 1252.9L391.3 1279.2L391.7 1260.6L392.0 1257.2L392.4 1248.6L392.7 1255.3L393.1 1253.4L393.4 1258.5L393.8 1274.7L394.1 1240.9L394.5 1257.1L394.8 1305.9L395.2 1282.2L395.5 1255.4L395.9 1239.1L396.2 1254.0L396.6 1282.3L396.9 1266.7L397.3 1278.2L397.6 1265.4L398.0 1243.5L398.3 1256.0L398.7 1260.7L399.0 1270.0L399.4 1268.0L399.7 1256.9L400.1 1297.7L400.4 1268.7L400.8 1299.4L401.1 1240.4L401.5 1281.4L401.9 1242.9L402.2 1291.0L402.6 1227.2L402.9 1245.4L403.3 1256.0L403.6 1266.6L404.0 1265.9L404.3 1300.2L404.7 1241.4L405.0 1248.1L405.4 1241.2L405.7 1268.4L406.1 1264.5L406.4 1291.2L406.8 1297.6L407.1 1256.6L407.5 1280.2L407.8 1257.5L408.2 1263.1L408.5 1265.7L408.9 1261.2L409.2 1298.8L409.6 1266.2L409.9 1255.4L410.3 1262.0L410.6 1255.6L411.0 1300.7L411.3 1247.5L411.7 1250.8L412.0 1250.9L412.4 1256.9L412.7 1266.3L413.1 1244.2L413.4 1283.9L413.8 1262.7L414.1 1252.1L414.5 1284.3L414.8 1250.9L415.2 1283.4L415.5 1269.1L415.9 1272.5L416.2 1256.9L416.6 1281.3L416.9 1239.3L417.3 1270.3L417.6 1274.5L418.0 1253.4L418.3 1261.3L418.7 1288.9L419.0 1264.0L419.4 1245.9L419.7 1235.4L420.1 1243.5L420.4 1261.1L420.8 1220.7L421.1 1262.1L421.5 1289.9L421.8 1225.5L422.2 1234.3L422.5 1242.6L422.9 1345.0L423.2 1242.3L423.6 1258.4L423.9 1251.0L424.3 1272.7L424.6 1250.1L425.0 1272.1L425.3 1274.0L425.7 1284.7L426.0 1259.4L426.4 1248.3L426.7 1267.5L427.1 1289.1L427.4 1275.6L427.8 1262.0L428.1 1282.5L428.5 1269.2L428.8 1279.6L429.2 1233.0L429.5 1258.5L429.9 1253.8L430.2 1308.4L430.6 1277.0L430.9 1239.6L431.3 1289.4L431.6 1262.6L432.0 1269.1L432.3 1278.3L432.7 1257.9L433.0 1273.7L433.4 1259.6L433.7 1108.4L434.1 1233.6L434.4 1281.1L434.8 1236.4L435.1 1233.1L435.5 1266.2L435.8 1255.7L436.2 1241.4L436.5 1274.8L436.9 1233.7L437.2 1282.5L437.6 1250.5L437.9 1257.8L438.3 1272.8L438.6 1270.7L439.0 1338.1L439.3 1265.7L439.7 1263.7L440.0 1266.1L440.4 1247.5L440.7 1255.7L441.1 1257.7L441.4 1254.6L441.8 1254.2L442.1 1238.4L442.5 1258.0L442.8 1255.9L443.2 1269.2L443.5 1280.4L443.9 1270.9L444.2 1262.7L444.6 1280.0L444.9 1242.1L445.3 1275.2L445.7 1257.3L446.0 1270.7L446.4 1256.3L446.7 1246.8L447.1 1236.5L447.4 1280.1L447.8 1243.3L448.1 1284.2L448.5 1237.2L448.8 1282.9L449.2 1270.7L449.5 1262.6L449.9 1263.5L450.2 1259.1L450.6 1244.4L450.9 1285.5L451.3 1248.4L451.6 1262.3L452.0 1264.8L452.3 1259.2L452.7 1260.4L453.0 1267.1L453.4 1266.5L453.7 1290.2L454.1 1286.4L454.4 1438.2L454.8 1270.0L455.1 1281.6L455.5 1228.6L455.8 1277.8L456.2 1255.4L456.5 1247.3L456.9 1274.4L457.2 1252.2L457.6 1262.4L457.9 1276.0L458.3 1208.0L458.6 1242.7L459.0 1214.5L459.3 1241.1L459.7 1276.8L460.0 1241.4L460.4 1286.6L460.7 1265.4L461.1 1299.4L461.4 1247.1L461.8 1258.4L462.1 1228.3L462.5 1242.6L462.8 1265.1L463.2 1278.8L463.5 1244.8L463.9 1272.9L464.2 1270.6L464.6 1258.3L464.9 1295.7L465.3 1295.5L465.6 1281.7L466.0 1263.9L466.3 1269.3L466.7 1220.5L467.0 1256.0L467.4 1238.6L467.7 1254.6L468.1 1259.5L468.4 1267.3L468.8 1284.8L469.1 1259.1L469.5 1267.8L469.8 1246.1L470.2 1272.1L470.5 1282.5L470.9 1258.0L471.2 1287.0L471.6 1273.2L471.9 1274.2L472.3 1264.2L472.6 1264.5L473.0 1257.0L473.3 1255.2L473.7 1448.2L474.0 1260.4L474.4 1271.3L474.7 1241.4L475.1 1251.4L475.4 1261.1L475.8 1232.1L476.1 1287.5L476.5 1252.2L476.8 1273.3L477.2 1252.1L477.5 1252.4L477.9 1252.5L478.2 1246.1L478.6 1269.1L478.9 1267.3L479.3 1241.9L479.6 1258.3L480.0 1265.1L480.3 1276.2L480.7 1258.9L481.0 1212.0L481.4 1230.2L481.7 1209.0L482.1 1246.5L482.4 1272.4L482.8 1238.2L483.1 1286.7L483.5 1245.8L483.8 1260.2L484.2 1239.5L484.5 1268.5L484.9 1253.6L485.2 1237.1L485.6 1261.2L485.9 1440.8L486.3 1262.7L486.6 1259.0L487.0 1228.8L487.3 1263.2L487.7 1256.7L488.0 1269.5L488.4 1273.2L488.7 1263.5L489.1 1250.6L489.5 1277.1L489.8 1267.0L490.2 1257.5L490.5 1240.5L490.9 1245.4L491.2 1248.9L491.6 1279.2L491.9 1218.1L492.3 1267.1L492.6 1265.7L493.0 1264.0L493.3 1234.3L493.7 1253.1L494.0 1245.8L494.4 1259.8L494.7 1264.1L495.1 1253.8L495.4 1247.3L495.8 1242.8L496.1 1243.2L496.5 1241.2L496.8 1296.3L497.2 1255.0L497.5 1248.8L497.9 1362.6L498.2 1268.5L498.6 1282.8L498.9 1287.8L499.3 1274.6L499.6 1288.1L500.0 1340.7L500.3 1238.4L500.7 1294.2L501.0 1272.0L501.4 1270.2L501.7 1279.2L502.1 1236.6L502.4 1278.0L502.8 1240.9L503.1 1265.4L503.5 1285.4L503.8 1266.1L504.2 1267.6L504.5 1287.4L504.9 1275.9L505.2 1266.7L505.6 1259.3L505.9 1316.7L506.3 1243.6L506.6 1248.7L507.0 1251.3L507.3 1200.7L507.7 1295.9L508.0 1255.1L508.4 1243.4L508.7 1298.8L509.1 1244.0L509.4 1265.5L509.8 1286.1L510.1 1260.4L510.5 1245.0L510.8 1281.2L511.2 1259.6L511.5 1190.3L511.9 1208.6L512.2 1286.3L512.6 1254.8L512.9 1286.2L513.3 1227.4L513.6 1251.8L514.0 1251.0L514.3 1242.0L514.7 1259.7L515.0 1239.0L515.4 1220.9L515.7 1215.4L516.1 1304.2L516.4 1254.1L516.8 1238.8L517.1 1265.4L517.5 1228.6L517.8 1257.8L518.2 1247.1L518.5 1311.8L518.9 1281.5L519.2 1291.8L519.6 1245.0L519.9 1247.6L520.3 1227.6L520.6 1253.2L521.0 1247.0L521.3 1285.2L521.7 1229.3L522.0 1263.2L522.4 1253.5L522.7 1220.4L523.1 1284.5L523.4 1251.3L523.8 1290.0L524.1 1253.0L524.5 1249.9L524.8 1242.9L525.2 1290.2L525.5 1258.9L525.9 1277.1L526.2 1259.3L526.6 1287.7L526.9 1248.5L527.3 1252.2L527.6 1228.4L528.0 1295.8L528.3 1347.8L528.7 1265.0L529.0 1263.4L529.4 1298.0L529.7 1284.3L530.1 1272.0L530.4 1249.7L530.8 1253.0L531.1 1262.4L531.5 1227.4L531.8 1257.2L532.2 1248.0L532.5 1255.9L532.9 1244.2L533.3 1256.9L533.6 1226.1L534.0 1285.4L534.3 1264.6L534.7 1262.6L535.0 1210.0L535.4 1273.4L535.7 1294.5L536.1 1264.9L536.4 1232.3L536.8 1269.7L537.1 1248.7L537.5 1247.4L537.8 1256.8L538.2 1268.5L538.5 1262.1L538.9 1230.5L539.2 1251.6L539.6 1256.1L539.9 1264.4L540.3 1257.5L540.6 1233.6L541.0 1492.9L541.3 1254.2L541.7 1254.3L542.0 1232.3L542.4 1480.0L542.7 1248.3L543.1 1274.3L543.4 1305.1L543.8 1284.3L544.1 1265.5L544.5 1253.4L544.8 1265.4L545.2 1273.6L545.5 1239.6L545.9 1262.4L546.2 1292.5L546.6 1280.9L546.9 1246.6L547.3 1268.6L547.6 1251.2L548.0 1253.6L548.3 1256.3L548.7 1259.5L549.0 1254.3L549.4 1281.6L549.7 1253.9L550.1 1267.5L550.4 1269.9L550.8 1260.4L551.1 1266.7L551.5 1257.6L551.8 1270.8L552.2 1217.9L552.5 1289.1L552.9 1256.9L553.2 1295.7L553.6 1285.5L553.9 1254.0L554.3 1232.8L554.6 1269.1L555.0 1233.6L555.3 1336.4L555.7 1257.2L556.0 1279.2L556.4 1286.9L556.7 1276.1L557.1 1276.8L557.4 1254.3L557.8 1227.3L558.1 1244.6L558.5 1228.5L558.8 1263.2L559.2 1272.1L559.5 1231.4L559.9 1230.9L560.2 1307.9L560.6 1261.3L560.9 1246.8L561.3 1258.8L561.6 1310.9L562.0 1435.2L562.3 1292.0L562.7 1211.9L563.0 1249.5L563.4 1280.0L563.7 1238.0L564.1 1232.2L564.4 1233.5L564.8 1254.9L565.1 1290.2L565.5 1275.4L565.8 1224.5L566.2 1268.1L566.5 1275.4L566.9 1297.3L567.2 1291.3L567.6 1268.7L567.9 1254.7L568.3 1271.8L568.6 1225.5L569.0 1278.5L569.3 1236.4L569.7 1250.7L570.0 1225.8L570.4 1251.5L570.7 1339.2L571.1 1284.3L571.4 1287.2L571.8 1277.3L572.1 1234.9L572.5 1292.4L572.8 1244.5L573.2 1266.8L573.5 1250.3L573.9 1242.0L574.2 1298.3L574.6 1271.4L574.9 1251.3L575.3 1257.9L575.6 1285.8L576.0 1269.9L576.3 1262.2L576.7 1268.2L577.1 1249.2L577.4 1243.3L577.8 1249.4L578.1 1285.0L578.5 1278.5L578.8 1246.6L579.2 1240.4L579.5 1289.0L579.9 1270.2L580.2 1302.6L580.6 1238.4L580.9 1280.9L581.3 1269.0L581.6 1246.0L582.0 1251.2L582.3 1233.8L582.7 1275.7L583.0 1255.9L583.4 1277.8L583.7 1259.2L584.1 1268.5L584.4 1285.9L584.8 1277.8L585.1 1248.9L585.5 1273.0L585.8 1260.2L586.2 1325.8L586.5 1252.8L586.9 1302.7L587.2 1267.7L587.6 1258.5L587.9 1220.3L588.3 1254.2L588.6 1275.0L589.0 1268.1L589.3 1253.4L589.7 1252.4L590.0 1265.3L590.4 1243.0L590.7 1247.2L591.1 1273.5L591.4 1256.1L591.8 1249.9L592.1 1282.2L592.5 1274.9L592.8 1255.4L593.2 1263.6L593.5 1244.7L593.9 1248.0L594.2 1313.9L594.6 1240.0L594.9 1298.2L595.3 1245.2L595.6 1207.0L596.0 1206.0L596.3 1288.4L596.7 1241.1L597.0 1270.2L597.4 1270.9L597.7 1251.9L598.1 1281.4L598.4 1301.7L598.8 1251.5L599.1 1263.9L599.5 1274.7L599.8 1253.2L600.2 1278.1L600.5 1273.8L600.9 1245.4L601.2 1281.4L601.6 1254.7L601.9 1265.4L602.3 1259.4L602.6 1249.3L603.0 1273.3L603.3 1268.3L603.7 1228.5L604.0 1243.9L604.4 1243.9L604.7 1244.6L605.1 1253.5L605.4 1284.9L605.8 1265.9L606.1 1262.2L606.5 1277.2L606.8 1298.3L607.2 1230.2L607.5 1270.5L607.9 1244.0L608.2 1299.8L608.6 1251.4L608.9 1398.0L609.3 1236.3L609.6 1273.1L610.0 1234.2L610.3 1234.6L610.7 1278.4L611.0 1275.9L611.4 1271.4L611.7 1259.0L612.1 1253.2L612.4 1280.8L612.8 1266.9L613.1 1260.6L613.5 1247.9L613.8 1274.7L614.2 1252.8L614.5 1248.7L614.9 1239.2L615.2 1272.6L615.6 1233.1L615.9 1228.7L616.3 1250.8L616.6 1257.4L617.0 1246.7L617.3 1269.0L617.7 1259.1L618.0 1237.9L618.4 1264.0L618.7 1262.9L619.1 1260.9L619.4 1254.7L619.8 1235.9L620.1 1236.6L620.5 1302.9L620.9 1257.3L621.2 1259.9L621.6 1239.0L621.9 1233.1L622.3 1265.2L622.6 1269.2L623.0 1300.8L623.3 1245.3L623.7 1248.2L624.0 1266.0L624.4 1285.2L624.7 1260.0L625.1 1275.6L625.4 1274.1L625.8 1262.3L626.1 1289.7L626.5 1274.4L626.8 1313.3L627.2 1254.4L627.5 1223.6L627.9 1315.4L628.2 1249.6L628.6 1260.3L628.9 1269.2L629.3 1243.1L629.6 1286.6L630.0 1253.6L630.3 1296.1L630.7 1263.8L631.0 1293.4L631.4 1263.9L631.7 1250.8L632.1 1259.4L632.4 1295.5L632.8 1239.5L633.1 1253.0L633.5 1254.0L633.8 1291.5L634.2 1270.7L634.5 1239.6L634.9 1252.5L635.2 1266.6L635.6 1261.3L635.9 1242.3L636.3 1214.2L636.6 1271.0L637.0 1315.2L637.3 1253.8L637.7 1277.1L638.0 1265.5L638.4 1277.3L638.7 1249.8L639.1 1257.5L639.4 1275.9L639.8 1266.5L640.1 1274.1L640.5 1268.4L640.8 1263.1L641.2 1255.9L641.5 1286.1L641.9 1236.4L642.2 1280.3L642.6 1250.5L642.9 1211.2L643.3 1262.5L643.6 1233.5L644.0 1253.6L644.3 1268.5L644.7 1233.7L645.0 1287.7L645.4 1247.3L645.7 1263.7L646.1 1244.1L646.4 1259.4L646.8 1249.9L647.1 1259.5L647.5 1239.1L647.8 1280.6L648.2 1241.5L648.5 1237.7L648.9 1270.1L649.2 1254.4L649.6 1249.5L649.9 1234.4L650.3 1254.6L650.6 1261.5L651.0 1263.9L651.3 1274.0L651.7 1287.5L652.0 1234.8L652.4 1238.3L652.7 1244.0L653.1 1264.4L653.4 1241.1L653.8 1235.5L654.1 1258.7L654.5 1250.7L654.8 1279.5L655.2 1253.1L655.5 1228.7L655.9 1238.2L656.2 1239.7L656.6 1246.9L656.9 1266.2L657.3 1276.1L657.6 1270.6L658.0 1259.7L658.3 1263.5L658.7 1244.8L659.0 1281.6L659.4 1246.1L659.7 1284.1L660.1 1260.6L660.4 1261.3L660.8 1242.5L661.1 1264.5L661.5 1261.4L661.8 1253.3L662.2 1275.0L662.5 1237.1L662.9 1264.2L663.2 1258.5L663.6 1276.6L663.9 1254.8L664.3 1279.5L664.7 1239.8L665.0 1245.9L665.4 1263.1L665.7 1229.0L666.1 1266.9L666.4 1231.8L666.8 1238.0L667.1 1255.2L667.5 1262.2L667.8 1245.0L668.2 1291.9L668.5 1282.1L668.9 1236.1L669.2 1269.7L669.6 1248.4L669.9 1244.1L670.3 1272.6L670.6 1240.0L671.0 1281.2L671.3 1259.6L671.7 1261.3L672.0 1293.9L672.4 1273.8L672.7 1284.0L673.1 1279.0L673.4 1246.0L673.8 1280.8L674.1 1256.5L674.5 1269.0L674.8 1269.3L675.2 1276.7L675.5 1464.2L675.9 1260.3L676.2 1276.1L676.6 1274.2L676.9 1244.7L677.3 1284.0L677.6 1249.1L678.0 1271.5L678.3 1283.2L678.7 1215.4L679.0 1271.5L679.4 1375.7L679.7 1247.0L680.1 1260.5L680.4 1267.9L680.8 1267.4L681.1 1238.4L681.5 1271.5L681.8 1249.1L682.2 1283.1L682.5 1265.4L682.9 1268.1L683.2 1280.7L683.6 1245.8L683.9 1242.0L684.3 1249.0L684.6 1275.4L685.0 1270.9L685.3 1273.7L685.7 1246.4L686.0 1268.2L686.4 1270.4L686.7 1256.4L687.1 1255.9L687.4 1259.2L687.8 1262.8L688.1 1276.4L688.5 1233.0L688.8 1270.3L689.2 1277.3L689.5 1237.9L689.9 1278.9L690.2 1260.0L690.6 1278.2L690.9 1234.0L691.3 1251.8L691.6 1235.4L692.0 1261.6L692.3 1284.5L692.7 1226.6L693.0 1330.0L693.4 1260.6L693.7 1253.7L694.1 1265.8L694.4 1288.9L694.8 1303.9L695.1 1282.7L695.5 1258.4L695.8 1260.9L696.2 1245.9L696.5 1227.7L696.9 1244.8L697.2 1264.0L697.6 1271.3L697.9 1262.7L698.3 1307.7L698.6 1294.8L699.0 1320.6L699.3 1231.1L699.7 1299.0L700.0 1261.6L700.4 1234.5L700.7 1261.9L701.1 1298.3L701.4 1259.5L701.8 1263.2L702.1 1253.5L702.5 1275.3L702.8 1281.0L703.2 1275.1L703.5 1261.1L703.9 1275.6L704.2 1252.9L704.6 1246.8L704.9 1239.2L705.3 1234.0L705.6 1285.6L706.0 1255.3L706.3 1298.2L706.7 1258.2L707.0 1208.6L707.4 1254.2L707.7 1255.1L708.1 1274.0L708.5 1266.9L708.8 1249.2L709.2 1243.8L709.5 1252.4L709.9 1217.1L710.2 1289.5L710.6 1244.3L710.9 1294.2L711.3 1239.5L711.6 1258.2L712.0 1276.6L712.3 1262.1L712.7 1273.4L713.0 1253.2L713.4 1288.8L713.7 1244.5L714.1 1246.7L714.4 1290.9L714.8 1257.7L715.1 1239.4L715.5 1231.2L715.8 1252.7L716.2 1250.9L716.5 1294.6L716.9 1276.1L717.2 1257.9L717.6 1268.1L717.9 1281.6L718.3 1283.1L718.6 1232.5L719.0 1236.5L719.3 1295.7L719.7 1256.0L720.0 1274.2L720.4 1247.0L720.7 1266.5L721.1 1257.8L721.4 1253.5L721.8 1270.0L722.1 1285.5L722.5 1290.2L722.8 1249.1L723.2 1272.3L723.5 1266.0L723.9 1246.1L724.2 1256.0L724.6 1238.9L724.9 1278.8L725.3 1231.9L725.6 1252.4L726.0 1246.2L726.3 1212.7L726.7 1246.1L727.0 1260.0L727.4 1249.2L727.7 1252.7L728.1 1268.4L728.4 1264.2L728.8 1244.9L729.1 1230.8L729.5 1275.7L729.8 1257.1L730.2 1260.5L730.5 1243.8L730.9 1262.7L731.2 1229.8L731.6 1249.2L731.9 1265.2L732.3 1263.7L732.6 1255.8L733.0 1239.0L733.3 1245.9L733.7 1228.4L734.0 1262.1L734.4 1258.4L734.7 1246.4L735.1 1207.9L735.4 1361.5L735.8 1235.7L736.1 1231.4L736.5 1286.2L736.8 1263.3L737.2 1250.7L737.5 1257.3L737.9 1241.5L738.2 1243.9L738.6 1310.3L738.9 1275.9L739.3 1272.0L739.6 1322.3L740.0 1296.9L740.3 1259.0L740.7 1266.6L741.0 1288.5L741.4 1270.6L741.7 1325.4L742.1 1269.3L742.4 1235.4L742.8 1270.6L743.1 1302.3L743.5 1244.0L743.8 1236.3L744.2 1228.6L744.5 1246.9L744.9 1255.5L745.2 1230.6L745.6 1245.8L745.9 1260.0L746.3 1300.1L746.6 1271.7L747.0 1250.4L747.3 1284.5L747.7 1256.3L748.0 1217.2L748.4 1272.2L748.7 1267.0L749.1 1262.2L749.4 1248.7L749.8 1289.0L750.1 1276.0L750.5 1267.4L750.8 1270.4L751.2 1287.0L751.5 1241.1L751.9 1248.2L752.3 1205.2L752.6 1252.5L753.0 1278.4L753.3 1282.2L753.7 1273.9L754.0 1293.0L754.4 1271.9L754.7 1248.5L755.1 1259.6L755.4 1264.9L755.8 1272.4L756.1 1231.0L756.5 1256.3L756.8 1244.5L757.2 1193.7L757.5 1269.4L757.9 1275.2L758.2 1241.3L758.6 1267.9L758.9 1255.0L759.3 1265.9L759.6 1269.6L760.0 1234.4L760.3 1264.4L760.7 1296.0L761.0 1230.8L761.4 1250.4L761.7 1273.0L762.1 1265.9L762.4 1247.6L762.8 1266.0L763.1 1254.3L763.5 1235.9L763.8 1269.4L764.2 1248.4L764.5 1251.8L764.9 1255.6L765.2 1281.7L765.6 1236.1L765.9 1272.0L766.3 1257.0L766.6 1289.3L767.0 1260.9L767.3 1253.3L767.7 1275.2L768.0 1271.7L768.4 1225.0L768.7 1240.0L769.1 1271.2L769.4 1256.3L769.8 1257.7L770.1 1242.4L770.5 1329.0L770.8 1249.8L771.2 1248.0L771.5 1259.6L771.9 1266.4L772.2 1225.6L772.6 1263.1L772.9 1238.3L773.3 1303.9L773.6 1269.8L774.0 1252.6L774.3 1286.8L774.7 1270.3L775.0 1250.4L775.4 1285.9L775.7 1271.7L776.1 1260.5L776.4 1252.6L776.8 1238.5L777.1 1242.5L777.5 1258.4L777.8 1295.0L778.2 1255.4L778.5 1280.2L778.9 1265.7L779.2 1256.3L779.6 1278.8L779.9 1245.2L780.3 1258.8L780.6 1283.3L781.0 1261.6L781.3 1248.9L781.7 1260.0L782.0 1263.6L782.4 1243.6L782.7 1258.9L783.1 1268.3L783.4 1258.9L783.8 1263.2L784.1 1269.6L784.5 1267.2L784.8 1299.2L785.2 1249.2L785.5 1258.5L785.9 1280.3L786.2 1258.7L786.6 1248.0L786.9 1245.3L787.3 1279.0L787.6 1248.8L788.0 1249.0L788.3 1249.0L788.7 1232.5L789.0 1311.3L789.4 1271.7L789.7 1274.9L790.1 1231.1L790.4 1258.7L790.8 1236.7L791.1 1262.1L791.5 1257.5L791.8 1267.0L792.2 1244.9L792.5 1270.1L792.9 1258.0L793.2 1244.7L793.6 1263.8L793.9 1286.2L794.3 1286.2L794.6 1272.5L795.0 1228.4L795.3 1270.8L795.7 1252.1L796.1 1241.3L796.4 1268.7L796.8 1253.6L797.1 1269.9L797.5 1253.1L797.8 1246.9L798.2 1278.5L798.5 1255.2L798.9 1266.6L799.2 1247.0L799.6 1239.0L799.9 1258.1L800.3 1274.6L800.6 1274.3L801.0 1291.1L801.3 1243.9L801.7 1257.3L802.0 1259.5L802.4 1266.5L802.7 1246.4L803.1 1242.7L803.4 1218.9L803.8 1240.5L804.1 1254.8L804.5 1215.6L804.8 1295.2L805.2 1264.9L805.5 1235.0L805.9 1256.1L806.2 1258.8L806.6 1246.7L806.9 1221.5L807.3 1293.4L807.6 1215.8L808.0 1267.2L808.3 1272.2L808.7 1275.1L809.0 1266.0L809.4 1286.2L809.7 1251.8L810.1 1240.8L810.4 1259.9L810.8 1273.9L811.1 1262.7L811.5 1254.1L811.8 1277.9L812.2 1257.6L812.5 1220.4L812.9 1259.4L813.2 1266.1L813.6 1273.6L813.9 1235.5L814.3 1265.7L814.6 1257.1L815.0 1222.6L815.3 1262.4L815.7 1246.1L816.0 1247.7L816.4 1486.6L816.7 1274.9L817.1 1220.8L817.4 1233.0L817.8 1258.0L818.1 1212.4L818.5 1264.1L818.8 1259.2L819.2 1276.3L819.5 1253.0L819.9 1248.3L820.2 1264.8L820.6 1264.2L820.9 1276.5L821.3 1278.7L821.6 1271.6L822.0 1238.3L822.3 1257.1L822.7 1254.2L823.0 1349.6L823.4 1238.6L823.7 1248.4L824.1 1257.2L824.4 1266.2L824.8 1268.6L825.1 1283.5L825.5 1226.4L825.8 1241.9L826.2 1227.5L826.5 1254.7L826.9 1254.1L827.2 1259.3L827.6 1285.9L827.9 1311.7L828.3 1259.3L828.6 1280.1L829.0 1267.3L829.3 1228.0L829.7 1257.4L830.0 1341.4L830.4 1248.2L830.7 1256.1L831.1 1268.6L831.4 1284.9L831.8 1246.0L832.1 1259.2L832.5 1270.7L832.8 1283.9L833.2 1259.9L833.5 1272.6L833.9 1275.4L834.2 1250.6L834.6 1269.8L834.9 1246.6L835.3 1239.6L835.6 1267.9L836.0 1261.3L836.3 1261.5L836.7 1266.7L837.0 1253.0L837.4 1269.8L837.7 1271.7L838.1 1281.9L838.4 1256.2L838.8 1249.2L839.1 1242.8L839.5 1263.4L839.9 1267.5L840.2 1288.4L840.6 1257.1L840.9 1246.8L841.3 1251.8L841.6 1258.4L842.0 1228.6L842.3 1335.6L842.7 1279.4L843.0 1267.2L843.4 1250.5L843.7 1258.2L844.1 1214.5L844.4 1259.8L844.8 1246.3L845.1 1271.6L845.5 1279.2L845.8 1243.5L846.2 1212.0L846.5 1292.2L846.9 1248.2L847.2 1246.1L847.6 1226.6L847.9 1257.5L848.3 1269.4L848.6 1262.9L849.0 1244.9L849.3 1279.8L849.7 1249.9L850.0 1259.2L850.4 1268.4L850.7 1279.1L851.1 1260.7L851.4 1239.5L851.8 1246.6L852.1 1237.2L852.5 1289.4L852.8 1251.4L853.2 1268.4L853.5 1331.2L853.9 1255.4L854.2 1223.1L854.6 1271.4L854.9 1254.5L855.3 1312.3L855.6 1218.7L856.0 1277.8L856.3 1276.4L856.7 1251.6L857.0 1225.3L857.4 1323.0L857.7 1238.0L858.1 1277.5L858.4 1233.4L858.8 1251.1L859.1 1239.8L859.5 1245.1L859.8 1267.4L860.2 1264.1L860.5 1242.3L860.9 1242.1L861.2 1233.1L861.6 1244.7L861.9 1258.9L862.3 1253.8L862.6 1263.0L863.0 1374.9L863.3 1247.9L863.7 1244.2L864.0 1253.6L864.4 1264.3L864.7 1248.1L865.1 1283.1L865.4 1244.5L865.8 1247.0L866.1 1271.2L866.5 1302.2L866.8 1239.0L867.2 1240.7L867.5 1259.6L867.9 1249.4L868.2 1303.5L868.6 1241.6L868.9 1229.9L869.3 1272.0L869.6 1300.0L870.0 1255.9L870.3 1239.1L870.7 1265.7L871.0 1235.5L871.4 1248.4L871.7 1326.5L872.1 1246.8L872.4 1238.6L872.8 1254.9L873.1 1281.7L873.5 1286.6L873.8 1291.4L874.2 1284.8L874.5 1236.6L874.9 1244.2L875.2 1277.9L875.6 1240.0L875.9 1276.8L876.3 1252.5L876.6 1255.1L877.0 1269.5L877.3 1262.5L877.7 1270.2L878.0 1260.8L878.4 1243.3L878.7 1273.8L879.1 1248.8L879.4 1325.7L879.8 1230.6L880.1 1277.2L880.5 1281.4L880.8 1331.8L881.2 1265.0L881.5 1264.6L881.9 1255.3L882.2 1288.8L882.6 1233.8L882.9 1272.0L883.3 1266.6L883.7 1272.1L884.0 1264.9L884.4 1240.4L884.7 1260.9L885.1 1251.1L885.4 1216.3L885.8 1240.1L886.1 1249.6L886.5 1278.9L886.8 1246.4L887.2 1243.7L887.5 1258.9L887.9 1283.9L888.2 1262.0L888.6 1271.9L888.9 1240.0L889.3 1251.8L889.6 1254.0L890.0 1271.4L890.3 1269.9L890.7 1245.5L891.0 1245.0L891.4 1235.3L891.7 1253.8L892.1 1258.2L892.4 1290.5L892.8 1273.0L893.1 1261.0L893.5 1268.9L893.8 1244.4L894.2 1277.3L894.5 1268.1L894.9 1258.7L895.2 1251.6L895.6 1260.5L895.9 1253.4L896.3 1262.0L896.6 1274.3L897.0 1256.7L897.3 1238.3L897.7 1258.6L898.0 1258.7L898.4 1254.5L898.7 1251.2L899.1 1257.2L899.4 1281.7L899.8 1251.0L900.1 1230.5L900.5 1202.6L900.8 1267.0L901.2 1252.6L901.5 1263.3L901.9 1292.5L902.2 1223.6L902.6 1272.2L902.9 1234.8L903.3 1263.0L903.6 1265.7L904.0 1279.3L904.3 1258.6L904.7 1254.1L905.0 1259.6L905.4 1256.7L905.7 1260.0L906.1 1256.6L906.4 1270.7L906.8 1246.1L907.1 1237.6L907.5 1257.2L907.8 1250.8L908.2 1255.5L908.5 1267.5L908.9 1229.1L909.2 1275.5L909.6 1244.2L909.9 1241.9L910.3 1276.7L910.6 1244.1L911.0 1286.9L911.3 1241.0L911.7 1288.1L912.0 1234.8L912.4 1255.0L912.7 1293.0L913.1 1282.7L913.4 1205.0L913.8 1271.5L914.1 1272.0L914.5 1268.5L914.8 1259.2L915.2 1281.8L915.5 1266.4L915.9 1261.3L916.2 1205.3L916.6 1255.2L916.9 1277.5L917.3 1254.2L917.6 1231.2L918.0 1240.2L918.3 1265.7L918.7 1240.3L919.0 1561.0L919.4 1253.2L919.7 1242.4L920.1 1268.9L920.4 1228.6L920.8 1261.0L921.1 1257.5L921.5 1289.7L921.8 1294.0L922.2 1254.8L922.5 1498.5L922.9 1289.3L923.2 1260.1L923.6 1261.3L923.9 1248.7L924.3 1265.5L924.6 1267.7L925.0 1202.9L925.3 1225.8L925.7 1279.0L926.0 1234.0L926.4 1274.9L926.7 1255.6L927.1 1257.4L927.5 1260.9L927.8 1260.2L928.2 1264.9L928.5 1246.5L928.9 1231.8L929.2 1224.9L929.6 1314.0L929.9 1223.9L930.3 1318.2L930.6 1290.1L931.0 1260.3L931.3 1211.5L931.7 1227.5L932.0 1491.0L932.4 1272.3L932.7 1277.9L933.1 1220.3L933.4 1346.0L933.8 1233.4L934.1 1262.8L934.5 1272.5L934.8 1306.4L935.2 1257.0L935.5 1256.5L935.9 1262.3L936.2 1270.7L936.6 1297.4L936.9 1267.9L937.3 1295.0L937.6 1244.3L938.0 1238.9L938.3 1248.9L938.7 1241.8L939.0 1250.0L939.4 1257.8L939.7 1279.7L940.1 1284.0L940.4 1258.5L940.8 1285.0L941.1 1238.3L941.5 1287.4L941.8 1254.9L942.2 1263.2L942.5 1295.4L942.9 1266.3L943.2 1245.0L943.6 1244.6L943.9 1261.4L944.3 1265.9L944.6 1267.5L945.0 1281.6L945.3 1263.2L945.7 1284.4L946.0 1271.5L946.4 1239.3L946.7 1253.6L947.1 1280.9L947.4 1273.3L947.8 1319.1L948.1 1282.2L948.5 1258.0L948.8 1228.6L949.2 1254.0L949.5 1235.4L949.9 1257.4L950.2 1228.1L950.6 1256.5L950.9 1258.3L951.3 1288.6L951.6 1269.3L952.0 1265.4L952.3 1268.1L952.7 1256.2L953.0 1264.3L953.4 1226.5L953.7 1292.8L954.1 1248.6L954.4 1292.0L954.8 1258.0L955.1 1236.4L955.5 1271.2L955.8 1302.9L956.2 1253.7L956.5 1233.5L956.9 1259.2L957.2 1270.6L957.6 1270.0L957.9 1253.1L958.3 1328.8L958.6 1375.0L959.0 1272.0L959.3 1260.7L959.7 1260.8L960.0 1255.6L960.4 1244.6L960.7 1225.1L961.1 1284.1L961.4 1297.5L961.8 1263.2L962.1 1261.7L962.5 1293.4L962.8 1242.1L963.2 1302.3L963.5 1267.9L963.9 1218.2L964.2 1267.4L964.6 1244.2L964.9 1274.9L965.3 1277.0L965.6 1248.7L966.0 1246.7L966.3 1288.7L966.7 1277.6L967.0 1269.0L967.4 1261.1L967.7 1275.9L968.1 1244.0L968.4 1271.3L968.8 1267.1L969.1 1273.7L969.5 1303.1L969.8 1250.1L970.2 1272.2L970.5 1252.5L970.9 1260.2L971.3 1208.5L971.6 1473.2L972.0 1237.7L972.3 1296.4L972.7 1220.0L973.0 1251.5L973.4 1277.9L973.7 1251.9L974.1 1270.7L974.4 1230.2L974.8 1262.9L975.1 1261.6L975.5 1218.1L975.8 1262.3L976.2 1278.8L976.5 1251.8L976.9 1273.4L977.2 1283.2L977.6 1312.4L977.9 1248.9L978.3 1286.9L978.6 1241.9L979.0 1325.0L979.3 1264.1L979.7 1239.8L980.0 1253.0L980.4 1283.9L980.7 1345.7L981.1 1278.2L981.4 1295.1L981.8 1247.5L982.1 1216.1L982.5 1278.0L982.8 1291.6L983.2 1271.1L983.5 1252.4L983.9 1248.0L984.2 1272.5L984.6 1280.2L984.9 1273.9L985.3 1254.0L985.6 1211.3L986.0 1252.0L986.3 1256.1L986.7 1248.2L987.0 1263.5L987.4 1258.7L987.7 1289.9L988.1 1282.5L988.4 1297.1L988.8 1249.0L989.1 1286.2L989.5 1253.2L989.8 1230.6L990.2 1244.4L990.5 1270.8L990.9 1377.5"/>
</g>
</g>
<g filter="url(#baB)">
<rect x="660.8" y="999.2" width="308.5" height="84.6" fill="#fff" stroke="#5e5e5e" stroke-width="2.20"/>
<path d="M676.6 1022.3H759.3" stroke="#de9473" stroke-width="1.9"/>
<path d="M676.6 1060.1H759.3" stroke="#5fa6d3" stroke-width="1.9"/>
<g font-family='"Liberation Sans", Arial, Helvetica, sans-serif' font-size="28.2" fill="#101010" stroke="#101010" stroke-width="0.45">
<text x="767.6" y="1031.7" text-anchor="start" textLength="190.9" lengthAdjust="spacingAndGlyphs">Predicted Value</text>
<text x="767.6" y="1069.6" text-anchor="start" textLength="151.5" lengthAdjust="spacingAndGlyphs">Actual Value</text>
<text x="366.9" y="953.1" text-anchor="start" textLength="352.0" lengthAdjust="spacingAndGlyphs" xml:space="preserve">RMSE error: 0.011  SSE:0.32</text>
<text x="481.6" y="1694.6" text-anchor="start" textLength="122.5" lengthAdjust="spacingAndGlyphs" font-size="25.7">Data point</text>
<text x="248.4" y="1662.0" text-anchor="start" textLength="43.8" lengthAdjust="spacingAndGlyphs" font-size="27.5">500</text>
<text x="415.8" y="1662.0" text-anchor="start" textLength="59.5" lengthAdjust="spacingAndGlyphs" font-size="27.5">1000</text>
<text x="591.0" y="1662.0" text-anchor="start" textLength="59.5" lengthAdjust="spacingAndGlyphs" font-size="27.5">1500</text>
<text x="766.2" y="1662.0" text-anchor="start" textLength="59.5" lengthAdjust="spacingAndGlyphs" font-size="27.5">2000</text>
<text x="941.4" y="1662.0" text-anchor="start" textLength="59.5" lengthAdjust="spacingAndGlyphs" font-size="27.5">2500</text>
<text x="34.9" y="1566.8" text-anchor="start" textLength="52.7" lengthAdjust="spacingAndGlyphs" font-size="27.5">0.45</text>
<text x="50.4" y="1465.7" text-anchor="start" textLength="37.2" lengthAdjust="spacingAndGlyphs" font-size="27.5">0.5</text>
<text x="34.9" y="1364.5" text-anchor="start" textLength="52.7" lengthAdjust="spacingAndGlyphs" font-size="27.5">0.55</text>
<text x="50.4" y="1263.4" text-anchor="start" textLength="37.2" lengthAdjust="spacingAndGlyphs" font-size="27.5">0.6</text>
<text x="34.9" y="1162.2" text-anchor="start" textLength="52.7" lengthAdjust="spacingAndGlyphs" font-size="27.5">0.65</text>
<text x="50.4" y="1061.1" text-anchor="start" textLength="37.2" lengthAdjust="spacingAndGlyphs" font-size="27.5">0.7</text>
<text transform="translate(17.5 1302.5) rotate(-90)" text-anchor="middle" font-size="25.7">y</text>
</g>
</g>
<g font-family='"Liberation Serif", "Times New Roman", Times, serif' font-size="60.5" fill="#111">
<text x="329.6" y="866.0" textLength="65.2" lengthAdjust="spacingAndGlyphs" font-weight="bold">(a)</text>
<text x="412.6" y="866.0" textLength="323.6" lengthAdjust="spacingAndGlyphs">Overall Stage</text>
<text x="297.5" y="1785.0" textLength="465.2" lengthAdjust="spacingAndGlyphs" xml:space="preserve">(b)  Multiple stages</text>
</g>
</svg>
</body></html>
